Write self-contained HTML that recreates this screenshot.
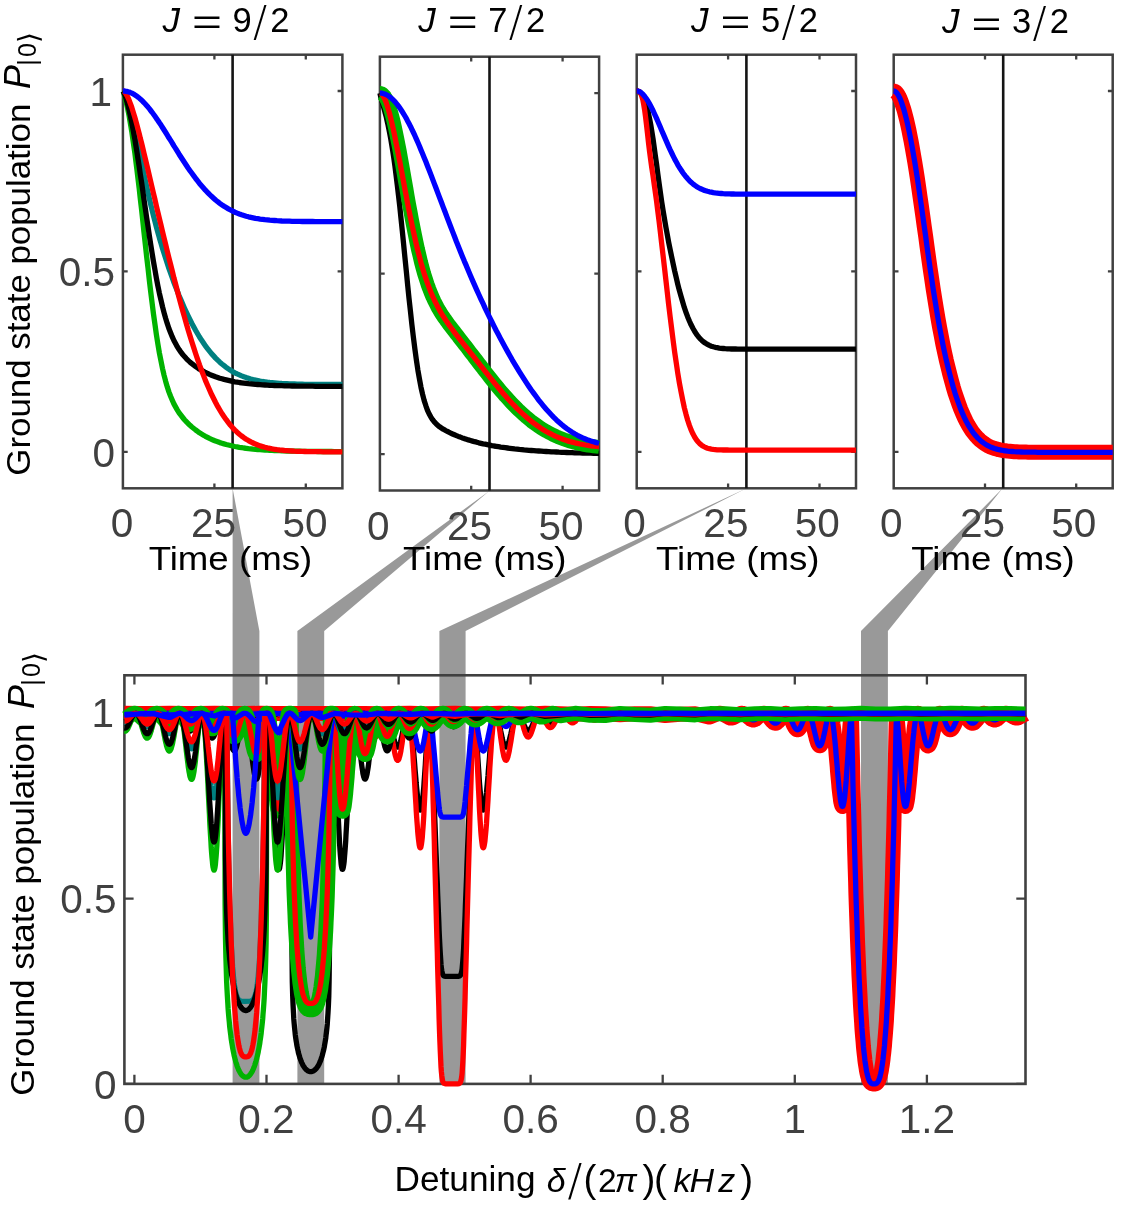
<!DOCTYPE html><html><head><meta charset="utf-8"><title>Ground state population vs detuning</title>
<style>html,body{margin:0;padding:0;background:#fff}svg{display:block}</style></head><body>
<svg width="1125" height="1205" viewBox="0 0 1125 1205">
<rect width="1125" height="1205" fill="#fff"/>
<path d="M232.6,488.3 L259.4,631 L259.4,1083.9 L232.6,1083.9 L232.6,488.3Z" fill="#999999"/>
<path d="M488.9,491.2 L324.2,631 L324.2,1083.9 L297.4,1083.9 L297.4,631Z" fill="#999999"/>
<path d="M746,488.6 L465.6,631 L465.6,1083.9 L439.4,1083.9 L439.4,631Z" fill="#999999"/>
<path d="M1002.4,488.6 L887.9,631 L887.9,1083.9 L861,1083.9 L861,631Z" fill="#999999"/>
<rect x="122.9" y="54.7" width="219.5" height="433.6" fill="none" stroke="#404040" stroke-width="2.5"/>
<path d="M214.4 54.7v4.8M214.4 488.3v-4.8" stroke="#404040" stroke-width="2.3"/>
<path d="M305.8 54.7v4.8M305.8 488.3v-4.8" stroke="#404040" stroke-width="2.3"/>
<path d="M122.9 451.8h4.8M342.4 451.8h-4.8" stroke="#404040" stroke-width="2.3"/>
<path d="M122.9 271.4h4.8M342.4 271.4h-4.8" stroke="#404040" stroke-width="2.3"/>
<path d="M122.9 91h4.8M342.4 91h-4.8" stroke="#404040" stroke-width="2.3"/>
<line x1="232.6" y1="54.7" x2="232.6" y2="488.3" stroke="#141414" stroke-width="2.6"/>
<path d="M122.9,91 L123.1,91.3 L123.4,92.1 L123.8,93.2 L124.3,94.7 L124.8,96.6 L125.4,98.8 L126,101.4 L126.7,104.3 L127.5,107.7 L128.2,111.5 L129.1,115.8 L129.9,120.6 L130.8,125.9 L131.8,131.7 L132.7,138.1 L133.7,145 L134.8,152.5 L135.8,160.7 L136.9,169.4 L138,178.7 L139.2,188.5 L140.3,198.8 L141.6,209.6 L142.8,220.9 L144,232.4 L145.3,244.2 L146.6,256.1 L148,268 L149.3,279.9 L150.7,291.6 L152.1,303 L153.5,314.1 L155,324.7 L156.4,334.7 L157.9,344.2 L159.4,353 L161,361.1 L162.5,368.5 L164.1,375.3 L165.7,381.4 L167.3,386.9 L168.9,391.9 L170.6,396.3 L172.3,400.3 L173.9,403.9 L175.7,407.1 L177.4,410.1 L179.1,412.8 L180.9,415.2 L182.7,417.5 L184.5,419.7 L186.3,421.6 L188.1,423.5 L190,425.3 L191.9,427 L193.8,428.5 L195.7,430 L197.6,431.4 L199.5,432.8 L201.5,434 L203.5,435.2 L205.4,436.3 L207.5,437.4 L209.5,438.4 L211.5,439.3 L213.6,440.2 L215.6,441.1 L217.7,441.8 L219.8,442.6 L221.9,443.2 L224.1,443.9 L226.2,444.5 L228.4,445 L230.5,445.5 L232.7,446 L234.9,446.5 L237.1,446.9 L239.4,447.3 L241.6,447.6 L243.9,448 L246.2,448.3 L248.5,448.6 L250.8,448.8 L253.1,449.1 L255.4,449.3 L257.8,449.5 L260.1,449.7 L262.5,449.9 L264.9,450 L267.3,450.2 L269.7,450.3 L272.1,450.4 L274.5,450.5 L277,450.6 L279.5,450.7 L281.9,450.8 L284.4,450.9 L286.9,451 L289.5,451 L292,451.1 L294.5,451.2 L297.1,451.2 L299.7,451.2 L302.2,451.3 L304.8,451.3 L307.4,451.4 L310,451.4 L312.7,451.4 L315.3,451.4 L318,451.5 L320.6,451.5 L323.3,451.5 L326,451.5 L328.7,451.5 L331.4,451.5 L334.2,451.6 L336.9,451.6 L339.6,451.6 L342.4,451.6" fill="none" stroke="#00b300" stroke-width="5.3" stroke-linejoin="round"/>
<path d="M122.9,91 L123.1,91 L123.4,91.2 L123.8,91.6 L124.3,92.1 L124.8,93 L125.4,94.2 L126,95.6 L126.7,97.4 L127.5,99.6 L128.2,102.1 L129.1,105 L129.9,108.2 L130.8,111.8 L131.8,115.7 L132.7,120 L133.7,124.5 L134.8,129.3 L135.8,134.4 L136.9,139.7 L138,145.2 L139.2,150.8 L140.3,156.6 L141.6,162.5 L142.8,168.4 L144,174.4 L145.3,180.4 L146.6,186.4 L148,192.4 L149.3,198.4 L150.7,204.3 L152.1,210.1 L153.5,215.8 L155,221.5 L156.4,227.1 L157.9,232.5 L159.4,237.9 L161,243.2 L162.5,248.4 L164.1,253.5 L165.7,258.5 L167.3,263.5 L168.9,268.3 L170.6,273.1 L172.3,277.8 L173.9,282.4 L175.7,286.9 L177.4,291.3 L179.1,295.7 L180.9,299.9 L182.7,304.1 L184.5,308.2 L186.3,312.2 L188.1,316 L190,319.8 L191.9,323.5 L193.8,327 L195.7,330.5 L197.6,333.8 L199.5,337 L201.5,340.1 L203.5,343 L205.4,345.9 L207.5,348.6 L209.5,351.1 L211.5,353.6 L213.6,355.9 L215.6,358.1 L217.7,360.2 L219.8,362.2 L221.9,364 L224.1,365.7 L226.2,367.3 L228.4,368.9 L230.5,370.3 L232.7,371.6 L234.9,372.8 L237.1,373.9 L239.4,374.9 L241.6,375.9 L243.9,376.8 L246.2,377.6 L248.5,378.3 L250.8,379 L253.1,379.6 L255.4,380.1 L257.8,380.6 L260.1,381.1 L262.5,381.5 L264.9,381.8 L267.3,382.2 L269.7,382.5 L272.1,382.7 L274.5,382.9 L277,383.1 L279.5,383.3 L281.9,383.5 L284.4,383.6 L286.9,383.7 L289.5,383.8 L292,383.9 L294.5,384 L297.1,384.1 L299.7,384.2 L302.2,384.2 L304.8,384.3 L307.4,384.3 L310,384.3 L312.7,384.4 L315.3,384.4 L318,384.4 L320.6,384.4 L323.3,384.4 L326,384.4 L328.7,384.4 L331.4,384.5 L334.2,384.5 L336.9,384.5 L339.6,384.5 L342.4,384.5" fill="none" stroke="#008080" stroke-width="5.3" stroke-linejoin="round"/>
<path d="M122.9,91 L123.1,91.2 L123.4,91.7 L123.8,92.5 L124.3,93.6 L124.8,94.9 L125.4,96.6 L126,98.6 L126.7,100.9 L127.5,103.6 L128.2,106.6 L129.1,110 L129.9,113.7 L130.8,117.9 L131.8,122.5 L132.7,127.5 L133.7,133 L134.8,138.9 L135.8,145.1 L136.9,151.9 L138,159 L139.2,166.5 L140.3,174.3 L141.6,182.5 L142.8,190.9 L144,199.5 L145.3,208.4 L146.6,217.3 L148,226.3 L149.3,235.3 L150.7,244.3 L152.1,253.1 L153.5,261.7 L155,270.1 L156.4,278.2 L157.9,285.9 L159.4,293.3 L161,300.2 L162.5,306.7 L164.1,312.8 L165.7,318.5 L167.3,323.7 L168.9,328.5 L170.6,332.8 L172.3,336.9 L173.9,340.5 L175.7,343.8 L177.4,346.9 L179.1,349.6 L180.9,352.2 L182.7,354.5 L184.5,356.6 L186.3,358.6 L188.1,360.4 L190,362.1 L191.9,363.7 L193.8,365.2 L195.7,366.6 L197.6,367.9 L199.5,369.2 L201.5,370.3 L203.5,371.4 L205.4,372.5 L207.5,373.4 L209.5,374.4 L211.5,375.2 L213.6,376 L215.6,376.8 L217.7,377.5 L219.8,378.2 L221.9,378.8 L224.1,379.4 L226.2,379.9 L228.4,380.4 L230.5,380.9 L232.7,381.4 L234.9,381.8 L237.1,382.1 L239.4,382.5 L241.6,382.8 L243.9,383.1 L246.2,383.4 L248.5,383.7 L250.8,383.9 L253.1,384.1 L255.4,384.3 L257.8,384.5 L260.1,384.7 L262.5,384.9 L264.9,385 L267.3,385.1 L269.7,385.3 L272.1,385.4 L274.5,385.5 L277,385.6 L279.5,385.6 L281.9,385.7 L284.4,385.8 L286.9,385.9 L289.5,385.9 L292,386 L294.5,386 L297.1,386.1 L299.7,386.1 L302.2,386.1 L304.8,386.2 L307.4,386.2 L310,386.2 L312.7,386.2 L315.3,386.3 L318,386.3 L320.6,386.3 L323.3,386.3 L326,386.3 L328.7,386.3 L331.4,386.3 L334.2,386.4 L336.9,386.4 L339.6,386.4 L342.4,386.4" fill="none" stroke="#000000" stroke-width="5.3" stroke-linejoin="round"/>
<path d="M122.9,91 L123.1,91 L123.4,91.1 L123.8,91.3 L124.3,91.7 L124.8,92.3 L125.4,93 L126,93.9 L126.7,95.1 L127.5,96.5 L128.2,98.2 L129.1,100.1 L129.9,102.3 L130.8,104.7 L131.8,107.4 L132.7,110.4 L133.7,113.7 L134.8,117.2 L135.8,120.9 L136.9,124.9 L138,129.1 L139.2,133.6 L140.3,138.3 L141.6,143.1 L142.8,148.1 L144,153.3 L145.3,158.7 L146.6,164.2 L148,169.9 L149.3,175.6 L150.7,181.5 L152.1,187.5 L153.5,193.6 L155,199.7 L156.4,206 L157.9,212.3 L159.4,218.7 L161,225.1 L162.5,231.6 L164.1,238.1 L165.7,244.7 L167.3,251.3 L168.9,257.9 L170.6,264.5 L172.3,271.2 L173.9,277.8 L175.7,284.5 L177.4,291.1 L179.1,297.7 L180.9,304.2 L182.7,310.7 L184.5,317.1 L186.3,323.5 L188.1,329.8 L190,335.9 L191.9,342 L193.8,347.9 L195.7,353.7 L197.6,359.4 L199.5,364.9 L201.5,370.2 L203.5,375.4 L205.4,380.4 L207.5,385.2 L209.5,389.8 L211.5,394.3 L213.6,398.5 L215.6,402.5 L217.7,406.4 L219.8,410 L221.9,413.5 L224.1,416.7 L226.2,419.7 L228.4,422.6 L230.5,425.3 L232.7,427.8 L234.9,430.1 L237.1,432.2 L239.4,434.2 L241.6,436 L243.9,437.7 L246.2,439.2 L248.5,440.6 L250.8,441.9 L253.1,443 L255.4,444.1 L257.8,445 L260.1,445.9 L262.5,446.6 L264.9,447.3 L267.3,447.9 L269.7,448.4 L272.1,448.9 L274.5,449.3 L277,449.7 L279.5,450 L281.9,450.2 L284.4,450.5 L286.9,450.7 L289.5,450.9 L292,451 L294.5,451.2 L297.1,451.3 L299.7,451.4 L302.2,451.4 L304.8,451.5 L307.4,451.6 L310,451.6 L312.7,451.7 L315.3,451.7 L318,451.7 L320.6,451.7 L323.3,451.8 L326,451.8 L328.7,451.8 L331.4,451.8 L334.2,451.8 L336.9,451.8 L339.6,451.8 L342.4,451.8" fill="none" stroke="#ff0000" stroke-width="5.3" stroke-linejoin="round"/>
<path d="M122.9,91 L123.1,91 L123.4,91 L123.8,91 L124.3,91 L124.8,91.1 L125.4,91.2 L126,91.3 L126.7,91.4 L127.5,91.6 L128.2,91.8 L129.1,92 L129.9,92.3 L130.8,92.7 L131.8,93.1 L132.7,93.6 L133.7,94.2 L134.8,94.8 L135.8,95.5 L136.9,96.2 L138,97.1 L139.2,98 L140.3,99.1 L141.6,100.2 L142.8,101.4 L144,102.7 L145.3,104 L146.6,105.5 L148,107.1 L149.3,108.7 L150.7,110.5 L152.1,112.3 L153.5,114.2 L155,116.3 L156.4,118.4 L157.9,120.5 L159.4,122.8 L161,125.1 L162.5,127.5 L164.1,130 L165.7,132.5 L167.3,135.1 L168.9,137.8 L170.6,140.4 L172.3,143.1 L173.9,145.9 L175.7,148.6 L177.4,151.4 L179.1,154.2 L180.9,157 L182.7,159.8 L184.5,162.5 L186.3,165.3 L188.1,168 L190,170.7 L191.9,173.3 L193.8,175.9 L195.7,178.5 L197.6,180.9 L199.5,183.4 L201.5,185.7 L203.5,188 L205.4,190.2 L207.5,192.3 L209.5,194.4 L211.5,196.3 L213.6,198.2 L215.6,200 L217.7,201.7 L219.8,203.3 L221.9,204.8 L224.1,206.3 L226.2,207.6 L228.4,208.9 L230.5,210 L232.7,211.1 L234.9,212.2 L237.1,213.1 L239.4,214 L241.6,214.8 L243.9,215.5 L246.2,216.2 L248.5,216.8 L250.8,217.3 L253.1,217.8 L255.4,218.3 L257.8,218.7 L260.1,219.1 L262.5,219.4 L264.9,219.7 L267.3,219.9 L269.7,220.2 L272.1,220.4 L274.5,220.5 L277,220.7 L279.5,220.8 L281.9,221 L284.4,221.1 L286.9,221.1 L289.5,221.2 L292,221.3 L294.5,221.3 L297.1,221.4 L299.7,221.4 L302.2,221.5 L304.8,221.5 L307.4,221.5 L310,221.5 L312.7,221.5 L315.3,221.6 L318,221.6 L320.6,221.6 L323.3,221.6 L326,221.6 L328.7,221.6 L331.4,221.6 L334.2,221.6 L336.9,221.6 L339.6,221.6 L342.4,221.6" fill="none" stroke="#0000ff" stroke-width="5.3" stroke-linejoin="round"/>
<rect x="379.9" y="56.7" width="219.2" height="433.8" fill="none" stroke="#404040" stroke-width="2.5"/>
<path d="M471.2 56.7v4.8M471.2 490.5v-4.8" stroke="#404040" stroke-width="2.3"/>
<path d="M562.6 56.7v4.8M562.6 490.5v-4.8" stroke="#404040" stroke-width="2.3"/>
<path d="M379.9 454.1h4.8M599.1 454.1h-4.8" stroke="#404040" stroke-width="2.3"/>
<path d="M379.9 273.6h4.8M599.1 273.6h-4.8" stroke="#404040" stroke-width="2.3"/>
<path d="M379.9 93.1h4.8M599.1 93.1h-4.8" stroke="#404040" stroke-width="2.3"/>
<line x1="489.5" y1="56.7" x2="489.5" y2="490.5" stroke="#141414" stroke-width="2.6"/>
<path d="M379.9,93.1 L380.1,94 L380.4,95.3 L380.8,96.9 L381.3,98.6 L381.8,100.6 L382.4,102.7 L383,105 L383.7,107.5 L384.5,110.2 L385.2,113.1 L386.1,116.3 L386.9,119.9 L387.8,123.8 L388.7,128.2 L389.7,133.1 L390.7,138.5 L391.7,144.5 L392.8,151.2 L393.9,158.5 L395,166.6 L396.1,175.5 L397.3,185.1 L398.5,195.5 L399.8,206.7 L401,218.5 L402.3,231 L403.6,243.9 L404.9,257.3 L406.3,270.9 L407.6,284.6 L409,298.3 L410.5,311.8 L411.9,324.8 L413.4,337.3 L414.9,349.1 L416.4,360.1 L417.9,370.2 L419.5,379.3 L421,387.3 L422.6,394.4 L424.2,400.6 L425.9,405.8 L427.5,410.3 L429.2,414 L430.9,417.1 L432.6,419.7 L434.3,421.9 L436.1,423.8 L437.8,425.4 L439.6,426.8 L441.4,428 L443.2,429.2 L445.1,430.2 L446.9,431.2 L448.8,432.2 L450.7,433.1 L452.6,434 L454.5,434.8 L456.4,435.6 L458.4,436.4 L460.3,437.1 L462.3,437.9 L464.3,438.6 L466.4,439.2 L468.4,439.9 L470.4,440.5 L472.5,441.1 L474.6,441.7 L476.7,442.2 L478.8,442.8 L480.9,443.3 L483.1,443.8 L485.2,444.2 L487.4,444.7 L489.6,445.1 L491.8,445.6 L494,446 L496.2,446.3 L498.5,446.7 L500.7,447.1 L503,447.4 L505.3,447.7 L507.6,448 L509.9,448.3 L512.2,448.6 L514.6,448.9 L516.9,449.1 L519.3,449.4 L521.7,449.6 L524.1,449.9 L526.5,450.1 L528.9,450.3 L531.3,450.5 L533.8,450.7 L536.3,450.9 L538.7,451 L541.2,451.2 L543.7,451.4 L546.2,451.5 L548.8,451.6 L551.3,451.8 L553.8,451.9 L556.4,452 L559,452.2 L561.6,452.3 L564.2,452.4 L566.8,452.5 L569.4,452.6 L572.1,452.7 L574.7,452.8 L577.4,452.8 L580,452.9 L582.7,453 L585.4,453.1 L588.1,453.1 L590.9,453.2 L593.6,453.3 L596.3,453.3 L599.1,453.4" fill="none" stroke="#000000" stroke-width="5.3" stroke-linejoin="round"/>
<path d="M379.9,93.1 L380.1,93.1 L380.4,93.1 L380.8,93.2 L381.3,93.3 L381.8,93.5 L382.4,93.9 L383,94.4 L383.7,95.1 L384.5,95.9 L385.2,97.1 L386.1,98.5 L386.9,100.2 L387.8,102.3 L388.7,104.7 L389.7,107.5 L390.7,110.8 L391.7,114.4 L392.8,118.4 L393.9,122.9 L395,127.8 L396.1,133.2 L397.3,138.9 L398.5,145 L399.8,151.6 L401,158.4 L402.3,165.5 L403.6,172.9 L404.9,180.5 L406.3,188.2 L407.6,196.1 L409,203.9 L410.5,211.8 L411.9,219.6 L413.4,227.2 L414.9,234.7 L416.4,242 L417.9,249 L419.5,255.7 L421,262.1 L422.6,268.1 L424.2,273.8 L425.9,279.2 L427.5,284.2 L429.2,288.8 L430.9,293.1 L432.6,297.2 L434.3,300.9 L436.1,304.4 L437.8,307.7 L439.6,310.8 L441.4,313.7 L443.2,316.5 L445.1,319.1 L446.9,321.7 L448.8,324.3 L450.7,326.8 L452.6,329.3 L454.5,331.7 L456.4,334.2 L458.4,336.7 L460.3,339.2 L462.3,341.8 L464.3,344.3 L466.4,346.9 L468.4,349.6 L470.4,352.3 L472.5,354.9 L474.6,357.7 L476.7,360.4 L478.8,363.2 L480.9,365.9 L483.1,368.7 L485.2,371.5 L487.4,374.3 L489.6,377.1 L491.8,379.9 L494,382.6 L496.2,385.4 L498.5,388.1 L500.7,390.8 L503,393.4 L505.3,396.1 L507.6,398.6 L509.9,401.2 L512.2,403.6 L514.6,406 L516.9,408.4 L519.3,410.7 L521.7,412.9 L524.1,415.1 L526.5,417.2 L528.9,419.2 L531.3,421.2 L533.8,423 L536.3,424.8 L538.7,426.5 L541.2,428.2 L543.7,429.7 L546.2,431.2 L548.8,432.6 L551.3,433.9 L553.8,435.2 L556.4,436.4 L559,437.5 L561.6,438.5 L564.2,439.5 L566.8,440.4 L569.4,441.2 L572.1,442 L574.7,442.7 L577.4,443.3 L580,443.9 L582.7,444.5 L585.4,445 L588.1,445.5 L590.9,445.9 L593.6,446.3 L596.3,446.6 L599.1,446.9" fill="none" stroke="#00b300" stroke-width="14.0" stroke-linejoin="round"/>
<path d="M379.9,93.1 L380.1,93.1 L380.4,93.2 L380.8,93.3 L381.3,93.7 L381.8,94.1 L382.4,94.8 L383,95.7 L383.7,96.9 L384.5,98.4 L385.2,100.1 L386.1,102.2 L386.9,104.7 L387.8,107.4 L388.7,110.6 L389.7,114.1 L390.7,118.1 L391.7,122.3 L392.8,127 L393.9,132 L395,137.3 L396.1,143 L397.3,148.9 L398.5,155.2 L399.8,161.6 L401,168.3 L402.3,175.1 L403.6,182.1 L404.9,189.2 L406.3,196.3 L407.6,203.4 L409,210.6 L410.5,217.6 L411.9,224.6 L413.4,231.4 L414.9,238.1 L416.4,244.6 L417.9,250.9 L419.5,256.9 L421,262.7 L422.6,268.3 L424.2,273.6 L425.9,278.6 L427.5,283.4 L429.2,287.9 L430.9,292.2 L432.6,296.2 L434.3,300 L436.1,303.6 L437.8,307 L439.6,310.3 L441.4,313.4 L443.2,316.3 L445.1,319.2 L446.9,321.9 L448.8,324.6 L450.7,327.2 L452.6,329.8 L454.5,332.3 L456.4,334.9 L458.4,337.4 L460.3,339.9 L462.3,342.4 L464.3,344.9 L466.4,347.5 L468.4,350 L470.4,352.6 L472.5,355.2 L474.6,357.9 L476.7,360.6 L478.8,363.2 L480.9,366 L483.1,368.7 L485.2,371.4 L487.4,374.2 L489.6,376.9 L491.8,379.6 L494,382.4 L496.2,385.1 L498.5,387.8 L500.7,390.5 L503,393.2 L505.3,395.8 L507.6,398.4 L509.9,401 L512.2,403.5 L514.6,405.9 L516.9,408.3 L519.3,410.6 L521.7,412.9 L524.1,415.1 L526.5,417.2 L528.9,419.3 L531.3,421.3 L533.8,423.2 L536.3,425 L538.7,426.7 L541.2,428.4 L543.7,430 L546.2,431.5 L548.8,432.9 L551.3,434.2 L553.8,435.5 L556.4,436.6 L559,437.7 L561.6,438.7 L564.2,439.7 L566.8,440.6 L569.4,441.4 L572.1,442.1 L574.7,442.8 L577.4,443.4 L580,444 L582.7,444.5 L585.4,445 L588.1,445.4 L590.9,445.8 L593.6,446.1 L596.3,446.4 L599.1,446.7" fill="none" stroke="#ff0000" stroke-width="5.3" stroke-linejoin="round"/>
<path d="M379.9,93.1 L380.1,93.1 L380.4,93.1 L380.8,93.1 L381.3,93.2 L381.8,93.2 L382.4,93.3 L383,93.5 L383.7,93.7 L384.5,93.9 L385.2,94.2 L386.1,94.6 L386.9,95 L387.8,95.5 L388.7,96.1 L389.7,96.8 L390.7,97.6 L391.7,98.5 L392.8,99.5 L393.9,100.6 L395,101.8 L396.1,103.1 L397.3,104.6 L398.5,106.2 L399.8,107.9 L401,109.7 L402.3,111.7 L403.6,113.8 L404.9,116 L406.3,118.4 L407.6,121 L409,123.6 L410.5,126.4 L411.9,129.4 L413.4,132.5 L414.9,135.7 L416.4,139.1 L417.9,142.5 L419.5,146.2 L421,149.9 L422.6,153.7 L424.2,157.7 L425.9,161.8 L427.5,166 L429.2,170.2 L430.9,174.6 L432.6,179.1 L434.3,183.6 L436.1,188.2 L437.8,192.8 L439.6,197.6 L441.4,202.3 L443.2,207.1 L445.1,212 L446.9,216.9 L448.8,221.8 L450.7,226.7 L452.6,231.6 L454.5,236.5 L456.4,241.5 L458.4,246.4 L460.3,251.3 L462.3,256.2 L464.3,261.1 L466.4,265.9 L468.4,270.8 L470.4,275.6 L472.5,280.4 L474.6,285.1 L476.7,289.8 L478.8,294.5 L480.9,299.1 L483.1,303.7 L485.2,308.3 L487.4,312.8 L489.6,317.3 L491.8,321.7 L494,326.1 L496.2,330.5 L498.5,334.8 L500.7,339.1 L503,343.3 L505.3,347.5 L507.6,351.6 L509.9,355.7 L512.2,359.8 L514.6,363.8 L516.9,367.7 L519.3,371.6 L521.7,375.4 L524.1,379.2 L526.5,382.9 L528.9,386.5 L531.3,390 L533.8,393.4 L536.3,396.8 L538.7,400.1 L541.2,403.2 L543.7,406.3 L546.2,409.2 L548.8,412.1 L551.3,414.8 L553.8,417.4 L556.4,419.9 L559,422.2 L561.6,424.5 L564.2,426.6 L566.8,428.6 L569.4,430.4 L572.1,432.2 L574.7,433.8 L577.4,435.3 L580,436.6 L582.7,437.9 L585.4,439 L588.1,440.1 L590.9,441 L593.6,441.8 L596.3,442.6 L599.1,443.3" fill="none" stroke="#0000ff" stroke-width="5.3" stroke-linejoin="round"/>
<rect x="636.7" y="54.7" width="219.3" height="433.6" fill="none" stroke="#404040" stroke-width="2.5"/>
<path d="M728.1 54.7v4.8M728.1 488.3v-4.8" stroke="#404040" stroke-width="2.3"/>
<path d="M819.5 54.7v4.8M819.5 488.3v-4.8" stroke="#404040" stroke-width="2.3"/>
<path d="M636.7 451.8h4.8M856 451.8h-4.8" stroke="#404040" stroke-width="2.3"/>
<path d="M636.7 271.4h4.8M856 271.4h-4.8" stroke="#404040" stroke-width="2.3"/>
<path d="M636.7 91h4.8M856 91h-4.8" stroke="#404040" stroke-width="2.3"/>
<line x1="746.4" y1="54.7" x2="746.4" y2="488.3" stroke="#141414" stroke-width="2.6"/>
<path d="M636.7,91 L636.9,91 L637.2,91 L637.6,91.1 L638.1,91.2 L638.6,91.4 L639.2,91.6 L639.8,92.1 L640.5,92.7 L641.3,93.5 L642,94.5 L642.9,95.9 L643.7,97.6 L644.6,99.7 L645.5,102.3 L646.5,105.4 L647.5,109.2 L648.5,113.6 L649.6,118.7 L650.7,124.5 L651.8,131.2 L653,138.6 L654.1,146.6 L655.3,155.3 L656.6,164.4 L657.8,173.8 L659.1,183.3 L660.4,192.7 L661.7,201.8 L663.1,210.6 L664.5,219 L665.9,227.1 L667.3,234.8 L668.7,242.4 L670.2,249.8 L671.7,257 L673.2,264.1 L674.7,271.1 L676.3,277.8 L677.8,284.3 L679.4,290.6 L681.1,296.5 L682.7,302.1 L684.3,307.4 L686,312.3 L687.7,316.9 L689.4,321 L691.1,324.8 L692.9,328.3 L694.6,331.3 L696.4,334.1 L698.2,336.5 L700,338.6 L701.9,340.4 L703.7,342 L705.6,343.3 L707.5,344.4 L709.4,345.4 L711.3,346.2 L713.3,346.8 L715.2,347.3 L717.2,347.7 L719.2,348.1 L721.2,348.3 L723.2,348.5 L725.2,348.7 L727.3,348.8 L729.3,348.9 L731.4,349 L733.5,349 L735.6,349 L737.8,349.1 L739.9,349.1 L742.1,349.1 L744.2,349.1 L746.4,349.1 L748.6,349.1 L750.8,349.1 L753.1,349.1 L755.3,349.1 L757.6,349.1 L759.9,349.1 L762.1,349.1 L764.4,349.1 L766.8,349.1 L769.1,349.1 L771.4,349.1 L773.8,349.1 L776.2,349.1 L778.5,349.1 L780.9,349.1 L783.3,349.1 L785.8,349.1 L788.2,349.1 L790.7,349.1 L793.1,349.1 L795.6,349.1 L798.1,349.1 L800.6,349.1 L803.1,349.1 L805.6,349.1 L808.2,349.1 L810.7,349.1 L813.3,349.1 L815.9,349.1 L818.5,349.1 L821.1,349.1 L823.7,349.1 L826.3,349.1 L828.9,349.1 L831.6,349.1 L834.3,349.1 L836.9,349.1 L839.6,349.1 L842.3,349.1 L845,349.1 L847.8,349.1 L850.5,349.1 L853.2,349.1 L856,349.1" fill="none" stroke="#000000" stroke-width="5.3" stroke-linejoin="round"/>
<path d="M636.7,91 L636.9,91 L637.2,91 L637.6,91.1 L638.1,91.2 L638.6,91.4 L639.2,91.7 L639.8,92.4 L640.5,93.3 L641.3,94.8 L642,97 L642.9,100 L643.7,104.2 L644.6,109.7 L645.5,116.5 L646.5,124.6 L647.5,133.5 L648.5,142.7 L649.6,151.7 L650.7,160 L651.8,167.8 L653,175.5 L654.1,183.6 L655.3,192.1 L656.6,201.3 L657.8,211.1 L659.1,221.5 L660.4,232.5 L661.7,243.9 L663.1,255.7 L664.5,267.8 L665.9,280.1 L667.3,292.5 L668.7,304.9 L670.2,317.2 L671.7,329.2 L673.2,341 L674.7,352.3 L676.3,363.2 L677.8,373.4 L679.4,383 L681.1,392 L682.7,400.1 L684.3,407.6 L686,414.2 L687.7,420.2 L689.4,425.4 L691.1,429.9 L692.9,433.8 L694.6,437 L696.4,439.8 L698.2,442 L700,443.9 L701.9,445.4 L703.7,446.5 L705.6,447.5 L707.5,448.2 L709.4,448.7 L711.3,449.1 L713.3,449.4 L715.2,449.6 L717.2,449.8 L719.2,449.9 L721.2,449.9 L723.2,450 L725.2,450 L727.3,450 L729.3,450.1 L731.4,450.1 L733.5,450.1 L735.6,450.1 L737.8,450.1 L739.9,450.1 L742.1,450.1 L744.2,450.1 L746.4,450.1 L748.6,450.1 L750.8,450.1 L753.1,450.1 L755.3,450.1 L757.6,450.1 L759.9,450.1 L762.1,450.1 L764.4,450.1 L766.8,450.1 L769.1,450.1 L771.4,450.1 L773.8,450.1 L776.2,450.1 L778.5,450.1 L780.9,450.1 L783.3,450.1 L785.8,450.1 L788.2,450.1 L790.7,450.1 L793.1,450.1 L795.6,450.1 L798.1,450.1 L800.6,450.1 L803.1,450.1 L805.6,450.1 L808.2,450.1 L810.7,450.1 L813.3,450.1 L815.9,450.1 L818.5,450.1 L821.1,450.1 L823.7,450.1 L826.3,450.1 L828.9,450.1 L831.6,450.1 L834.3,450.1 L836.9,450.1 L839.6,450.1 L842.3,450.1 L845,450.1 L847.8,450.1 L850.5,450.1 L853.2,450.1 L856,450.1" fill="none" stroke="#ff0000" stroke-width="5.3" stroke-linejoin="round"/>
<path d="M636.7,91 L636.9,91 L637.2,91 L637.6,91.1 L638.1,91.2 L638.6,91.3 L639.2,91.6 L639.8,91.9 L640.5,92.3 L641.3,92.8 L642,93.5 L642.9,94.3 L643.7,95.2 L644.6,96.3 L645.5,97.5 L646.5,98.8 L647.5,100.4 L648.5,102.1 L649.6,103.9 L650.7,106 L651.8,108.2 L653,110.5 L654.1,113 L655.3,115.6 L656.6,118.4 L657.8,121.2 L659.1,124.2 L660.4,127.3 L661.7,130.4 L663.1,133.6 L664.5,136.9 L665.9,140.1 L667.3,143.4 L668.7,146.6 L670.2,149.9 L671.7,153 L673.2,156.1 L674.7,159.1 L676.3,162 L677.8,164.8 L679.4,167.5 L681.1,170 L682.7,172.5 L684.3,174.7 L686,176.8 L687.7,178.8 L689.4,180.6 L691.1,182.3 L692.9,183.8 L694.6,185.1 L696.4,186.4 L698.2,187.5 L700,188.5 L701.9,189.3 L703.7,190.1 L705.6,190.7 L707.5,191.3 L709.4,191.8 L711.3,192.2 L713.3,192.6 L715.2,192.9 L717.2,193.1 L719.2,193.3 L721.2,193.5 L723.2,193.7 L725.2,193.8 L727.3,193.9 L729.3,193.9 L731.4,194 L733.5,194 L735.6,194.1 L737.8,194.1 L739.9,194.1 L742.1,194.1 L744.2,194.2 L746.4,194.2 L748.6,194.2 L750.8,194.2 L753.1,194.2 L755.3,194.2 L757.6,194.2 L759.9,194.2 L762.1,194.2 L764.4,194.2 L766.8,194.2 L769.1,194.2 L771.4,194.2 L773.8,194.2 L776.2,194.2 L778.5,194.2 L780.9,194.2 L783.3,194.2 L785.8,194.2 L788.2,194.2 L790.7,194.2 L793.1,194.2 L795.6,194.2 L798.1,194.2 L800.6,194.2 L803.1,194.2 L805.6,194.2 L808.2,194.2 L810.7,194.2 L813.3,194.2 L815.9,194.2 L818.5,194.2 L821.1,194.2 L823.7,194.2 L826.3,194.2 L828.9,194.2 L831.6,194.2 L834.3,194.2 L836.9,194.2 L839.6,194.2 L842.3,194.2 L845,194.2 L847.8,194.2 L850.5,194.2 L853.2,194.2 L856,194.2" fill="none" stroke="#0000ff" stroke-width="5.3" stroke-linejoin="round"/>
<rect x="893.7" y="54.7" width="219" height="433.6" fill="none" stroke="#404040" stroke-width="2.5"/>
<path d="M985 54.7v4.8M985 488.3v-4.8" stroke="#404040" stroke-width="2.3"/>
<path d="M1076.2 54.7v4.8M1076.2 488.3v-4.8" stroke="#404040" stroke-width="2.3"/>
<path d="M893.7 451.8h4.8M1112.7 451.8h-4.8" stroke="#404040" stroke-width="2.3"/>
<path d="M893.7 271.4h4.8M1112.7 271.4h-4.8" stroke="#404040" stroke-width="2.3"/>
<path d="M893.7 91h4.8M1112.7 91h-4.8" stroke="#404040" stroke-width="2.3"/>
<line x1="1003.2" y1="54.7" x2="1003.2" y2="488.3" stroke="#141414" stroke-width="2.6"/>
<path d="M893.7,91 L893.9,91 L894.2,91.1 L894.6,91.2 L895,91.4 L895.6,91.8 L896.2,92.3 L896.8,93 L897.5,93.9 L898.3,95.1 L899,96.5 L899.9,98.2 L900.7,100.2 L901.6,102.6 L902.5,105.3 L903.5,108.3 L904.5,111.8 L905.5,115.6 L906.6,119.9 L907.7,124.6 L908.8,129.7 L909.9,135.3 L911.1,141.3 L912.3,147.8 L913.5,154.8 L914.8,162.3 L916.1,170.2 L917.4,178.5 L918.7,187.3 L920,196.5 L921.4,206.1 L922.8,216 L924.2,226.2 L925.7,236.5 L927.1,247.1 L928.6,257.7 L930.1,268.3 L931.7,278.8 L933.2,289.1 L934.8,299.1 L936.4,308.9 L938,318.4 L939.6,327.4 L941.3,336.2 L942.9,344.5 L944.6,352.5 L946.3,360.2 L948.1,367.5 L949.8,374.4 L951.6,381.1 L953.3,387.3 L955.1,393.3 L957,398.8 L958.8,404 L960.6,408.9 L962.5,413.4 L964.4,417.6 L966.3,421.5 L968.2,425 L970.2,428.2 L972.1,431.2 L974.1,433.8 L976.1,436.2 L978.1,438.3 L980.1,440.2 L982.1,441.9 L984.2,443.4 L986.2,444.7 L988.3,445.9 L990.4,446.9 L992.5,447.7 L994.6,448.5 L996.8,449.1 L998.9,449.7 L1001.1,450.1 L1003.3,450.5 L1005.5,450.8 L1007.7,451.1 L1009.9,451.3 L1012.2,451.5 L1014.4,451.7 L1016.7,451.8 L1019,451.9 L1021.3,452 L1023.6,452.1 L1025.9,452.1 L1028.2,452.2 L1030.6,452.2 L1033,452.2 L1035.3,452.2 L1037.7,452.3 L1040.1,452.3 L1042.6,452.3 L1045,452.3 L1047.5,452.3 L1049.9,452.3 L1052.4,452.3 L1054.9,452.3 L1057.4,452.3 L1059.9,452.3 L1062.4,452.3 L1064.9,452.3 L1067.5,452.3 L1070.1,452.3 L1072.6,452.3 L1075.2,452.3 L1077.8,452.3 L1080.4,452.3 L1083,452.3 L1085.7,452.3 L1088.3,452.3 L1091,452.3 L1093.7,452.3 L1096.3,452.3 L1099,452.3 L1101.8,452.3 L1104.5,452.3 L1107.2,452.3 L1109.9,452.3 L1112.7,452.3" fill="none" stroke="#ff0000" stroke-width="15.0" stroke-linejoin="round"/>
<path d="M893.7,91 L893.9,91 L894.2,91.1 L894.6,91.2 L895,91.4 L895.6,91.8 L896.2,92.3 L896.8,93 L897.5,93.9 L898.3,95.1 L899,96.5 L899.9,98.2 L900.7,100.2 L901.6,102.6 L902.5,105.3 L903.5,108.3 L904.5,111.8 L905.5,115.6 L906.6,119.9 L907.7,124.6 L908.8,129.7 L909.9,135.3 L911.1,141.3 L912.3,147.8 L913.5,154.8 L914.8,162.3 L916.1,170.2 L917.4,178.5 L918.7,187.3 L920,196.5 L921.4,206.1 L922.8,216 L924.2,226.2 L925.7,236.5 L927.1,247.1 L928.6,257.7 L930.1,268.3 L931.7,278.8 L933.2,289.1 L934.8,299.1 L936.4,308.9 L938,318.4 L939.6,327.4 L941.3,336.2 L942.9,344.5 L944.6,352.5 L946.3,360.2 L948.1,367.5 L949.8,374.4 L951.6,381.1 L953.3,387.3 L955.1,393.3 L957,398.8 L958.8,404 L960.6,408.9 L962.5,413.4 L964.4,417.6 L966.3,421.5 L968.2,425 L970.2,428.2 L972.1,431.2 L974.1,433.8 L976.1,436.2 L978.1,438.3 L980.1,440.2 L982.1,441.9 L984.2,443.4 L986.2,444.7 L988.3,445.9 L990.4,446.9 L992.5,447.7 L994.6,448.5 L996.8,449.1 L998.9,449.7 L1001.1,450.1 L1003.3,450.5 L1005.5,450.8 L1007.7,451.1 L1009.9,451.3 L1012.2,451.5 L1014.4,451.7 L1016.7,451.8 L1019,451.9 L1021.3,452 L1023.6,452.1 L1025.9,452.1 L1028.2,452.2 L1030.6,452.2 L1033,452.2 L1035.3,452.2 L1037.7,452.3 L1040.1,452.3 L1042.6,452.3 L1045,452.3 L1047.5,452.3 L1049.9,452.3 L1052.4,452.3 L1054.9,452.3 L1057.4,452.3 L1059.9,452.3 L1062.4,452.3 L1064.9,452.3 L1067.5,452.3 L1070.1,452.3 L1072.6,452.3 L1075.2,452.3 L1077.8,452.3 L1080.4,452.3 L1083,452.3 L1085.7,452.3 L1088.3,452.3 L1091,452.3 L1093.7,452.3 L1096.3,452.3 L1099,452.3 L1101.8,452.3 L1104.5,452.3 L1107.2,452.3 L1109.9,452.3 L1112.7,452.3" fill="none" stroke="#0000ff" stroke-width="5.3" stroke-linejoin="round"/>
<rect x="124.4" y="675.3" width="901.1" height="408.6" fill="none" stroke="#404040" stroke-width="2.6"/>
<path d="M134.4 675.3v9.2M134.4 1083.9v-9.2" stroke="#404040" stroke-width="2.3"/>
<path d="M266.5 675.3v9.2M266.5 1083.9v-9.2" stroke="#404040" stroke-width="2.3"/>
<path d="M398.6 675.3v9.2M398.6 1083.9v-9.2" stroke="#404040" stroke-width="2.3"/>
<path d="M530.6 675.3v9.2M530.6 1083.9v-9.2" stroke="#404040" stroke-width="2.3"/>
<path d="M662.7 675.3v9.2M662.7 1083.9v-9.2" stroke="#404040" stroke-width="2.3"/>
<path d="M794.8 675.3v9.2M794.8 1083.9v-9.2" stroke="#404040" stroke-width="2.3"/>
<path d="M926.9 675.3v9.2M926.9 1083.9v-9.2" stroke="#404040" stroke-width="2.3"/>
<path d="M124.4 1083.9h9.2M1025.5 1083.9h-9.2" stroke="#404040" stroke-width="2.3"/>
<path d="M124.4 898.6h9.2M1025.5 898.6h-9.2" stroke="#404040" stroke-width="2.3"/>
<path d="M124.4 713.3h9.2M1025.5 713.3h-9.2" stroke="#404040" stroke-width="2.3"/>
<path d="M124.5,713.3 L139.5,713.4 L154.5,713.4 L169.6,713.3 L184.6,713.4 L199.6,713.5 L214.6,713.3 L229.6,713.4 L244.6,713.5 L259.7,713.3 L274.7,713.4 L289.7,713.6 L304.7,713.4 L319.7,713.4 L334.8,713.6 L349.8,713.4 L364.8,713.4 L379.8,713.7 L394.8,713.5 L409.9,713.3 L424.9,713.7 L439.9,713.6 L454.9,713.3 L469.9,713.8 L485,713.8 L500,713.3 L515,713.8 L530,714 L545,713.3 L560.1,713.8 L575.1,714.3 L590.1,713.4 L605.1,713.8 L620.1,714.8 L635.2,713.7 L650.2,713.8 L665.2,715.5 L680.2,714.2 L695.2,713.7 L708.7,716.9 L709.1,716.9 L709.5,716.9 L709.9,716.8 L710.2,716.8 L718.5,713.4 L718.9,713.4 L719.3,713.3 L719.6,713.3 L720,713.3 L720.4,713.3 L720.8,713.4 L721.1,713.4 L721.5,713.5 L721.9,713.7 L722.3,713.8 L725.3,715.5 L729,717.6 L729.4,717.8 L729.8,717.9 L730.1,717.9 L730.5,718 L730.9,718 L731.3,718 L731.7,718 L732,718 L732.4,717.9 L732.8,717.8 L733.2,717.7 L733.5,717.5 L733.9,717.4 L739.5,713.9 L739.9,713.7 L740.3,713.6 L740.7,713.5 L741,713.4 L741.4,713.3 L741.8,713.3 L742.2,713.3 L742.5,713.4 L742.9,713.4 L743.3,713.5 L743.7,713.7 L744,713.9 L744.4,714.1 L744.8,714.3 L745.2,714.5 L750,718.7 L750.4,718.9 L750.8,719.2 L751.2,719.4 L751.6,719.6 L751.9,719.7 L752.3,719.8 L752.7,719.9 L753.1,719.9 L753.4,719.9 L753.8,719.9 L754.2,719.8 L754.6,719.7 L754.9,719.6 L755.3,719.4 L755.7,719.2 L756.1,718.9 L756.4,718.6 L756.8,718.3 L760.6,714.8 L760.9,714.5 L761.3,714.3 L761.7,714 L762.1,713.8 L762.4,713.6 L762.8,713.5 L763.2,713.4 L763.6,713.3 L763.9,713.3 L764.3,713.3 L764.7,713.4 L765.1,713.5 L765.4,713.7 L765.8,713.9 L766.2,714.2 L766.6,714.5 L766.9,714.9 L767.3,715.2 L767.7,715.6 L768.1,716.1 L770.3,719.1 L771.5,720.5 L771.8,721 L772.2,721.4 L772.6,721.8 L773,722.1 L773.3,722.4 L773.7,722.7 L774.1,722.9 L774.5,723.1 L774.8,723.2 L775.2,723.2 L775.6,723.2 L776,723.2 L776.3,723 L776.7,722.9 L777.1,722.6 L777.5,722.3 L777.8,722 L778.2,721.6 L778.6,721.2 L779,720.8 L779.3,720.3 L779.7,719.8 L782,716.5 L782.3,716 L782.7,715.5 L783.1,715 L783.5,714.6 L783.8,714.3 L784.2,714 L784.6,713.7 L785,713.5 L785.3,713.4 L785.7,713.3 L786.1,713.3 L786.5,713.4 L786.8,713.6 L787.2,713.8 L787.6,714.1 L788,714.5 L788.3,714.9 L788.7,715.4 L789.1,716 L789.5,716.6 L789.9,717.3 L790.2,718 L790.6,718.8 L791,719.6 L792.9,723.7 L793.2,724.5 L793.6,725.3 L794,726 L794.4,726.7 L794.7,727.4 L795.1,727.9 L795.5,728.5 L795.9,728.9 L796.2,729.2 L796.6,729.5 L797,729.7 L797.4,729.8 L797.7,729.8 L798.1,729.7 L798.5,729.5 L798.9,729.2 L799.2,728.8 L799.6,728.3 L800,727.8 L800.4,727.1 L800.7,726.4 L801.1,725.7 L801.5,724.8 L801.9,724 L802.2,723.1 L803.7,719.4 L804.1,718.5 L804.5,717.6 L804.9,716.8 L805.2,716.1 L805.6,715.4 L806,714.8 L806.4,714.3 L806.7,713.9 L807.1,713.5 L807.5,713.4 L807.9,713.3 L808.2,713.4 L808.6,713.6 L809,713.9 L809.4,714.4 L809.8,714.9 L810.1,715.7 L810.5,716.5 L810.9,717.5 L811.3,718.6 L811.6,719.8 L812,721.1 L812.4,722.5 L812.8,724 L813.1,725.5 L813.5,727.1 L815,733.5 L815.4,735.1 L815.8,736.6 L816.1,738.1 L816.5,739.5 L816.9,740.8 L817.3,741.9 L817.6,743 L818,743.9 L818.4,744.6 L818.8,745.2 L819.1,745.6 L819.5,745.8 L819.9,745.8 L820.3,745.7 L820.6,745.4 L821,744.8 L821.4,744.1 L821.8,743.2 L822.1,742.2 L822.5,741 L822.9,739.6 L823.3,738.1 L823.6,736.5 L824,734.8 L824.4,733 L824.8,731.2 L825.9,725.5 L826.3,723.7 L826.6,721.9 L827,720.3 L827.4,718.7 L827.8,717.3 L828.2,716.1 L828.5,715.1 L828.9,714.2 L829.3,713.7 L829.7,713.4 L830,713.3 L830.4,713.6 L830.8,714.1 L831.2,715 L831.5,716.2 L831.9,717.7 L832.3,719.6 L832.7,721.7 L833,724.2 L833.4,727 L833.8,730.1 L834.2,733.4 L834.5,737 L834.9,740.8 L835.3,744.8 L835.7,749 L836,753.3 L836.4,757.7 L837.2,766.6 L837.5,771 L837.9,775.4 L838.3,779.6 L838.7,783.7 L839,787.6 L839.4,791.2 L839.8,794.5 L840.2,797.5 L840.5,800.1 L840.9,802.4 L841.3,804.1 L841.7,805.4 L842,806.2 L842.4,806.5 L842.8,806.3 L843.2,805.5 L843.5,804.1 L843.9,802.2 L844.3,799.8 L844.7,796.8 L845,793.4 L845.4,789.5 L845.8,785.1 L846.2,780.4 L846.5,775.3 L846.9,769.9 L847.3,764.3 L847.7,758.6 L848.1,752.9 L848.4,747.1 L848.8,741.5 L849.2,736.1 L849.6,731 L849.9,726.3 L850.3,722.2 L850.7,718.7 L851.1,716 L851.4,714.2 L851.8,730.1 L852.2,747.8 L852.6,764.9 L852.9,781.4 L853.3,797.4 L853.7,812.8 L854.1,827.6 L854.4,841.8 L854.8,855.6 L855.2,868.8 L855.6,881.5 L855.9,893.6 L856.3,905.3 L856.7,916.5 L857.1,927.2 L857.4,937.4 L857.8,947.2 L858.2,956.6 L858.6,965.5 L858.9,973.9 L859.3,982 L859.7,989.7 L860.1,996.9 L860.4,1003.8 L860.8,1010.3 L861.2,1016.5 L861.6,1022.3 L861.9,1027.7 L862.3,1032.8 L862.7,1037.6 L863.1,1042.1 L863.4,1046.3 L863.8,1050.2 L864.2,1053.8 L864.6,1057.2 L864.9,1060.3 L865.3,1063.1 L865.7,1065.7 L866.1,1068.1 L866.4,1070.3 L866.8,1072.2 L867.2,1074 L867.6,1075.6 L868,1077 L868.3,1078.2 L868.7,1079.3 L869.1,1080.2 L869.5,1081 L869.8,1081.7 L870.2,1082.2 L870.6,1082.7 L871,1083.1 L871.3,1083.3 L871.7,1083.5 L872.1,1083.7 L872.5,1083.8 L872.8,1083.9 L874.7,1083.9 L875.1,1083.8 L875.5,1083.8 L875.8,1083.7 L876.2,1083.5 L876.6,1083.3 L877,1083 L877.3,1082.6 L877.7,1082.1 L878.1,1081.5 L878.5,1080.8 L878.8,1080 L879.2,1079 L879.6,1077.9 L880,1076.6 L880.3,1075.2 L880.7,1073.6 L881.1,1071.8 L881.5,1069.8 L881.8,1067.6 L882.2,1065.2 L882.6,1062.5 L883,1059.6 L883.3,1056.4 L883.7,1053 L884.1,1049.3 L884.5,1045.4 L884.8,1041.1 L885.2,1036.6 L885.6,1031.7 L886,1026.5 L886.4,1021 L886.7,1015.1 L887.1,1008.8 L887.5,1002.3 L887.9,995.3 L888.2,987.9 L888.6,980.2 L889,972 L889.4,963.4 L889.7,954.4 L890.1,945 L890.5,935.1 L890.9,924.7 L891.2,913.9 L891.6,902.6 L892,890.8 L892.4,878.5 L892.7,865.7 L893.1,852.4 L893.5,838.6 L893.9,824.2 L894.2,809.2 L894.6,793.7 L895,777.6 L895.4,761 L895.7,743.7 L896.1,726 L896.5,714.5 L896.9,716.6 L897.2,719.5 L897.6,723.1 L898,727.4 L898.4,732.1 L898.7,737.3 L899.1,742.8 L899.5,748.4 L900.2,760 L900.6,765.7 L901,771.2 L901.4,776.5 L901.7,781.5 L902.1,786.2 L902.5,790.4 L902.9,794.2 L903.2,797.6 L903.6,800.4 L904,802.7 L904.4,804.5 L904.7,805.7 L905.1,806.4 L905.5,806.5 L905.9,806.1 L906.3,805.2 L906.6,803.8 L907,801.9 L907.4,799.6 L907.8,796.9 L908.1,793.8 L908.5,790.4 L908.9,786.7 L909.3,782.8 L909.6,778.6 L910,774.4 L910.4,770 L911.1,761.1 L911.5,756.6 L911.9,752.3 L912.3,748 L912.6,743.8 L913,739.9 L913.4,736.1 L913.8,732.6 L914.1,729.3 L914.5,726.3 L914.9,723.6 L915.3,721.2 L915.6,719.1 L916,717.3 L916.4,715.9 L916.8,714.8 L917.1,714 L917.5,713.5 L917.9,713.3 L918.3,713.4 L918.6,713.8 L919,714.4 L919.4,715.3 L919.8,716.4 L920.1,717.6 L920.5,719.1 L920.9,720.7 L921.3,722.3 L921.6,724.1 L922,726 L923.1,731.6 L923.5,733.4 L923.9,735.2 L924.3,736.9 L924.6,738.5 L925,740 L925.4,741.3 L925.8,742.5 L926.2,743.5 L926.5,744.3 L926.9,745 L927.3,745.5 L927.7,745.7 L928,745.9 L928.4,745.8 L928.8,745.5 L929.2,745.1 L929.5,744.4 L929.9,743.7 L930.3,742.7 L930.7,741.7 L931,740.5 L931.4,739.2 L931.8,737.8 L932.2,736.3 L932.5,734.8 L932.9,733.2 L934,728.3 L934.4,726.7 L934.8,725.1 L935.2,723.6 L935.5,722.2 L935.9,720.8 L936.3,719.5 L936.7,718.3 L937,717.3 L937.4,716.3 L937.8,715.5 L938.2,714.8 L938.5,714.2 L938.9,713.8 L939.3,713.5 L939.7,713.3 L940,713.3 L940.4,713.4 L940.8,713.6 L941.2,713.9 L941.5,714.4 L941.9,714.9 L942.3,715.5 L942.7,716.2 L943,717 L943.4,717.8 L943.8,718.7 L944.2,719.6 L945.7,723.3 L946.1,724.2 L946.4,725 L946.8,725.8 L947.2,726.6 L947.6,727.3 L947.9,727.9 L948.3,728.4 L948.7,728.9 L949.1,729.2 L949.4,729.5 L949.8,729.7 L950.2,729.8 L950.6,729.8 L950.9,729.6 L951.3,729.5 L951.7,729.2 L952.1,728.8 L952.4,728.3 L952.8,727.8 L953.2,727.2 L953.6,726.6 L953.9,725.9 L954.3,725.1 L954.7,724.3 L956.9,719.4 L957.3,718.6 L957.7,717.8 L958.1,717.1 L958.4,716.5 L958.8,715.8 L959.2,715.3 L959.6,714.8 L959.9,714.4 L960.3,714 L960.7,713.7 L961.1,713.5 L961.4,713.4 L961.8,713.3 L962.2,713.3 L962.6,713.4 L962.9,713.5 L963.3,713.7 L963.7,714 L964.1,714.3 L964.5,714.7 L964.8,715.1 L965.2,715.6 L965.6,716.1 L968.2,719.9 L968.6,720.4 L969,720.9 L969.3,721.3 L969.7,721.7 L970.1,722.1 L970.5,722.4 L970.8,722.7 L971.2,722.9 L971.6,723.1 L972,723.2 L972.3,723.2 L972.7,723.2 L973.1,723.2 L973.5,723 L973.8,722.9 L974.2,722.6 L974.6,722.4 L975,722.1 L975.3,721.7 L975.7,721.3 L976.1,720.9 L976.5,720.4 L979.5,716.4 L979.8,716 L980.2,715.5 L980.6,715.1 L981,714.8 L981.3,714.4 L981.7,714.1 L982.1,713.9 L982.5,713.7 L982.8,713.5 L983.2,713.4 L983.6,713.3 L984,713.3 L984.4,713.3 L984.7,713.4 L985.1,713.5 L985.5,713.6 L985.9,713.8 L986.2,714.1 L986.6,714.3 L987,714.6 L987.4,714.9 L991.1,718.4 L991.5,718.7 L991.9,719 L992.2,719.2 L992.6,719.4 L993,719.6 L993.4,719.7 L993.7,719.8 L994.1,719.9 L994.5,719.9 L994.9,719.9 L995.2,719.9 L995.6,719.8 L996,719.7 L996.4,719.5 L996.7,719.3 L997.1,719.1 L997.5,718.9 L997.9,718.6 L1002.4,714.7 L1002.8,714.5 L1003.1,714.2 L1003.5,714 L1003.9,713.8 L1004.3,713.6 L1004.6,713.5 L1005,713.4 L1005.4,713.3 L1005.8,713.3 L1006.1,713.3 L1006.5,713.3 L1006.9,713.4 L1007.3,713.5 L1007.6,713.6 L1008,713.7 L1008.4,713.9 L1010.6,715.3 L1014,717.4 L1014.4,717.6 L1014.8,717.7 L1015.1,717.8 L1015.5,717.9 L1015.9,718 L1016.3,718 L1016.6,718 L1017,718 L1017.4,718 L1017.8,717.9 L1018.1,717.8 L1018.5,717.7 L1018.9,717.6 L1025.3,713.9" fill="none" stroke="#ff0000" stroke-width="15.0" stroke-linejoin="round"/>
<path d="M124.5,713.3 L139.5,713.4 L154.5,713.4 L169.6,713.3 L184.6,713.4 L199.6,713.5 L214.6,713.3 L229.6,713.4 L244.6,713.5 L259.7,713.3 L274.7,713.4 L289.7,713.6 L304.7,713.4 L319.7,713.4 L334.8,713.6 L349.8,713.4 L364.8,713.4 L379.8,713.7 L394.8,713.5 L409.9,713.3 L424.9,713.7 L439.9,713.6 L454.9,713.3 L469.9,713.8 L485,713.8 L500,713.3 L515,713.8 L530,714 L545,713.3 L560.1,713.8 L575.1,714.3 L590.1,713.4 L605.1,713.8 L620.1,714.8 L635.2,713.7 L650.2,713.8 L665.2,715.5 L680.2,714.2 L695.2,713.7 L708.7,716.9 L709.1,716.9 L709.5,716.9 L709.9,716.8 L710.2,716.8 L718.5,713.4 L718.9,713.4 L719.3,713.3 L719.6,713.3 L720,713.3 L720.4,713.3 L720.8,713.4 L721.1,713.4 L721.5,713.5 L721.9,713.7 L722.3,713.8 L725.3,715.5 L729,717.6 L729.4,717.8 L729.8,717.9 L730.1,717.9 L730.5,718 L730.9,718 L731.3,718 L731.7,718 L732,718 L732.4,717.9 L732.8,717.8 L733.2,717.7 L733.5,717.5 L733.9,717.4 L739.5,713.9 L739.9,713.7 L740.3,713.6 L740.7,713.5 L741,713.4 L741.4,713.3 L741.8,713.3 L742.2,713.3 L742.5,713.4 L742.9,713.4 L743.3,713.5 L743.7,713.7 L744,713.9 L744.4,714.1 L744.8,714.3 L745.2,714.5 L750,718.7 L750.4,718.9 L750.8,719.2 L751.2,719.4 L751.6,719.6 L751.9,719.7 L752.3,719.8 L752.7,719.9 L753.1,719.9 L753.4,719.9 L753.8,719.9 L754.2,719.8 L754.6,719.7 L754.9,719.6 L755.3,719.4 L755.7,719.2 L756.1,718.9 L756.4,718.6 L756.8,718.3 L760.6,714.8 L760.9,714.5 L761.3,714.3 L761.7,714 L762.1,713.8 L762.4,713.6 L762.8,713.5 L763.2,713.4 L763.6,713.3 L763.9,713.3 L764.3,713.3 L764.7,713.4 L765.1,713.5 L765.4,713.7 L765.8,713.9 L766.2,714.2 L766.6,714.5 L766.9,714.9 L767.3,715.2 L767.7,715.6 L768.1,716.1 L770.3,719.1 L771.5,720.5 L771.8,721 L772.2,721.4 L772.6,721.8 L773,722.1 L773.3,722.4 L773.7,722.7 L774.1,722.9 L774.5,723.1 L774.8,723.2 L775.2,723.2 L775.6,723.2 L776,723.2 L776.3,723 L776.7,722.9 L777.1,722.6 L777.5,722.3 L777.8,722 L778.2,721.6 L778.6,721.2 L779,720.8 L779.3,720.3 L779.7,719.8 L782,716.5 L782.3,716 L782.7,715.5 L783.1,715 L783.5,714.6 L783.8,714.3 L784.2,714 L784.6,713.7 L785,713.5 L785.3,713.4 L785.7,713.3 L786.1,713.3 L786.5,713.4 L786.8,713.6 L787.2,713.8 L787.6,714.1 L788,714.5 L788.3,714.9 L788.7,715.4 L789.1,716 L789.5,716.6 L789.9,717.3 L790.2,718 L790.6,718.8 L791,719.6 L792.9,723.7 L793.2,724.5 L793.6,725.3 L794,726 L794.4,726.7 L794.7,727.4 L795.1,727.9 L795.5,728.5 L795.9,728.9 L796.2,729.2 L796.6,729.5 L797,729.7 L797.4,729.8 L797.7,729.8 L798.1,729.7 L798.5,729.5 L798.9,729.2 L799.2,728.8 L799.6,728.3 L800,727.8 L800.4,727.1 L800.7,726.4 L801.1,725.7 L801.5,724.8 L801.9,724 L802.2,723.1 L803.7,719.4 L804.1,718.5 L804.5,717.6 L804.9,716.8 L805.2,716.1 L805.6,715.4 L806,714.8 L806.4,714.3 L806.7,713.9 L807.1,713.5 L807.5,713.4 L807.9,713.3 L808.2,713.4 L808.6,713.6 L809,713.9 L809.4,714.4 L809.8,714.9 L810.1,715.7 L810.5,716.5 L810.9,717.5 L811.3,718.6 L811.6,719.8 L812,721.1 L812.4,722.5 L812.8,724 L813.1,725.5 L813.5,727.1 L815,733.5 L815.4,735.1 L815.8,736.6 L816.1,738.1 L816.5,739.5 L816.9,740.8 L817.3,741.9 L817.6,743 L818,743.9 L818.4,744.6 L818.8,745.2 L819.1,745.6 L819.5,745.8 L819.9,745.8 L820.3,745.7 L820.6,745.4 L821,744.8 L821.4,744.1 L821.8,743.2 L822.1,742.2 L822.5,741 L822.9,739.6 L823.3,738.1 L823.6,736.5 L824,734.8 L824.4,733 L824.8,731.2 L825.9,725.5 L826.3,723.7 L826.6,721.9 L827,720.3 L827.4,718.7 L827.8,717.3 L828.2,716.1 L828.5,715.1 L828.9,714.2 L829.3,713.7 L829.7,713.4 L830,713.3 L830.4,713.6 L830.8,714.1 L831.2,715 L831.5,716.2 L831.9,717.7 L832.3,719.6 L832.7,721.7 L833,724.2 L833.4,727 L833.8,730.1 L834.2,733.4 L834.5,737 L834.9,740.8 L835.3,744.8 L835.7,749 L836,753.3 L836.4,757.7 L837.2,766.6 L837.5,771 L837.9,775.4 L838.3,779.6 L838.7,783.7 L839,787.6 L839.4,791.2 L839.8,794.5 L840.2,797.5 L840.5,800.1 L840.9,802.4 L841.3,804.1 L841.7,805.4 L842,806.2 L842.4,806.5 L842.8,806.3 L843.2,805.5 L843.5,804.1 L843.9,802.2 L844.3,799.8 L844.7,796.8 L845,793.4 L845.4,789.5 L845.8,785.1 L846.2,780.4 L846.5,775.3 L846.9,769.9 L847.3,764.3 L847.7,758.6 L848.1,752.9 L848.4,747.1 L848.8,741.5 L849.2,736.1 L849.6,731 L849.9,726.3 L850.3,722.2 L850.7,718.7 L851.1,716 L851.4,714.2 L851.8,730.1 L852.2,747.8 L852.6,764.9 L852.9,781.4 L853.3,797.4 L853.7,812.8 L854.1,827.6 L854.4,841.8 L854.8,855.6 L855.2,868.8 L855.6,881.5 L855.9,893.6 L856.3,905.3 L856.7,916.5 L857.1,927.2 L857.4,937.4 L857.8,947.2 L858.2,956.6 L858.6,965.5 L858.9,973.9 L859.3,982 L859.7,989.7 L860.1,996.9 L860.4,1003.8 L860.8,1010.3 L861.2,1016.5 L861.6,1022.3 L861.9,1027.7 L862.3,1032.8 L862.7,1037.6 L863.1,1042.1 L863.4,1046.3 L863.8,1050.2 L864.2,1053.8 L864.6,1057.2 L864.9,1060.3 L865.3,1063.1 L865.7,1065.7 L866.1,1068.1 L866.4,1070.3 L866.8,1072.2 L867.2,1074 L867.6,1075.6 L868,1077 L868.3,1078.2 L868.7,1079.3 L869.1,1080.2 L869.5,1081 L869.8,1081.7 L870.2,1082.2 L870.6,1082.7 L871,1083.1 L871.3,1083.3 L871.7,1083.5 L872.1,1083.7 L872.5,1083.8 L872.8,1083.9 L874.7,1083.9 L875.1,1083.8 L875.5,1083.8 L875.8,1083.7 L876.2,1083.5 L876.6,1083.3 L877,1083 L877.3,1082.6 L877.7,1082.1 L878.1,1081.5 L878.5,1080.8 L878.8,1080 L879.2,1079 L879.6,1077.9 L880,1076.6 L880.3,1075.2 L880.7,1073.6 L881.1,1071.8 L881.5,1069.8 L881.8,1067.6 L882.2,1065.2 L882.6,1062.5 L883,1059.6 L883.3,1056.4 L883.7,1053 L884.1,1049.3 L884.5,1045.4 L884.8,1041.1 L885.2,1036.6 L885.6,1031.7 L886,1026.5 L886.4,1021 L886.7,1015.1 L887.1,1008.8 L887.5,1002.3 L887.9,995.3 L888.2,987.9 L888.6,980.2 L889,972 L889.4,963.4 L889.7,954.4 L890.1,945 L890.5,935.1 L890.9,924.7 L891.2,913.9 L891.6,902.6 L892,890.8 L892.4,878.5 L892.7,865.7 L893.1,852.4 L893.5,838.6 L893.9,824.2 L894.2,809.2 L894.6,793.7 L895,777.6 L895.4,761 L895.7,743.7 L896.1,726 L896.5,714.5 L896.9,716.6 L897.2,719.5 L897.6,723.1 L898,727.4 L898.4,732.1 L898.7,737.3 L899.1,742.8 L899.5,748.4 L900.2,760 L900.6,765.7 L901,771.2 L901.4,776.5 L901.7,781.5 L902.1,786.2 L902.5,790.4 L902.9,794.2 L903.2,797.6 L903.6,800.4 L904,802.7 L904.4,804.5 L904.7,805.7 L905.1,806.4 L905.5,806.5 L905.9,806.1 L906.3,805.2 L906.6,803.8 L907,801.9 L907.4,799.6 L907.8,796.9 L908.1,793.8 L908.5,790.4 L908.9,786.7 L909.3,782.8 L909.6,778.6 L910,774.4 L910.4,770 L911.1,761.1 L911.5,756.6 L911.9,752.3 L912.3,748 L912.6,743.8 L913,739.9 L913.4,736.1 L913.8,732.6 L914.1,729.3 L914.5,726.3 L914.9,723.6 L915.3,721.2 L915.6,719.1 L916,717.3 L916.4,715.9 L916.8,714.8 L917.1,714 L917.5,713.5 L917.9,713.3 L918.3,713.4 L918.6,713.8 L919,714.4 L919.4,715.3 L919.8,716.4 L920.1,717.6 L920.5,719.1 L920.9,720.7 L921.3,722.3 L921.6,724.1 L922,726 L923.1,731.6 L923.5,733.4 L923.9,735.2 L924.3,736.9 L924.6,738.5 L925,740 L925.4,741.3 L925.8,742.5 L926.2,743.5 L926.5,744.3 L926.9,745 L927.3,745.5 L927.7,745.7 L928,745.9 L928.4,745.8 L928.8,745.5 L929.2,745.1 L929.5,744.4 L929.9,743.7 L930.3,742.7 L930.7,741.7 L931,740.5 L931.4,739.2 L931.8,737.8 L932.2,736.3 L932.5,734.8 L932.9,733.2 L934,728.3 L934.4,726.7 L934.8,725.1 L935.2,723.6 L935.5,722.2 L935.9,720.8 L936.3,719.5 L936.7,718.3 L937,717.3 L937.4,716.3 L937.8,715.5 L938.2,714.8 L938.5,714.2 L938.9,713.8 L939.3,713.5 L939.7,713.3 L940,713.3 L940.4,713.4 L940.8,713.6 L941.2,713.9 L941.5,714.4 L941.9,714.9 L942.3,715.5 L942.7,716.2 L943,717 L943.4,717.8 L943.8,718.7 L944.2,719.6 L945.7,723.3 L946.1,724.2 L946.4,725 L946.8,725.8 L947.2,726.6 L947.6,727.3 L947.9,727.9 L948.3,728.4 L948.7,728.9 L949.1,729.2 L949.4,729.5 L949.8,729.7 L950.2,729.8 L950.6,729.8 L950.9,729.6 L951.3,729.5 L951.7,729.2 L952.1,728.8 L952.4,728.3 L952.8,727.8 L953.2,727.2 L953.6,726.6 L953.9,725.9 L954.3,725.1 L954.7,724.3 L956.9,719.4 L957.3,718.6 L957.7,717.8 L958.1,717.1 L958.4,716.5 L958.8,715.8 L959.2,715.3 L959.6,714.8 L959.9,714.4 L960.3,714 L960.7,713.7 L961.1,713.5 L961.4,713.4 L961.8,713.3 L962.2,713.3 L962.6,713.4 L962.9,713.5 L963.3,713.7 L963.7,714 L964.1,714.3 L964.5,714.7 L964.8,715.1 L965.2,715.6 L965.6,716.1 L968.2,719.9 L968.6,720.4 L969,720.9 L969.3,721.3 L969.7,721.7 L970.1,722.1 L970.5,722.4 L970.8,722.7 L971.2,722.9 L971.6,723.1 L972,723.2 L972.3,723.2 L972.7,723.2 L973.1,723.2 L973.5,723 L973.8,722.9 L974.2,722.6 L974.6,722.4 L975,722.1 L975.3,721.7 L975.7,721.3 L976.1,720.9 L976.5,720.4 L979.5,716.4 L979.8,716 L980.2,715.5 L980.6,715.1 L981,714.8 L981.3,714.4 L981.7,714.1 L982.1,713.9 L982.5,713.7 L982.8,713.5 L983.2,713.4 L983.6,713.3 L984,713.3 L984.4,713.3 L984.7,713.4 L985.1,713.5 L985.5,713.6 L985.9,713.8 L986.2,714.1 L986.6,714.3 L987,714.6 L987.4,714.9 L991.1,718.4 L991.5,718.7 L991.9,719 L992.2,719.2 L992.6,719.4 L993,719.6 L993.4,719.7 L993.7,719.8 L994.1,719.9 L994.5,719.9 L994.9,719.9 L995.2,719.9 L995.6,719.8 L996,719.7 L996.4,719.5 L996.7,719.3 L997.1,719.1 L997.5,718.9 L997.9,718.6 L1002.4,714.7 L1002.8,714.5 L1003.1,714.2 L1003.5,714 L1003.9,713.8 L1004.3,713.6 L1004.6,713.5 L1005,713.4 L1005.4,713.3 L1005.8,713.3 L1006.1,713.3 L1006.5,713.3 L1006.9,713.4 L1007.3,713.5 L1007.6,713.6 L1008,713.7 L1008.4,713.9 L1010.6,715.3 L1014,717.4 L1014.4,717.6 L1014.8,717.7 L1015.1,717.8 L1015.5,717.9 L1015.9,718 L1016.3,718 L1016.6,718 L1017,718 L1017.4,718 L1017.8,717.9 L1018.1,717.8 L1018.5,717.7 L1018.9,717.6 L1025.3,713.9" fill="none" stroke="#0000ff" stroke-width="5.3" stroke-linejoin="round"/>
<path d="M124.5,713.5 L139.5,713.6 L154.5,714.4 L169.6,713.7 L184.6,713.6 L199.6,714.9 L214.6,714.1 L229.6,713.5 L244.6,715.5 L259.7,714.9 L274.7,713.4 L286,716.9 L286.3,717 L286.7,717 L287.1,717 L287.5,717 L287.8,716.9 L288.2,716.9 L289.7,716.5 L296.1,713.5 L296.5,713.4 L296.8,713.4 L297.2,713.3 L297.6,713.3 L298,713.3 L298.3,713.3 L298.7,713.4 L299.1,713.5 L299.5,713.6 L299.8,713.7 L300.2,713.8 L304.7,716.6 L306.6,717.7 L307,717.8 L307.4,718 L307.7,718.1 L308.1,718.1 L308.5,718.2 L308.9,718.2 L309.2,718.2 L309.6,718.2 L310,718.1 L310.4,718.1 L310.7,717.9 L311.1,717.8 L311.5,717.7 L311.9,717.5 L317.1,714 L317.5,713.8 L317.9,713.7 L318.2,713.5 L318.6,713.4 L319,713.4 L319.4,713.3 L319.7,713.3 L320.1,713.3 L320.5,713.4 L320.9,713.5 L321.2,713.6 L321.6,713.7 L322,713.9 L322.4,714.1 L322.7,714.4 L323.1,714.6 L327.6,718.6 L328,718.9 L328.4,719.2 L328.8,719.4 L329.1,719.7 L329.5,719.8 L329.9,720 L330.3,720.1 L330.6,720.2 L331,720.2 L331.4,720.2 L331.8,720.1 L332.1,720.1 L332.5,719.9 L332.9,719.8 L333.3,719.6 L333.6,719.3 L334,719.1 L334.4,718.8 L334.8,718.5 L338.5,714.8 L338.9,714.5 L339.3,714.2 L339.6,714 L340,713.8 L340.4,713.6 L340.8,713.4 L341.1,713.4 L341.5,713.3 L341.9,713.3 L342.3,713.4 L342.7,713.4 L343,713.6 L343.4,713.8 L343.8,714 L344.2,714.3 L344.5,714.6 L344.9,715 L345.3,715.4 L345.7,715.8 L346,716.3 L349.4,720.9 L349.8,721.4 L350.2,721.8 L350.5,722.2 L350.9,722.5 L351.3,722.9 L351.7,723.1 L352,723.3 L352.4,723.5 L352.8,723.6 L353.2,723.6 L353.5,723.6 L353.9,723.5 L354.3,723.4 L354.7,723.2 L355,722.9 L355.4,722.6 L355.8,722.3 L356.2,721.9 L356.5,721.4 L356.9,720.9 L357.3,720.4 L359.9,716.5 L360.3,716 L360.7,715.5 L361,715 L361.4,714.6 L361.8,714.2 L362.2,713.9 L362.6,713.7 L362.9,713.5 L363.3,713.3 L363.7,713.3 L364.1,713.3 L364.4,713.4 L364.8,713.6 L365.2,713.9 L365.6,714.2 L365.9,714.6 L366.3,715.1 L366.7,715.6 L367.1,716.2 L367.4,716.9 L367.8,717.6 L368.2,718.4 L368.6,719.2 L368.9,720 L370.8,724.3 L371.2,725.1 L371.6,725.9 L371.9,726.7 L372.3,727.4 L372.7,728.1 L373.1,728.6 L373.4,729.1 L373.8,729.6 L374.2,729.9 L374.6,730.2 L374.9,730.3 L375.3,730.4 L375.7,730.4 L376.1,730.2 L376.4,730 L376.8,729.7 L377.2,729.3 L377.6,728.8 L377.9,728.2 L378.3,727.5 L378.7,726.8 L379.1,726 L379.4,725.1 L379.8,724.2 L380.2,723.3 L381.7,719.4 L382.1,718.5 L382.5,717.6 L382.8,716.8 L383.2,716 L383.6,715.3 L384,714.7 L384.3,714.2 L384.7,713.8 L385.1,713.5 L385.5,713.3 L385.8,713.3 L386.2,713.4 L386.6,713.6 L387,714 L387.3,714.5 L387.7,715.2 L388.1,716 L388.5,716.9 L388.8,717.9 L389.2,719.1 L389.6,720.4 L390,721.7 L390.3,723.2 L390.7,724.7 L391.1,726.3 L391.5,728 L392.6,733 L393,734.7 L393.3,736.3 L393.7,737.9 L394.1,739.4 L394.5,740.8 L394.8,742.1 L395.2,743.3 L395.6,744.3 L396,745.2 L396.3,746 L396.7,746.5 L397.1,746.9 L397.5,747.1 L397.8,747.1 L398.2,746.9 L398.6,746.5 L399,745.9 L399.3,745.1 L399.7,744.2 L400.1,743 L400.5,741.8 L400.9,740.3 L401.2,738.7 L401.6,737 L402,735.2 L402.4,733.4 L402.7,731.4 L403.5,727.5 L403.9,725.6 L404.2,723.7 L404.6,721.9 L405,720.2 L405.4,718.6 L405.7,717.2 L406.1,715.9 L406.5,714.9 L406.9,714.1 L407.2,713.6 L407.6,713.3 L408,713.4 L408.4,713.7 L408.7,714.3 L409.1,715.3 L409.5,716.6 L409.9,718.3 L410.2,720.3 L410.6,722.6 L411,725.2 L411.4,728.2 L411.7,731.5 L412.1,735 L412.5,738.8 L412.9,742.8 L413.2,747 L413.6,751.3 L414,755.8 L414.4,760.4 L415.1,769.7 L415.5,774.3 L415.9,778.8 L416.2,783.1 L416.6,787.3 L417,791.3 L417.4,795 L417.7,798.4 L418.1,801.4 L418.5,804.1 L418.9,806.3 L419.2,808 L419.6,809.2 L420,809.9 L420.4,810.1 L420.8,809.7 L421.1,808.8 L421.5,807.2 L421.9,805.1 L422.3,802.5 L422.6,799.3 L423,795.6 L423.4,791.4 L423.8,786.8 L424.1,781.8 L424.5,776.5 L424.9,770.8 L425.3,765 L425.6,759.1 L426,753.1 L426.4,747.2 L426.8,741.5 L427.1,736 L427.5,730.9 L427.9,726.4 L428.3,722.6 L428.6,719.6 L429,717.8 L429.4,717.3 L429.8,718.4 L430.1,720.8 L430.5,724.2 L430.9,728.7 L431.3,734.3 L431.6,740.9 L432,748.5 L432.4,756.8 L432.8,765.6 L433.1,774.9 L433.5,784.3 L433.9,794 L434.3,803.8 L434.6,813.6 L435,823.5 L436.5,863.2 L436.9,873 L437.3,882.9 L437.6,892.7 L438,902.4 L438.4,911.9 L438.8,921.3 L439.1,930.2 L439.5,938.7 L439.9,946.5 L440.3,953.5 L440.7,959.4 L441,964.2 L441.4,968 L441.8,970.7 L442.2,972.6 L442.5,973.9 L442.9,974.8 L443.3,975.4 L443.7,975.8 L444,976 L444.4,976.2 L444.8,976.3 L445.2,976.3 L454.9,976.4 L458.7,976.3 L459.1,976.2 L459.4,976.1 L459.8,975.9 L460.2,975.5 L460.6,975 L460.9,974.3 L461.3,973.1 L461.7,971.4 L462.1,968.9 L462.4,965.5 L462.8,961.1 L463.2,955.5 L463.6,948.9 L463.9,941.3 L464.3,933 L464.7,924.2 L465.1,915 L465.4,905.5 L465.8,895.8 L466.2,886 L466.6,876.2 L466.9,866.3 L468.4,826.7 L468.8,816.8 L469.2,806.9 L469.6,797.1 L469.9,787.4 L470.3,777.9 L470.7,768.6 L471.1,759.6 L471.4,751.1 L471.8,743.3 L472.2,736.3 L472.6,730.3 L472.9,725.5 L473.3,721.8 L473.7,719.1 L474.1,717.4 L474.4,717.5 L474.8,718.9 L475.2,721.5 L475.6,725.1 L475.9,729.4 L476.3,734.3 L476.7,739.7 L477.1,745.3 L477.4,751.2 L478.2,763.1 L478.6,769 L479,774.7 L479.3,780.1 L479.7,785.2 L480.1,790 L480.5,794.3 L480.8,798.2 L481.2,801.5 L481.6,804.4 L482,806.6 L482.3,808.3 L482.7,809.5 L483.1,810 L483.5,810 L483.8,809.5 L484.2,808.4 L484.6,806.9 L485,804.8 L485.3,802.3 L485.7,799.4 L486.1,796.1 L486.5,792.5 L486.8,788.6 L487.2,784.5 L487.6,780.2 L488,775.7 L488.3,771.1 L489.1,761.9 L489.5,757.3 L489.8,752.8 L490.2,748.3 L490.6,744.1 L491,740 L491.3,736.2 L491.7,732.6 L492.1,729.2 L492.5,726.2 L492.8,723.4 L493.2,721 L493.6,718.9 L494,717.1 L494.3,715.7 L494.7,714.6 L495.1,713.9 L495.5,713.4 L495.8,713.3 L496.2,713.5 L496.6,713.9 L497,714.6 L497.3,715.6 L497.7,716.8 L498.1,718.1 L498.5,719.7 L498.9,721.3 L499.2,723.1 L499.6,725 L500,726.9 L500.7,730.8 L501.1,732.7 L501.5,734.6 L501.9,736.5 L502.2,738.2 L502.6,739.8 L503,741.3 L503.4,742.6 L503.7,743.8 L504.1,744.9 L504.5,745.7 L504.9,746.3 L505.2,746.8 L505.6,747 L506,747.1 L506.4,747 L506.7,746.7 L507.1,746.2 L507.5,745.5 L507.9,744.6 L508.2,743.6 L508.6,742.5 L509,741.2 L509.4,739.9 L509.7,738.4 L510.1,736.8 L510.5,735.2 L510.9,733.6 L512,728.5 L512.4,726.9 L512.7,725.2 L513.1,723.7 L513.5,722.2 L513.9,720.8 L514.2,719.5 L514.6,718.3 L515,717.2 L515.4,716.2 L515.7,715.4 L516.1,714.7 L516.5,714.2 L516.9,713.7 L517.3,713.5 L517.6,713.3 L518,713.3 L518.4,713.4 L518.8,713.7 L519.1,714.1 L519.5,714.5 L519.9,715.1 L520.3,715.8 L520.6,716.5 L521,717.3 L521.4,718.2 L521.8,719.1 L523.6,723.9 L524,724.8 L524.4,725.7 L524.8,726.5 L525.1,727.3 L525.5,728 L525.9,728.6 L526.3,729.1 L526.6,729.6 L527,729.9 L527.4,730.2 L527.8,730.3 L528.1,730.4 L528.5,730.4 L528.9,730.2 L529.3,730 L529.6,729.7 L530,729.3 L530.4,728.8 L530.8,728.3 L531.1,727.6 L531.5,726.9 L531.9,726.2 L532.3,725.4 L532.6,724.6 L534.9,719.4 L535.3,718.6 L535.6,717.8 L536,717.1 L536.4,716.4 L536.8,715.8 L537.2,715.2 L537.5,714.7 L537.9,714.3 L538.3,714 L538.7,713.7 L539,713.5 L539.4,713.4 L539.8,713.3 L540.2,713.3 L540.5,713.4 L540.9,713.6 L541.3,713.8 L541.7,714.1 L542,714.5 L542.4,714.9 L542.8,715.3 L543.2,715.8 L543.5,716.3 L545,718.6 L546.2,720.3 L546.5,720.8 L546.9,721.3 L547.3,721.7 L547.7,722.1 L548,722.5 L548.4,722.8 L548.8,723.1 L549.2,723.3 L549.5,723.5 L549.9,723.6 L550.3,723.6 L550.7,723.6 L551,723.5 L551.4,723.4 L551.8,723.2 L552.2,722.9 L552.5,722.7 L552.9,722.3 L553.3,721.9 L553.7,721.5 L554,721.1 L554.4,720.6 L557.4,716.4 L557.8,716 L558.2,715.5 L558.6,715.1 L558.9,714.7 L559.3,714.4 L559.7,714.1 L560.1,713.9 L560.4,713.6 L560.8,713.5 L561.2,713.4 L561.6,713.3 L561.9,713.3 L562.3,713.3 L562.7,713.4 L563.1,713.5 L563.4,713.7 L563.8,713.9 L564.2,714.2 L564.6,714.4 L564.9,714.7 L565.3,715.1 L568.7,718.4 L569.1,718.7 L569.4,719 L569.8,719.2 L570.2,719.5 L570.6,719.7 L570.9,719.9 L571.3,720 L571.7,720.1 L572.1,720.2 L572.4,720.2 L572.8,720.2 L573.2,720.1 L573.6,720 L573.9,719.9 L574.3,719.7 L574.7,719.5 L575.1,719.3 L575.5,719 L575.8,718.7 L580.3,714.7 L580.7,714.5 L581.1,714.2 L581.5,714 L581.8,713.8 L582.2,713.6 L582.6,713.5 L583,713.4 L583.3,713.3 L583.7,713.3 L584.1,713.3 L584.5,713.3 L584.8,713.4 L585.2,713.5 L585.6,713.6 L586,713.8 L586.3,714 L590.1,716.5 L592,717.6 L592.3,717.8 L592.7,717.9 L593.1,718 L593.5,718.1 L593.8,718.2 L594.2,718.2 L594.6,718.2 L595,718.2 L595.4,718.2 L595.7,718.1 L596.1,718 L596.5,717.9 L596.9,717.7 L603.6,713.7 L604,713.6 L604.4,713.5 L604.7,713.4 L605.1,713.4 L605.5,713.3 L605.9,713.3 L606.2,713.3 L606.6,713.3 L607,713.4 L607.4,713.5 L615.3,716.9 L615.6,716.9 L616,717 L616.4,717 L616.8,717 L617.1,717 L617.5,716.9 L620.1,716.1 L635.2,715.5 L650.2,713.3 L665.2,714.8 L680.2,715 L695.2,713.4 L710.2,714.1 L725.3,714.6 L740.3,713.4 L755.3,713.7 L770.3,714.3 L785.3,713.5 L800.4,713.5 L815.4,714.1 L830.4,713.5 L845.4,713.4 L860.4,713.9 L875.5,713.6 L890.5,713.3 L905.5,713.7 L920.5,713.6 L935.5,713.3 L950.6,713.6 L965.6,713.6 L980.6,713.3 L995.6,713.5 L1010.6,713.6 L1025.3,713.3" fill="none" stroke="#000000" stroke-width="5.3" stroke-linejoin="round"/>
<path d="M124.5,713.5 L139.5,713.7 L154.5,714.9 L169.6,713.8 L184.6,713.7 L199.6,715.5 L214.6,714.4 L229.6,713.5 L244.6,716.3 L253.3,713.3 L253.7,713.3 L254,713.3 L254.4,713.3 L254.8,713.4 L259.7,715.5 L263.4,717.1 L263.8,717.2 L264.2,717.3 L264.5,717.3 L264.9,717.3 L265.3,717.3 L265.7,717.3 L266.1,717.2 L266.4,717.1 L266.8,717 L273.9,713.6 L274.3,713.5 L274.7,713.4 L275.1,713.3 L275.4,713.3 L275.8,713.3 L276.2,713.3 L276.6,713.4 L276.9,713.4 L277.3,713.5 L277.7,713.7 L278.1,713.8 L278.4,714 L284.5,717.8 L284.8,718 L285.2,718.1 L285.6,718.2 L286,718.3 L286.3,718.4 L286.7,718.4 L287.1,718.4 L287.5,718.4 L287.8,718.4 L288.2,718.3 L288.6,718.2 L289,718 L289.3,717.9 L289.7,717.7 L295,714.1 L295.3,713.9 L295.7,713.7 L296.1,713.6 L296.5,713.5 L296.8,713.4 L297.2,713.3 L297.6,713.3 L298,713.3 L298.3,713.4 L298.7,713.4 L299.1,713.5 L299.5,713.7 L299.8,713.9 L300.2,714.1 L300.6,714.3 L301,714.6 L301.3,714.8 L304.7,717.9 L305.9,718.8 L306.2,719.1 L306.6,719.4 L307,719.6 L307.4,719.8 L307.7,719.9 L308.1,720 L308.5,720.1 L308.9,720.2 L309.2,720.2 L309.6,720.1 L310,720 L310.4,719.9 L310.7,719.8 L311.1,719.6 L311.5,719.4 L311.9,719.1 L312.2,718.8 L312.6,718.5 L316.4,714.9 L316.7,714.6 L317.1,714.3 L317.5,714.1 L317.9,713.8 L318.2,713.6 L318.6,713.5 L319,713.4 L319.4,713.3 L319.7,713.3 L320.1,713.3 L320.5,713.4 L320.9,713.5 L321.2,713.7 L321.6,713.9 L322,714.2 L322.4,714.5 L322.7,714.8 L323.1,715.2 L323.5,715.6 L323.9,716 L327.3,720.3 L327.6,720.7 L328,721.1 L328.4,721.5 L328.8,721.9 L329.1,722.1 L329.5,722.4 L329.9,722.6 L330.3,722.7 L330.6,722.8 L331,722.9 L331.4,722.9 L331.8,722.8 L332.1,722.7 L332.5,722.5 L332.9,722.3 L333.3,722 L333.6,721.7 L334,721.3 L334.4,720.9 L334.8,720.5 L335.1,720 L338.1,715.9 L338.5,715.4 L338.9,715 L339.3,714.6 L339.6,714.2 L340,713.9 L340.4,713.7 L340.8,713.5 L341.1,713.4 L341.5,713.3 L341.9,713.3 L342.3,713.4 L342.7,713.5 L343,713.7 L343.4,714 L343.8,714.3 L344.2,714.7 L344.5,715.2 L344.9,715.7 L345.3,716.2 L345.7,716.8 L346,717.5 L346.4,718.1 L349,723.2 L349.4,723.9 L349.8,724.5 L350.2,725.1 L350.5,725.7 L350.9,726.2 L351.3,726.6 L351.7,727 L352,727.2 L352.4,727.5 L352.8,727.6 L353.2,727.6 L353.5,727.6 L353.9,727.5 L354.3,727.3 L354.7,727 L355,726.7 L355.4,726.3 L355.8,725.8 L356.2,725.2 L356.5,724.6 L356.9,723.9 L357.3,723.2 L357.7,722.5 L359.5,718.5 L359.9,717.7 L360.3,717 L360.7,716.3 L361,715.7 L361.4,715.1 L361.8,714.6 L362.2,714.2 L362.6,713.8 L362.9,713.5 L363.3,713.4 L363.7,713.3 L364.1,713.3 L364.4,713.5 L364.8,713.7 L365.2,714.1 L365.6,714.5 L365.9,715.1 L366.3,715.8 L366.7,716.5 L367.1,717.4 L367.4,718.3 L367.8,719.3 L368.2,720.3 L368.6,721.5 L368.9,722.6 L370.8,728.6 L371.2,729.8 L371.6,730.9 L371.9,731.9 L372.3,732.9 L372.7,733.8 L373.1,734.6 L373.4,735.3 L373.8,735.9 L374.2,736.4 L374.6,736.8 L374.9,737 L375.3,737.1 L375.7,737 L376.1,736.9 L376.4,736.5 L376.8,736.1 L377.2,735.5 L377.6,734.8 L377.9,734 L378.3,733 L378.7,732 L379.1,730.9 L379.4,729.7 L379.8,728.4 L380.2,727.1 L381.3,723.1 L381.7,721.8 L382.1,720.5 L382.5,719.3 L382.8,718.1 L383.2,717.1 L383.6,716.1 L384,715.3 L384.3,714.5 L384.7,714 L385.1,713.6 L385.5,713.4 L385.8,713.3 L386.2,713.4 L386.6,713.8 L387,714.3 L387.3,715 L387.7,715.9 L388.1,717 L388.5,718.3 L388.8,719.7 L389.2,721.3 L389.6,723.1 L390,725 L390.3,727.1 L390.7,729.2 L391.1,731.4 L391.5,733.7 L392.6,740.7 L393,743.1 L393.3,745.3 L393.7,747.5 L394.1,749.6 L394.5,751.5 L394.8,753.4 L395.2,755 L395.6,756.5 L396,757.7 L396.3,758.7 L396.7,759.5 L397.1,760 L397.5,760.3 L397.8,760.3 L398.2,760 L398.6,759.5 L399,758.7 L399.3,757.6 L399.7,756.2 L400.1,754.7 L400.5,752.9 L400.9,750.9 L401.2,748.7 L401.6,746.3 L402,743.8 L402.4,741.2 L402.7,738.5 L403.5,733.1 L403.9,730.4 L404.2,727.7 L404.6,725.2 L405,722.9 L405.4,720.7 L405.7,718.7 L406.1,717 L406.5,715.5 L406.9,714.4 L407.2,713.7 L407.6,713.3 L408,713.4 L408.4,713.8 L408.7,714.7 L409.1,716.1 L409.5,717.9 L409.9,720.2 L410.2,723 L410.6,726.2 L411,729.9 L411.4,734 L411.7,738.5 L412.1,743.4 L412.5,748.7 L412.9,754.3 L413.2,760.1 L413.6,766.2 L414,772.4 L414.4,778.8 L415.1,791.7 L415.5,798.1 L415.9,804.3 L416.2,810.4 L416.6,816.2 L417,821.8 L417.4,826.9 L417.7,831.6 L418.1,835.8 L418.5,839.5 L418.9,842.6 L419.2,845 L419.6,846.7 L420,847.7 L420.4,847.9 L420.8,847.4 L421.1,846 L421.5,843.9 L421.9,841 L422.3,837.3 L422.6,832.9 L423,827.8 L423.4,822 L423.8,815.5 L424.1,808.6 L424.5,801.1 L424.9,793.3 L425.3,785.2 L425.6,777 L426,768.7 L426.4,760.4 L426.8,752.4 L427.1,744.8 L427.5,737.8 L427.9,731.5 L428.3,726.2 L428.6,722.1 L429,719.6 L429.4,718.9 L429.8,720.4 L430.1,723.9 L430.5,728.7 L430.9,735 L431.3,742.8 L431.6,752.2 L432,762.9 L432.4,774.6 L432.8,787 L433.1,800 L433.5,813.4 L433.9,827 L434.3,840.7 L434.6,854.6 L435,868.5 L436.5,924.4 L436.9,938.3 L437.3,952.2 L437.6,966 L438,979.6 L438.4,993.1 L438.8,1006.2 L439.1,1018.8 L439.5,1030.8 L439.9,1041.8 L440.3,1051.6 L440.7,1060 L441,1066.7 L441.4,1072 L441.8,1075.8 L442.2,1078.5 L442.5,1080.4 L442.9,1081.6 L443.3,1082.4 L443.7,1083 L444,1083.3 L444.4,1083.5 L444.8,1083.7 L445.2,1083.7 L445.5,1083.8 L454.9,1083.9 L458.3,1083.8 L458.7,1083.7 L459.1,1083.6 L459.4,1083.4 L459.8,1083.1 L460.2,1082.6 L460.6,1081.9 L460.9,1080.8 L461.3,1079.2 L461.7,1076.8 L462.1,1073.3 L462.4,1068.6 L462.8,1062.3 L463.2,1054.4 L463.6,1045.1 L463.9,1034.4 L464.3,1022.7 L464.7,1010.3 L465.1,997.3 L465.4,984 L465.8,970.4 L466.2,956.6 L466.6,942.7 L466.9,928.8 L468.4,873 L468.8,859 L469.2,845.1 L469.6,831.3 L469.9,817.7 L470.3,804.2 L470.7,791.1 L471.1,778.5 L471.4,766.5 L471.8,755.5 L472.2,745.7 L472.6,737.3 L472.9,730.5 L473.3,725.3 L473.7,721.4 L474.1,719.1 L474.4,719.1 L474.8,721.1 L475.2,724.8 L475.6,729.7 L475.9,735.7 L476.3,742.5 L476.7,750 L477.1,757.8 L477.4,766 L478.2,782.6 L478.6,790.8 L479,798.7 L479.3,806.2 L479.7,813.4 L480.1,820 L480.5,826 L480.8,831.3 L481.2,836 L481.6,839.9 L482,843.1 L482.3,845.5 L482.7,847 L483.1,847.8 L483.5,847.8 L483.8,847.1 L484.2,845.6 L484.6,843.4 L485,840.6 L485.3,837.1 L485.7,833 L486.1,828.5 L486.5,823.5 L486.8,818.1 L487.2,812.3 L487.6,806.3 L488,800.1 L488.3,793.7 L489.1,780.9 L489.5,774.5 L489.8,768.2 L490.2,762 L490.6,756.1 L491,750.5 L491.3,745.1 L491.7,740.1 L492.1,735.4 L492.5,731.2 L492.8,727.4 L493.2,724 L493.6,721.1 L494,718.6 L494.3,716.7 L494.7,715.1 L495.1,714.1 L495.5,713.5 L495.8,713.3 L496.2,713.5 L496.6,714.2 L497,715.2 L497.3,716.5 L497.7,718.1 L498.1,720 L498.5,722.1 L498.9,724.5 L499.2,726.9 L499.6,729.5 L500,732.2 L500.7,737.6 L501.1,740.3 L501.5,743 L501.9,745.5 L502.2,747.9 L502.6,750.2 L503,752.2 L503.4,754.1 L503.7,755.8 L504.1,757.2 L504.5,758.3 L504.9,759.2 L505.2,759.9 L505.6,760.2 L506,760.3 L506.4,760.1 L506.7,759.7 L507.1,759 L507.5,758 L507.9,756.9 L508.2,755.5 L508.6,753.9 L509,752.1 L509.4,750.2 L509.7,748.2 L510.1,746 L510.5,743.8 L510.9,741.5 L512,734.4 L512.4,732.1 L512.7,729.9 L513.1,727.7 L513.5,725.7 L513.9,723.7 L514.2,721.9 L514.6,720.2 L515,718.7 L515.4,717.4 L515.7,716.2 L516.1,715.3 L516.5,714.5 L516.9,713.9 L517.3,713.5 L517.6,713.3 L518,713.3 L518.4,713.5 L518.8,713.8 L519.1,714.3 L519.5,715 L519.9,715.8 L520.3,716.7 L520.6,717.8 L521,718.9 L521.4,720.1 L521.8,721.4 L522.1,722.7 L523.3,726.7 L523.6,728 L524,729.3 L524.4,730.5 L524.8,731.7 L525.1,732.7 L525.5,733.7 L525.9,734.6 L526.3,735.3 L526.6,735.9 L527,736.4 L527.4,736.8 L527.8,737 L528.1,737.1 L528.5,737 L528.9,736.9 L529.3,736.5 L529.6,736.1 L530,735.5 L530.4,734.9 L530.8,734.1 L531.1,733.2 L531.5,732.3 L531.9,731.2 L532.3,730.1 L532.6,729 L533,727.8 L534.5,723 L534.9,721.8 L535.3,720.7 L535.6,719.6 L536,718.6 L536.4,717.7 L536.8,716.8 L537.2,716 L537.5,715.3 L537.9,714.7 L538.3,714.2 L538.7,713.8 L539,713.5 L539.4,713.4 L539.8,713.3 L540.2,713.3 L540.5,713.5 L540.9,713.7 L541.3,714 L541.7,714.4 L542,714.9 L542.4,715.5 L542.8,716.1 L543.2,716.8 L543.5,717.5 L543.9,718.3 L545,720.6 L545.8,722.2 L546.2,723 L546.5,723.7 L546.9,724.4 L547.3,725 L547.7,725.6 L548,726.1 L548.4,726.6 L548.8,726.9 L549.2,727.2 L549.5,727.5 L549.9,727.6 L550.3,727.6 L550.7,727.6 L551,727.5 L551.4,727.3 L551.8,727.1 L552.2,726.7 L552.5,726.3 L552.9,725.8 L553.3,725.3 L553.7,724.7 L554,724.1 L554.4,723.4 L554.8,722.7 L557.1,718.4 L557.4,717.7 L557.8,717 L558.2,716.4 L558.6,715.8 L558.9,715.3 L559.3,714.8 L559.7,714.4 L560.1,714.1 L560.4,713.8 L560.8,713.6 L561.2,713.4 L561.6,713.3 L561.9,713.3 L562.3,713.3 L562.7,713.5 L563.1,713.6 L563.4,713.9 L563.8,714.1 L564.2,714.5 L564.6,714.9 L564.9,715.3 L565.3,715.7 L565.7,716.2 L568.3,719.9 L568.7,720.3 L569.1,720.8 L569.4,721.2 L569.8,721.6 L570.2,721.9 L570.6,722.2 L570.9,722.4 L571.3,722.6 L571.7,722.8 L572.1,722.9 L572.4,722.9 L572.8,722.9 L573.2,722.8 L573.6,722.6 L573.9,722.5 L574.3,722.2 L574.7,721.9 L575.1,721.6 L575.5,721.3 L575.8,720.9 L576.2,720.4 L579.6,716.1 L580,715.7 L580.3,715.3 L580.7,714.9 L581.1,714.6 L581.5,714.2 L581.8,714 L582.2,713.8 L582.6,713.6 L583,713.4 L583.3,713.3 L583.7,713.3 L584.1,713.3 L584.5,713.4 L584.8,713.5 L585.2,713.6 L585.6,713.8 L586,714 L586.3,714.2 L586.7,714.5 L587.1,714.8 L590.1,717.7 L590.8,718.4 L591.2,718.7 L591.6,719 L592,719.3 L592.3,719.5 L592.7,719.7 L593.1,719.9 L593.5,720 L593.8,720.1 L594.2,720.1 L594.6,720.2 L595,720.1 L595.4,720.1 L595.7,720 L596.1,719.8 L596.5,719.6 L596.9,719.4 L597.2,719.2 L597.6,718.9 L598,718.7 L602.5,714.6 L602.9,714.4 L603.2,714.1 L603.6,713.9 L604,713.7 L604.4,713.6 L604.7,713.5 L605.1,713.4 L605.5,713.3 L605.9,713.3 L606.2,713.3 L606.6,713.4 L607,713.4 L607.4,713.6 L607.7,713.7 L608.1,713.9 L608.5,714.1 L613.7,717.6 L614.1,717.8 L614.5,718 L614.9,718.1 L615.3,718.3 L615.6,718.4 L616,718.4 L616.4,718.4 L616.8,718.4 L617.1,718.4 L617.5,718.4 L617.9,718.3 L618.3,718.2 L618.6,718 L619,717.9 L620.1,717.3 L625.4,713.9 L625.8,713.7 L626.1,713.6 L626.5,713.5 L626.9,713.4 L627.3,713.3 L627.6,713.3 L628,713.3 L628.4,713.3 L628.8,713.4 L629.1,713.4 L629.5,713.5 L629.9,713.7 L635.2,716.4 L637,717.1 L637.4,717.2 L637.8,717.2 L638.2,717.3 L638.5,717.3 L638.9,717.3 L639.3,717.3 L639.7,717.2 L640,717.2 L649,713.4 L649.4,713.3 L649.8,713.3 L650.2,713.3 L665.2,715.4 L680.2,715.6 L695.2,713.4 L710.2,714.4 L725.3,715.1 L740.3,713.5 L755.3,713.9 L770.3,714.7 L785.3,713.6 L800.4,713.6 L815.4,714.4 L830.4,713.6 L845.4,713.4 L860.4,714.1 L875.5,713.7 L890.5,713.3 L905.5,713.9 L920.5,713.7 L935.5,713.3 L950.6,713.7 L965.6,713.7 L980.6,713.3 L995.6,713.6 L1010.6,713.7 L1025.3,713.3" fill="none" stroke="#ff0000" stroke-width="5.3" stroke-linejoin="round"/>
<path d="M124.5,713.4 L139.5,713.4 L154.5,713.7 L169.6,713.4 L184.6,713.4 L199.6,713.9 L214.6,713.6 L229.6,713.4 L244.6,714.1 L259.7,713.9 L274.7,713.3 L289.7,714.5 L304.7,714.6 L319.7,713.3 L334.8,715.3 L349.8,716.4 L351.7,717.1 L352,717.2 L352.4,717.3 L352.8,717.3 L353.2,717.3 L353.5,717.3 L353.9,717.3 L354.3,717.2 L354.7,717.1 L355,717.1 L361.8,713.7 L362.2,713.5 L362.6,713.4 L362.9,713.4 L363.3,713.3 L363.7,713.3 L364.1,713.3 L364.4,713.4 L364.8,713.4 L365.2,713.5 L365.6,713.6 L365.9,713.8 L366.3,714 L366.7,714.2 L367.1,714.4 L367.4,714.7 L372.3,718.8 L372.7,719 L373.1,719.3 L373.4,719.5 L373.8,719.6 L374.2,719.8 L374.6,719.9 L374.9,719.9 L375.3,720 L375.7,719.9 L376.1,719.9 L376.4,719.8 L376.8,719.7 L377.2,719.5 L377.6,719.3 L377.9,719.1 L378.3,718.8 L378.7,718.5 L379.1,718.2 L379.8,717.5 L382.5,715 L382.8,714.7 L383.2,714.4 L383.6,714.1 L384,713.8 L384.3,713.6 L384.7,713.5 L385.1,713.4 L385.5,713.3 L385.8,713.3 L386.2,713.3 L386.6,713.4 L387,713.6 L387.3,713.8 L387.7,714 L388.1,714.3 L388.5,714.7 L388.8,715.1 L389.2,715.6 L389.6,716 L390,716.6 L390.3,717.2 L390.7,717.8 L393.3,722.3 L393.7,722.9 L394.1,723.5 L394.5,724 L394.8,724.5 L395.2,725 L395.6,725.4 L396,725.7 L396.3,726 L396.7,726.2 L397.1,726.4 L397.5,726.5 L397.8,726.5 L398.2,726.4 L398.6,726.2 L399,726 L399.3,725.7 L399.7,725.3 L400.1,724.9 L400.5,724.4 L400.9,723.8 L401.2,723.2 L401.6,722.5 L402,721.8 L402.4,721.1 L404.2,717.3 L404.6,716.6 L405,716 L405.4,715.4 L405.7,714.8 L406.1,714.3 L406.5,713.9 L406.9,713.6 L407.2,713.4 L407.6,713.3 L408,713.3 L408.4,713.5 L408.7,713.7 L409.1,714.1 L409.5,714.6 L409.9,715.2 L410.2,716 L410.6,716.9 L411,718 L411.4,719.1 L411.7,720.4 L412.1,721.7 L412.5,723.2 L412.9,724.8 L413.2,726.4 L413.6,728.1 L414,729.9 L415.5,737 L415.9,738.8 L416.2,740.5 L416.6,742.1 L417,743.7 L417.4,745.1 L417.7,746.4 L418.1,747.6 L418.5,748.6 L418.9,749.5 L419.2,750.2 L419.6,750.7 L420,750.9 L420.4,751 L420.8,750.8 L421.1,750.5 L421.5,749.9 L421.9,749.1 L422.3,748 L422.6,746.8 L423,745.3 L423.4,743.7 L423.8,741.9 L424.1,740 L424.5,737.9 L424.9,735.7 L425.3,733.4 L426,728.8 L426.4,726.5 L426.8,724.2 L427.1,722.1 L427.5,720.1 L427.9,718.3 L428.3,716.8 L428.6,715.6 L429,714.9 L429.4,714.6 L429.8,715 L430.1,716 L430.5,717.4 L430.9,719.4 L431.3,721.9 L431.6,724.9 L432,728.4 L432.4,732.2 L432.8,736.2 L433.1,740.4 L433.5,744.7 L433.9,749 L434.3,753.4 L436.5,779.7 L436.9,784.1 L437.3,788.4 L437.6,792.6 L438,796.7 L438.4,800.6 L438.8,804.2 L439.1,807.4 L439.5,810.1 L439.9,812.3 L440.3,813.9 L440.7,815 L441,815.8 L441.4,816.3 L441.8,816.6 L442.2,816.8 L442.5,816.9 L442.9,817 L454.9,817.1 L460.6,817 L460.9,816.9 L461.3,816.8 L461.7,816.7 L462.1,816.4 L462.4,816 L462.8,815.3 L463.2,814.3 L463.6,812.8 L463.9,810.9 L464.3,808.3 L464.7,805.3 L465.1,801.8 L465.4,797.9 L465.8,793.9 L466.2,789.7 L466.6,785.4 L466.9,781.1 L467.3,776.7 L469.6,750.4 L469.9,746 L470.3,741.7 L470.7,737.5 L471.1,733.5 L471.4,729.6 L471.8,726 L472.2,722.8 L472.6,720.1 L472.9,718 L473.3,716.4 L473.7,715.3 L474.1,714.7 L474.4,714.7 L474.8,715.3 L475.2,716.4 L475.6,717.8 L475.9,719.5 L476.3,721.4 L476.7,723.5 L477.1,725.8 L477.4,728 L478.2,732.7 L478.6,735 L479,737.2 L479.3,739.3 L479.7,741.3 L480.1,743.2 L480.5,744.8 L480.8,746.3 L481.2,747.7 L481.6,748.8 L482,749.6 L482.3,750.3 L482.7,750.7 L483.1,751 L483.5,751 L483.8,750.8 L484.2,750.3 L484.6,749.7 L485,748.9 L485.3,748 L485.7,746.8 L486.1,745.5 L486.5,744.1 L486.8,742.6 L487.2,741 L487.6,739.3 L488,737.6 L488.3,735.8 L489.5,730.4 L489.8,728.7 L490.2,726.9 L490.6,725.3 L491,723.7 L491.3,722.2 L491.7,720.8 L492.1,719.5 L492.5,718.3 L492.8,717.2 L493.2,716.3 L493.6,715.5 L494,714.8 L494.3,714.2 L494.7,713.8 L495.1,713.5 L495.5,713.3 L495.8,713.3 L496.2,713.4 L496.6,713.5 L497,713.8 L497.3,714.2 L497.7,714.6 L498.1,715.2 L498.5,715.8 L498.9,716.4 L499.2,717.1 L499.6,717.8 L500,718.6 L501.5,721.6 L501.9,722.3 L502.2,723 L502.6,723.6 L503,724.2 L503.4,724.7 L503.7,725.2 L504.1,725.6 L504.5,725.9 L504.9,726.2 L505.2,726.3 L505.6,726.4 L506,726.5 L506.4,726.4 L506.7,726.3 L507.1,726.1 L507.5,725.8 L507.9,725.5 L508.2,725.1 L508.6,724.7 L509,724.2 L509.4,723.6 L509.7,723.1 L510.1,722.5 L512.7,717.9 L513.1,717.3 L513.5,716.8 L513.9,716.2 L514.2,715.7 L514.6,715.2 L515,714.8 L515.4,714.4 L515.7,714.1 L516.1,713.8 L516.5,713.6 L516.9,713.5 L517.3,713.4 L517.6,713.3 L518,713.3 L518.4,713.4 L518.8,713.5 L519.1,713.6 L519.5,713.8 L519.9,714 L520.3,714.3 L520.6,714.6 L521,714.9 L524.8,718.4 L525.1,718.7 L525.5,719 L525.9,719.3 L526.3,719.5 L526.6,719.6 L527,719.8 L527.4,719.9 L527.8,719.9 L528.1,720 L528.5,719.9 L528.9,719.9 L529.3,719.8 L529.6,719.7 L530,719.5 L530.4,719.3 L530.8,719.1 L531.1,718.9 L531.5,718.6 L536.4,714.5 L536.8,714.3 L537.2,714.1 L537.5,713.9 L537.9,713.7 L538.3,713.6 L538.7,713.4 L539,713.4 L539.4,713.3 L539.8,713.3 L540.2,713.3 L540.5,713.3 L540.9,713.4 L541.3,713.5 L541.7,713.6 L545,715.4 L548.4,717 L548.8,717.1 L549.2,717.2 L549.5,717.3 L549.9,717.3 L550.3,717.3 L550.7,717.3 L551,717.3 L551.4,717.2 L551.8,717.2 L560.1,713.5 L575.1,715.6 L590.1,714.5 L605.1,713.3 L620.1,714.4 L635.2,714.2 L650.2,713.3 L665.2,713.9 L680.2,713.9 L695.2,713.3 L710.2,713.6 L725.3,713.8 L740.3,713.4 L755.3,713.5 L770.3,713.7 L785.3,713.4 L800.4,713.4 L815.4,713.6 L830.4,713.4 L845.4,713.3 L860.4,713.5 L875.5,713.4 L890.5,713.3 L905.5,713.5 L920.5,713.4 L935.5,713.3 L950.6,713.4 L965.6,713.4 L980.6,713.3 L995.6,713.4 L1010.6,713.4 L1025.3,713.3" fill="none" stroke="#0000ff" stroke-width="5.3" stroke-linejoin="round"/>
<path d="M124.5,721.9 L124.9,721.8 L125.2,721.6 L125.6,721.4 L126,721.1 L126.4,720.9 L126.7,720.5 L127.1,720.2 L127.5,719.8 L127.9,719.4 L130.9,715.7 L131.3,715.3 L131.6,714.9 L132,714.5 L132.4,714.2 L132.8,714 L133.1,713.7 L133.5,713.5 L133.9,713.4 L134.3,713.3 L134.6,713.3 L135,713.3 L135.4,713.4 L135.8,713.6 L136.1,713.7 L136.5,714 L136.9,714.3 L137.3,714.6 L137.6,715 L138,715.4 L138.4,715.9 L138.8,716.4 L139.5,717.4 L141.8,720.7 L142.1,721.2 L142.5,721.7 L142.9,722.1 L143.3,722.6 L143.6,722.9 L144,723.2 L144.4,723.5 L144.8,723.7 L145.1,723.8 L145.5,723.9 L145.9,723.9 L146.3,723.9 L146.6,723.8 L147,723.7 L147.4,723.4 L147.8,723.2 L148.1,722.9 L148.5,722.5 L148.9,722.1 L149.3,721.6 L149.7,721.1 L150,720.6 L152.7,716.6 L153,716.1 L153.4,715.6 L153.8,715.1 L154.2,714.7 L154.5,714.3 L154.9,714 L155.3,713.7 L155.7,713.5 L156,713.4 L156.4,713.3 L156.8,713.3 L157.2,713.4 L157.5,713.5 L157.9,713.7 L158.3,714 L158.7,714.3 L159,714.7 L159.4,715.1 L159.8,715.6 L160.2,716.2 L160.5,716.8 L160.9,717.4 L161.3,718.1 L163.5,722.2 L163.9,722.9 L164.3,723.5 L164.7,724.1 L165,724.7 L165.4,725.2 L165.8,725.6 L166.2,726 L166.5,726.3 L166.9,726.5 L167.3,726.7 L167.7,726.8 L168.1,726.8 L168.4,726.7 L168.8,726.6 L169.2,726.4 L169.6,726.1 L169.9,725.7 L170.3,725.3 L170.7,724.8 L171.1,724.2 L171.4,723.6 L171.8,723 L172.2,722.3 L172.6,721.6 L174.4,718 L174.8,717.3 L175.2,716.6 L175.6,716 L175.9,715.4 L176.3,714.9 L176.7,714.4 L177.1,714.1 L177.4,713.7 L177.8,713.5 L178.2,713.4 L178.6,713.3 L178.9,713.3 L179.3,713.4 L179.7,713.6 L180.1,713.9 L180.4,714.3 L180.8,714.8 L181.2,715.3 L181.6,715.9 L181.9,716.6 L182.3,717.3 L182.7,718.1 L183.1,719 L183.4,719.8 L184.6,722.6 L185.3,724.4 L185.7,725.3 L186.1,726.2 L186.4,727 L186.8,727.7 L187.2,728.4 L187.6,729.1 L188,729.6 L188.3,730.1 L188.7,730.5 L189.1,730.8 L189.5,731 L189.8,731.1 L190.2,731.1 L190.6,730.9 L191,730.7 L191.3,730.4 L191.7,730 L192.1,729.5 L192.5,728.9 L192.8,728.3 L193.2,727.5 L193.6,726.7 L194,725.9 L194.3,725 L194.7,724 L196.2,720.1 L196.6,719.2 L197,718.3 L197.3,717.4 L197.7,716.6 L198.1,715.9 L198.5,715.2 L198.8,714.6 L199.2,714.2 L199.6,713.8 L200,713.5 L200.3,713.3 L200.7,713.3 L201.1,713.4 L201.5,713.6 L201.8,713.9 L202.2,714.3 L202.6,714.9 L203,715.6 L203.3,716.3 L203.7,717.2 L204.1,718.2 L204.5,719.2 L204.8,720.3 L205.2,721.5 L205.6,722.7 L206,724 L207.5,729.1 L207.9,730.3 L208.2,731.5 L208.6,732.6 L209,733.6 L209.4,734.6 L209.7,735.4 L210.1,736.2 L210.5,736.8 L210.9,737.3 L211.2,737.7 L211.6,738 L212,738.1 L212.4,738 L212.7,737.9 L213.1,737.5 L213.5,737.1 L213.9,736.5 L214.2,735.8 L214.6,734.9 L215,734 L215.4,732.9 L215.7,731.8 L216.1,730.6 L216.5,729.3 L216.9,728 L218.4,722.5 L218.7,721.2 L219.1,719.9 L219.5,718.7 L219.9,717.6 L220.2,716.6 L220.6,715.7 L221,714.9 L221.4,714.3 L221.7,713.8 L222.1,713.5 L222.5,713.3 L222.9,713.3 L223.2,713.5 L223.6,713.9 L224,714.4 L224.4,715.1 L224.7,716 L225.1,717 L225.5,718.2 L225.9,719.5 L226.3,721 L226.6,722.5 L227,724.2 L227.4,726 L227.8,727.8 L228.1,729.7 L229.3,735.5 L229.6,737.4 L230,739.2 L230.4,741 L230.8,742.7 L231.1,744.2 L231.5,745.7 L231.9,747 L232.3,748.1 L232.6,749.1 L233,749.8 L233.4,750.4 L233.8,750.7 L234.1,750.9 L234.5,750.8 L234.9,750.5 L235.3,750.1 L235.6,749.3 L236,748.4 L236.4,747.3 L236.8,746 L237.1,744.6 L237.5,743 L237.9,741.2 L238.3,739.3 L238.6,737.4 L239,735.3 L239.4,733.3 L240.1,729.1 L240.5,727 L240.9,725 L241.3,723 L241.6,721.2 L242,719.5 L242.4,718 L242.8,716.7 L243.1,715.5 L243.5,714.6 L243.9,713.9 L244.3,713.5 L244.6,713.3 L245,713.4 L245.4,713.8 L245.8,714.5 L246.2,715.5 L246.5,716.7 L246.9,718.2 L247.3,720 L247.7,722.1 L248,724.4 L248.4,726.9 L248.8,729.6 L249.2,732.5 L249.5,735.5 L249.9,738.7 L250.3,741.9 L250.7,745.2 L251.4,751.9 L251.8,755.2 L252.2,758.3 L252.5,761.4 L252.9,764.4 L253.3,767.1 L253.7,769.6 L254,771.9 L254.4,773.9 L254.8,775.6 L255.2,777 L255.5,778.1 L255.9,778.8 L256.3,779.1 L256.7,779.1 L257,778.7 L257.4,777.9 L257.8,776.7 L258.2,775.2 L258.5,773.3 L258.9,771.1 L259.3,768.5 L259.7,765.7 L260,762.7 L260.4,759.4 L260.8,755.9 L261.2,752.3 L261.5,748.6 L262.3,741.1 L262.7,737.4 L263,733.8 L263.4,730.3 L263.8,727 L264.2,724 L264.5,721.2 L264.9,718.8 L265.3,716.8 L265.7,715.2 L266.1,714.1 L266.4,713.4 L266.8,713.3 L267.2,713.7 L267.6,714.7 L267.9,716.3 L268.3,718.5 L268.7,721.2 L269.1,724.5 L269.4,728.4 L269.8,732.8 L270.2,737.8 L270.6,743.3 L270.9,749.2 L271.3,755.5 L271.7,762.2 L272.1,769.2 L272.4,776.5 L272.8,783.9 L273.2,791.5 L273.6,799.1 L273.9,806.6 L274.3,814.1 L274.7,821.4 L275.1,828.5 L275.4,835.2 L275.8,841.5 L276.2,847.3 L276.6,852.6 L276.9,857.3 L277.3,861.2 L277.7,864.5 L278.1,867 L278.4,868.6 L278.8,869.4 L279.2,869.3 L279.6,868.3 L279.9,866.4 L280.3,863.6 L280.7,860 L281.1,855.4 L281.4,850.1 L281.8,843.9 L282.2,837 L282.6,829.5 L282.9,821.4 L283.3,812.9 L283.7,803.9 L284.1,794.7 L284.8,776 L285.2,766.7 L285.6,757.7 L286,749.1 L286.3,741.1 L286.7,733.8 L287.1,727.3 L287.5,721.9 L287.8,717.7 L288.2,714.8 L288.6,713.4 L289,713.3 L289.7,713.3 L291.6,713.3 L292,952.2 L292.3,982 L292.7,996.3 L293.1,1005.9 L293.5,1013.2 L293.8,1019 L294.2,1023.9 L294.6,1028.1 L295,1031.7 L295.3,1035 L295.7,1037.9 L296.1,1040.5 L296.5,1042.9 L296.8,1045 L297.2,1047 L297.6,1048.9 L298,1050.6 L298.3,1052.2 L298.7,1053.7 L299.1,1055.1 L299.5,1056.4 L299.8,1057.6 L300.2,1058.7 L300.6,1059.8 L301,1060.8 L301.3,1061.7 L301.7,1062.6 L302.1,1063.4 L302.5,1064.2 L302.8,1064.9 L303.2,1065.6 L303.6,1066.2 L304,1066.8 L304.4,1067.4 L304.7,1067.9 L305.1,1068.4 L305.5,1068.8 L305.9,1069.2 L306.2,1069.6 L306.6,1069.9 L307,1070.2 L307.4,1070.5 L307.7,1070.8 L308.1,1071 L308.5,1071.2 L308.9,1071.3 L309.2,1071.4 L309.6,1071.5 L310,1071.6 L310.4,1071.7 L310.7,1071.7 L311.1,1071.7 L311.5,1071.6 L311.9,1071.5 L312.2,1071.4 L312.6,1071.3 L313,1071.2 L313.4,1071 L313.7,1070.8 L314.1,1070.5 L314.5,1070.2 L314.9,1069.9 L315.2,1069.6 L315.6,1069.2 L316,1068.8 L316.4,1068.4 L316.7,1067.9 L317.1,1067.4 L317.5,1066.8 L317.9,1066.2 L318.2,1065.6 L318.6,1064.9 L319,1064.2 L319.4,1063.4 L319.7,1062.6 L320.1,1061.7 L320.5,1060.7 L320.9,1059.7 L321.2,1058.7 L321.6,1057.5 L322,1056.3 L322.4,1055 L322.7,1053.6 L323.1,1052.1 L323.5,1050.5 L323.9,1048.8 L324.3,1047 L324.6,1045 L325,1042.8 L325.4,1040.4 L325.8,1037.8 L326.1,1034.8 L326.5,1031.6 L326.9,1027.9 L327.3,1023.7 L327.6,1018.8 L328,1012.9 L328.4,1005.6 L328.8,995.9 L329.1,981.3 L329.5,950 L329.9,713.3 L332.5,713.3 L332.9,713.4 L333.3,714.9 L333.6,717.8 L334,722.1 L334.4,727.6 L334.8,734 L335.1,741.4 L335.5,749.5 L335.9,758.1 L336.3,767.1 L336.6,776.3 L337,785.7 L337.4,795.1 L337.8,804.3 L338.1,813.2 L338.5,821.8 L338.9,829.8 L339.3,837.3 L339.6,844.2 L340,850.3 L340.4,855.6 L340.8,860.1 L341.1,863.8 L341.5,866.5 L341.9,868.4 L342.3,869.3 L342.7,869.4 L343,868.6 L343.4,866.9 L343.8,864.4 L344.2,861.1 L344.5,857.1 L344.9,852.4 L345.3,847.1 L345.7,841.3 L346,834.9 L346.4,828.2 L346.8,821.1 L347.2,813.8 L347.5,806.4 L347.9,798.8 L348.3,791.2 L348.7,783.6 L349,776.2 L349.4,768.9 L349.8,761.9 L350.2,755.3 L350.5,748.9 L350.9,743 L351.3,737.6 L351.7,732.7 L352,728.2 L352.4,724.4 L352.8,721.1 L353.2,718.4 L353.5,716.2 L353.9,714.7 L354.3,713.7 L354.7,713.3 L355,713.5 L355.4,714.1 L355.8,715.3 L356.2,716.9 L356.5,718.9 L356.9,721.3 L357.3,724.1 L357.7,727.1 L358,730.4 L358.4,733.9 L358.8,737.5 L359.2,741.2 L359.9,748.8 L360.3,752.5 L360.7,756.1 L361,759.5 L361.4,762.8 L361.8,765.8 L362.2,768.6 L362.6,771.2 L362.9,773.4 L363.3,775.2 L363.7,776.8 L364.1,777.9 L364.4,778.7 L364.8,779.1 L365.2,779.1 L365.6,778.8 L365.9,778.1 L366.3,777 L366.7,775.6 L367.1,773.9 L367.4,771.8 L367.8,769.5 L368.2,767 L368.6,764.2 L368.9,761.3 L369.3,758.2 L369.7,755 L370.1,751.8 L370.8,745.1 L371.2,741.8 L371.6,738.6 L371.9,735.4 L372.3,732.4 L372.7,729.5 L373.1,726.8 L373.4,724.3 L373.8,722 L374.2,720 L374.6,718.2 L374.9,716.6 L375.3,715.4 L375.7,714.5 L376.1,713.8 L376.4,713.4 L376.8,713.3 L377.2,713.5 L377.6,713.9 L377.9,714.6 L378.3,715.5 L378.7,716.7 L379.1,718.1 L379.4,719.6 L379.8,721.3 L380.2,723.1 L380.6,725 L380.9,727.1 L381.3,729.1 L382.1,733.3 L382.5,735.4 L382.8,737.5 L383.2,739.4 L383.6,741.3 L384,743 L384.3,744.6 L384.7,746.1 L385.1,747.4 L385.5,748.5 L385.8,749.4 L386.2,750.1 L386.6,750.6 L387,750.8 L387.3,750.9 L387.7,750.7 L388.1,750.4 L388.5,749.8 L388.8,749 L389.2,748.1 L389.6,746.9 L390,745.6 L390.3,744.2 L390.7,742.6 L391.1,740.9 L391.5,739.2 L391.8,737.3 L392.2,735.4 L393.3,729.7 L393.7,727.8 L394.1,725.9 L394.5,724.2 L394.8,722.5 L395.2,720.9 L395.6,719.5 L396,718.1 L396.3,716.9 L396.7,715.9 L397.1,715.1 L397.5,714.4 L397.8,713.8 L398.2,713.5 L398.6,713.3 L399,713.3 L399.3,713.5 L399.7,713.8 L400.1,714.3 L400.5,715 L400.9,715.7 L401.2,716.7 L401.6,717.7 L402,718.8 L402.4,720 L402.7,721.3 L403.1,722.6 L404.6,728 L405,729.4 L405.4,730.6 L405.7,731.8 L406.1,733 L406.5,734 L406.9,735 L407.2,735.8 L407.6,736.5 L408,737.1 L408.4,737.6 L408.7,737.9 L409.1,738 L409.5,738.1 L409.9,738 L410.2,737.7 L410.6,737.3 L411,736.8 L411.4,736.2 L411.7,735.4 L412.1,734.5 L412.5,733.6 L412.9,732.5 L413.2,731.4 L413.6,730.2 L414,729 L415.5,723.9 L415.9,722.6 L416.2,721.4 L416.6,720.3 L417,719.2 L417.4,718.1 L417.7,717.2 L418.1,716.3 L418.5,715.5 L418.9,714.9 L419.2,714.3 L419.6,713.9 L420,713.6 L420.4,713.4 L420.8,713.3 L421.1,713.3 L421.5,713.5 L421.9,713.8 L422.3,714.2 L422.6,714.7 L423,715.2 L423.4,715.9 L423.8,716.6 L424.1,717.5 L424.5,718.3 L424.9,719.2 L425.3,720.2 L426.8,724.1 L427.1,725 L427.5,725.9 L427.9,726.8 L428.3,727.6 L428.6,728.3 L429,729 L429.4,729.5 L429.8,730 L430.1,730.4 L430.5,730.7 L430.9,731 L431.3,731.1 L431.6,731.1 L432,731 L432.4,730.8 L432.8,730.5 L433.1,730.1 L433.5,729.6 L433.9,729 L434.3,728.4 L434.6,727.7 L435,726.9 L435.4,726.1 L435.8,725.3 L436.1,724.4 L438,719.8 L438.4,718.9 L438.8,718.1 L439.1,717.3 L439.5,716.6 L439.9,715.9 L440.3,715.3 L440.7,714.7 L441,714.3 L441.4,713.9 L441.8,713.6 L442.2,713.4 L442.5,713.3 L442.9,713.3 L443.3,713.4 L443.7,713.5 L444,713.8 L444.4,714.1 L444.8,714.5 L445.2,714.9 L445.5,715.4 L445.9,716 L446.3,716.6 L446.7,717.3 L447,718 L448.9,721.6 L449.3,722.4 L449.7,723 L450,723.7 L450.4,724.3 L450.8,724.8 L451.2,725.3 L451.5,725.7 L451.9,726.1 L452.3,726.4 L452.7,726.6 L453,726.7 L453.4,726.8 L453.8,726.8 L454.2,726.7 L454.5,726.5 L454.9,726.3 L455.3,726 L455.7,725.6 L456,725.1 L456.4,724.6 L456.8,724.1 L457.2,723.5 L457.5,722.9 L457.9,722.2 L460.2,718 L460.6,717.4 L460.9,716.8 L461.3,716.2 L461.7,715.6 L462.1,715.1 L462.4,714.7 L462.8,714.3 L463.2,714 L463.6,713.7 L463.9,713.5 L464.3,713.4 L464.7,713.3 L465.1,713.3 L465.4,713.4 L465.8,713.5 L466.2,713.7 L466.6,714 L466.9,714.3 L467.3,714.7 L467.7,715.1 L468.1,715.6 L468.4,716.1 L468.8,716.6 L469.9,718.3 L471.4,720.6 L471.8,721.1 L472.2,721.6 L472.6,722.1 L472.9,722.5 L473.3,722.9 L473.7,723.2 L474.1,723.5 L474.4,723.7 L474.8,723.8 L475.2,723.9 L475.6,723.9 L475.9,723.9 L476.3,723.8 L476.7,723.7 L477.1,723.5 L477.4,723.2 L477.8,722.9 L478.2,722.5 L478.6,722.1 L479,721.7 L479.3,721.2 L479.7,720.7 L482.7,716.4 L483.1,715.9 L483.5,715.4 L483.8,715 L484.2,714.6 L484.6,714.3 L485,714 L485.3,713.7 L485.7,713.5 L486.1,713.4 L486.5,713.3 L486.8,713.3 L487.2,713.3 L487.6,713.4 L488,713.5 L488.3,713.7 L488.7,714 L489.1,714.2 L489.5,714.6 L489.8,714.9 L490.2,715.3 L490.6,715.7 L493.6,719.4 L494,719.8 L494.3,720.2 L494.7,720.5 L495.1,720.9 L495.5,721.2 L495.8,721.4 L496.2,721.6 L496.6,721.8 L497,721.9 L497.3,721.9 L497.7,722 L498.1,721.9 L498.5,721.8 L498.9,721.7 L499.2,721.5 L499.6,721.3 L500,721 L500.4,720.7 L500.7,720.4 L501.1,720 L501.5,719.6 L504.9,715.7 L505.2,715.3 L505.6,714.9 L506,714.6 L506.4,714.3 L506.7,714 L507.1,713.8 L507.5,713.6 L507.9,713.5 L508.2,713.4 L508.6,713.3 L509,713.3 L509.4,713.3 L509.7,713.4 L510.1,713.6 L510.5,713.7 L510.9,713.9 L511.2,714.2 L511.6,714.4 L512,714.7 L512.4,715.1 L515,717.7 L516.1,718.8 L516.5,719.1 L516.9,719.4 L517.3,719.7 L517.6,719.9 L518,720.1 L518.4,720.3 L518.8,720.4 L519.1,720.5 L519.5,720.5 L519.9,720.5 L520.3,720.5 L520.6,720.4 L521,720.2 L521.4,720.1 L521.8,719.9 L522.1,719.6 L522.5,719.4 L522.9,719.1 L523.3,718.8 L527.4,714.8 L527.8,714.5 L528.1,714.3 L528.5,714 L528.9,713.8 L529.3,713.6 L529.6,713.5 L530,713.4 L530.4,713.3 L530.8,713.3 L531.1,713.3 L531.5,713.4 L531.9,713.4 L532.3,713.6 L532.6,713.7 L533,713.9 L533.4,714.1 L533.8,714.4 L534.1,714.6 L538.3,718.1 L538.7,718.3 L539,718.6 L539.4,718.8 L539.8,719 L540.2,719.1 L540.5,719.2 L540.9,719.3 L541.3,719.4 L541.7,719.4 L542,719.4 L542.4,719.3 L542.8,719.3 L543.2,719.1 L543.5,719 L543.9,718.8 L544.3,718.6 L544.7,718.4 L545,718.1 L549.5,714.5 L549.9,714.3 L550.3,714 L550.7,713.8 L551,713.7 L551.4,713.5 L551.8,713.4 L552.2,713.4 L552.5,713.3 L552.9,713.3 L553.3,713.3 L553.7,713.4 L554,713.5 L554.4,713.6 L554.8,713.7 L555.2,713.9 L555.5,714.1 L560.1,717.2 L560.8,717.7 L561.2,717.9 L561.6,718.1 L561.9,718.2 L562.3,718.3 L562.7,718.4 L563.1,718.5 L563.4,718.5 L563.8,718.6 L564.2,718.5 L564.6,718.5 L564.9,718.4 L565.3,718.3 L565.7,718.2 L566.1,718 L566.4,717.8 L572.1,714.1 L572.4,713.9 L572.8,713.7 L573.2,713.6 L573.6,713.5 L573.9,713.4 L574.3,713.3 L574.7,713.3 L575.1,713.3 L575.5,713.3 L575.8,713.4 L576.2,713.5 L576.6,713.6 L577,713.7 L577.3,713.9 L583.3,717.4 L583.7,717.5 L584.1,717.6 L584.5,717.7 L584.8,717.8 L585.2,717.9 L585.6,717.9 L586,717.9 L586.3,717.8 L586.7,717.8 L587.1,717.7 L587.5,717.6 L587.8,717.5 L590.1,716.3 L594.6,713.8 L595,713.6 L595.4,713.5 L595.7,713.4 L596.1,713.4 L596.5,713.3 L596.9,713.3 L597.2,713.3 L597.6,713.3 L598,713.4 L598.4,713.5 L598.7,713.6 L605.1,716.8 L605.9,717 L606.2,717.1 L606.6,717.2 L607,717.3 L607.4,717.3 L607.7,717.3 L608.1,717.3 L608.5,717.3 L608.9,717.2 L609.2,717.2 L617.5,713.5 L617.9,713.4 L618.3,713.3 L618.6,713.3 L619,713.3 L619.4,713.3 L619.8,713.4 L620.1,713.4 L629.1,716.9 L629.5,716.9 L629.9,716.9 L630.3,716.9 L635.2,715.2 L650.2,716.3 L665.2,713.6 L680.2,714.4 L695.2,715.9 L710.2,713.8 L725.3,713.9 L740.3,715.5 L755.3,714 L770.3,713.6 L785.3,715.1 L800.4,714.1 L815.4,713.4 L830.4,714.7 L845.4,714.3 L860.4,713.3 L875.5,714.4 L890.5,714.3 L905.5,713.3 L920.5,714.1 L935.5,714.3 L950.6,713.3 L965.6,713.9 L980.6,714.3 L995.6,713.4 L1010.6,713.7 L1025.3,714.2" fill="none" stroke="#000000" stroke-width="5.3" stroke-linejoin="round"/>
<path d="M124.5,718.7 L124.9,718.6 L125.2,718.5 L125.6,718.4 L126,718.2 L126.4,718 L126.7,717.8 L131.6,714.3 L132,714.1 L132.4,713.9 L132.8,713.7 L133.1,713.6 L133.5,713.4 L133.9,713.4 L134.3,713.3 L134.6,713.3 L135,713.3 L135.4,713.4 L135.8,713.5 L136.1,713.6 L136.5,713.7 L136.9,713.9 L137.3,714.1 L137.6,714.4 L138,714.6 L139.5,715.9 L142.5,718.6 L142.9,718.8 L143.3,719.1 L143.6,719.3 L144,719.5 L144.4,719.7 L144.8,719.8 L145.1,719.9 L145.5,720 L145.9,720 L146.3,720 L146.6,719.9 L147,719.8 L147.4,719.7 L147.8,719.5 L148.1,719.3 L148.5,719.1 L148.9,718.8 L149.3,718.5 L153.4,714.7 L153.8,714.4 L154.2,714.2 L154.5,713.9 L154.9,713.7 L155.3,713.6 L155.7,713.4 L156,713.4 L156.4,713.3 L156.8,713.3 L157.2,713.3 L157.5,713.4 L157.9,713.5 L158.3,713.7 L158.7,713.9 L159,714.2 L159.4,714.4 L159.8,714.8 L160.2,715.1 L160.5,715.5 L164.3,719.7 L164.7,720.1 L165,720.4 L165.4,720.7 L165.8,721 L166.2,721.2 L166.5,721.4 L166.9,721.6 L167.3,721.7 L167.7,721.7 L168.1,721.8 L168.4,721.7 L168.8,721.6 L169.2,721.5 L169.6,721.3 L169.9,721.1 L170.3,720.8 L170.7,720.5 L171.1,720.2 L171.4,719.8 L171.8,719.4 L174.8,715.8 L175.2,715.4 L175.6,715 L175.9,714.6 L176.3,714.3 L176.7,714 L177.1,713.8 L177.4,713.6 L177.8,713.4 L178.2,713.3 L178.6,713.3 L178.9,713.3 L179.3,713.4 L179.7,713.5 L180.1,713.7 L180.4,713.9 L180.8,714.2 L181.2,714.6 L181.6,714.9 L181.9,715.4 L182.3,715.8 L182.7,716.3 L183.1,716.8 L184.6,719.1 L185.7,720.8 L186.1,721.4 L186.4,721.9 L186.8,722.4 L187.2,722.8 L187.6,723.2 L188,723.5 L188.3,723.8 L188.7,724.1 L189.1,724.3 L189.5,724.4 L189.8,724.4 L190.2,724.4 L190.6,724.4 L191,724.2 L191.3,724 L191.7,723.8 L192.1,723.5 L192.5,723.1 L192.8,722.7 L193.2,722.2 L193.6,721.7 L194,721.2 L194.3,720.6 L196.6,717 L197,716.4 L197.3,715.9 L197.7,715.4 L198.1,714.9 L198.5,714.5 L198.8,714.1 L199.2,713.8 L199.6,713.6 L200,713.4 L200.3,713.3 L200.7,713.3 L201.1,713.3 L201.5,713.5 L201.8,713.7 L202.2,713.9 L202.6,714.3 L203,714.7 L203.3,715.2 L203.7,715.7 L204.1,716.3 L204.5,717 L204.8,717.7 L205.2,718.4 L205.6,719.2 L207.5,723.2 L207.9,723.9 L208.2,724.7 L208.6,725.4 L209,726 L209.4,726.6 L209.7,727.2 L210.1,727.7 L210.5,728.1 L210.9,728.4 L211.2,728.6 L211.6,728.8 L212,728.8 L212.4,728.8 L212.7,728.7 L213.1,728.5 L213.5,728.2 L213.9,727.8 L214.2,727.4 L214.6,726.9 L215,726.3 L215.4,725.6 L215.7,724.9 L216.1,724.1 L216.5,723.3 L218.4,719.1 L218.7,718.3 L219.1,717.5 L219.5,716.7 L219.9,716 L220.2,715.4 L220.6,714.8 L221,714.3 L221.4,713.9 L221.7,713.6 L222.1,713.4 L222.5,713.3 L222.9,713.3 L223.2,713.4 L223.6,713.6 L224,714 L224.4,714.4 L224.7,715 L225.1,715.6 L225.5,716.4 L225.9,717.2 L226.3,718.1 L226.6,719.1 L227,720.2 L227.4,721.3 L227.8,722.4 L229.6,728.4 L230,729.6 L230.4,730.7 L230.8,731.7 L231.1,732.7 L231.5,733.6 L231.9,734.4 L232.3,735.1 L232.6,735.7 L233,736.2 L233.4,736.6 L233.8,736.8 L234.1,736.9 L234.5,736.8 L234.9,736.7 L235.3,736.3 L235.6,735.9 L236,735.3 L236.4,734.6 L236.8,733.8 L237.1,732.9 L237.5,731.9 L237.9,730.8 L238.3,729.6 L238.6,728.4 L239,727.1 L240.5,721.9 L240.9,720.6 L241.3,719.4 L241.6,718.3 L242,717.2 L242.4,716.2 L242.8,715.4 L243.1,714.7 L243.5,714.1 L243.9,713.7 L244.3,713.4 L244.6,713.3 L245,713.4 L245.4,713.6 L245.8,714 L246.2,714.6 L246.5,715.4 L246.9,716.4 L247.3,717.5 L247.7,718.8 L248,720.2 L248.4,721.8 L248.8,723.5 L249.2,725.3 L249.5,727.2 L249.9,729.2 L250.3,731.2 L251.4,737.5 L251.8,739.5 L252.2,741.5 L252.5,743.5 L252.9,745.3 L253.3,747 L253.7,748.6 L254,750.1 L254.4,751.3 L254.8,752.4 L255.2,753.3 L255.5,753.9 L255.9,754.4 L256.3,754.6 L256.7,754.6 L257,754.3 L257.4,753.8 L257.8,753.1 L258.2,752.1 L258.5,750.9 L258.9,749.5 L259.3,747.9 L259.7,746.2 L260,744.3 L260.4,742.2 L260.8,740 L261.2,737.8 L261.5,735.4 L262.3,730.7 L262.7,728.4 L263,726.1 L263.4,724 L263.8,721.9 L264.2,720 L264.5,718.3 L264.9,716.8 L265.3,715.5 L265.7,714.5 L266.1,713.8 L266.4,713.4 L266.8,713.3 L267.2,713.6 L267.6,714.2 L267.9,715.2 L268.3,716.5 L268.7,718.2 L269.1,720.3 L269.4,722.8 L269.8,725.6 L270.2,728.7 L270.6,732.1 L270.9,735.8 L271.3,739.8 L271.7,744 L272.1,748.4 L272.4,752.9 L272.8,757.6 L273.2,762.3 L273.9,771.8 L274.3,776.5 L274.7,781.1 L275.1,785.5 L275.4,789.7 L275.8,793.7 L276.2,797.3 L276.6,800.6 L276.9,803.6 L277.3,806.1 L277.7,808.1 L278.1,809.7 L278.4,810.7 L278.8,811.2 L279.2,811.1 L279.6,810.5 L279.9,809.3 L280.3,807.6 L280.7,805.3 L281.1,802.4 L281.4,799 L281.8,795.2 L282.2,790.9 L282.6,786.2 L282.9,781.1 L283.3,775.7 L283.7,770.1 L284.1,764.4 L284.8,752.6 L285.2,746.8 L285.6,741.2 L286,735.8 L286.3,730.7 L286.7,726.1 L287.1,722.1 L287.5,718.7 L287.8,716 L288.2,714.2 L288.6,713.4 L289,713.3 L289.7,713.3 L291.2,713.3 L291.6,768.8 L292,802.6 L292.3,825.9 L292.7,844.4 L293.1,860 L293.5,873.5 L293.8,885.5 L294.2,896.2 L294.6,905.8 L295,914.6 L295.3,922.7 L295.7,930.1 L296.1,936.9 L296.5,943.1 L296.8,948.9 L297.2,954.3 L297.6,959.3 L298,963.9 L298.3,968.1 L298.7,972.1 L299.1,975.7 L299.5,979.1 L299.8,982.2 L300.2,985.1 L300.6,987.8 L301,990.2 L301.3,992.4 L301.7,994.5 L302.1,996.4 L302.5,998.1 L302.8,999.6 L303.2,1001 L303.6,1002.3 L304,1003.4 L304.4,1004.4 L304.7,1005.3 L305.1,1006.1 L305.5,1006.8 L305.9,1007.4 L306.2,1007.9 L306.6,1008.3 L307,1008.7 L307.4,1009 L307.7,1009.2 L308.1,1009.4 L308.5,1009.5 L308.9,1009.6 L309.2,1009.7 L312.2,1009.7 L312.6,1009.6 L313,1009.5 L313.4,1009.4 L313.7,1009.2 L314.1,1009 L314.5,1008.7 L314.9,1008.3 L315.2,1007.9 L315.6,1007.4 L316,1006.8 L316.4,1006.1 L316.7,1005.3 L317.1,1004.4 L317.5,1003.4 L317.9,1002.3 L318.2,1001 L318.6,999.6 L319,998 L319.4,996.3 L319.7,994.4 L320.1,992.4 L320.5,990.1 L320.9,987.7 L321.2,985 L321.6,982.1 L322,979 L322.4,975.6 L322.7,971.9 L323.1,968 L323.5,963.7 L323.9,959.1 L324.3,954.1 L324.6,948.7 L325,942.9 L325.4,936.6 L325.8,929.8 L326.1,922.4 L326.5,914.3 L326.9,905.5 L327.3,895.8 L327.6,885 L328,873 L328.4,859.5 L328.8,843.8 L329.1,825.1 L329.5,801.6 L329.9,767.1 L330.3,713.3 L332.5,713.3 L332.9,713.4 L333.3,714.3 L333.6,716.1 L334,718.8 L334.4,722.2 L334.8,726.3 L335.1,730.9 L335.5,736 L335.9,741.4 L336.3,747 L336.6,752.8 L337.4,764.6 L337.8,770.3 L338.1,775.9 L338.5,781.3 L338.9,786.4 L339.3,791.1 L339.6,795.3 L340,799.2 L340.4,802.5 L340.8,805.4 L341.1,807.6 L341.5,809.4 L341.9,810.5 L342.3,811.1 L342.7,811.2 L343,810.7 L343.4,809.6 L343.8,808 L344.2,806 L344.5,803.5 L344.9,800.5 L345.3,797.2 L345.7,793.5 L346,789.6 L346.4,785.3 L346.8,780.9 L347.2,776.3 L347.5,771.6 L348.3,762.1 L348.7,757.4 L349,752.7 L349.4,748.2 L349.8,743.8 L350.2,739.6 L350.5,735.6 L350.9,731.9 L351.3,728.5 L351.7,725.4 L352,722.7 L352.4,720.2 L352.8,718.2 L353.2,716.5 L353.5,715.1 L353.9,714.2 L354.3,713.6 L354.7,713.3 L355,713.4 L355.4,713.8 L355.8,714.5 L356.2,715.6 L356.5,716.8 L356.9,718.3 L357.3,720.1 L357.7,722 L358,724 L358.4,726.2 L358.8,728.5 L359.2,730.8 L359.9,735.5 L360.3,737.8 L360.7,740.1 L361,742.3 L361.4,744.3 L361.8,746.2 L362.2,748 L362.6,749.6 L362.9,751 L363.3,752.1 L363.7,753.1 L364.1,753.8 L364.4,754.3 L364.8,754.6 L365.2,754.6 L365.6,754.4 L365.9,753.9 L366.3,753.2 L366.7,752.4 L367.1,751.3 L367.4,750 L367.8,748.6 L368.2,747 L368.6,745.2 L368.9,743.4 L369.3,741.5 L369.7,739.5 L370.1,737.4 L371.2,731.2 L371.6,729.1 L371.9,727.2 L372.3,725.3 L372.7,723.4 L373.1,721.8 L373.4,720.2 L373.8,718.8 L374.2,717.5 L374.6,716.4 L374.9,715.4 L375.3,714.6 L375.7,714 L376.1,713.6 L376.4,713.4 L376.8,713.3 L377.2,713.4 L377.6,713.7 L377.9,714.1 L378.3,714.7 L378.7,715.4 L379.1,716.3 L379.4,717.2 L379.8,718.3 L380.2,719.5 L380.6,720.7 L380.9,721.9 L382.5,727.2 L382.8,728.4 L383.2,729.7 L383.6,730.8 L384,731.9 L384.3,732.9 L384.7,733.9 L385.1,734.7 L385.5,735.4 L385.8,735.9 L386.2,736.4 L386.6,736.7 L387,736.8 L387.3,736.9 L387.7,736.8 L388.1,736.5 L388.5,736.2 L388.8,735.7 L389.2,735.1 L389.6,734.4 L390,733.6 L390.3,732.7 L390.7,731.7 L391.1,730.6 L391.5,729.5 L391.8,728.4 L393.7,722.4 L394.1,721.2 L394.5,720.1 L394.8,719.1 L395.2,718.1 L395.6,717.2 L396,716.3 L396.3,715.6 L396.7,714.9 L397.1,714.4 L397.5,714 L397.8,713.6 L398.2,713.4 L398.6,713.3 L399,713.3 L399.3,713.4 L399.7,713.6 L400.1,713.9 L400.5,714.3 L400.9,714.8 L401.2,715.4 L401.6,716 L402,716.7 L402.4,717.5 L402.7,718.3 L403.1,719.1 L404.6,722.5 L405,723.4 L405.4,724.2 L405.7,724.9 L406.1,725.6 L406.5,726.3 L406.9,726.9 L407.2,727.4 L407.6,727.9 L408,728.2 L408.4,728.5 L408.7,728.7 L409.1,728.8 L409.5,728.8 L409.9,728.8 L410.2,728.6 L410.6,728.4 L411,728 L411.4,727.6 L411.7,727.2 L412.1,726.6 L412.5,726 L412.9,725.4 L413.2,724.7 L413.6,723.9 L414,723.1 L415.9,719.2 L416.2,718.4 L416.6,717.7 L417,717 L417.4,716.3 L417.7,715.7 L418.1,715.2 L418.5,714.7 L418.9,714.3 L419.2,713.9 L419.6,713.7 L420,713.5 L420.4,713.3 L420.8,713.3 L421.1,713.3 L421.5,713.4 L421.9,713.6 L422.3,713.8 L422.6,714.1 L423,714.5 L423.4,714.9 L423.8,715.4 L424.1,715.9 L424.5,716.4 L424.9,717 L427.1,720.6 L427.5,721.2 L427.9,721.7 L428.3,722.2 L428.6,722.7 L429,723.1 L429.4,723.5 L429.8,723.8 L430.1,724 L430.5,724.2 L430.9,724.4 L431.3,724.4 L431.6,724.4 L432,724.4 L432.4,724.3 L432.8,724.1 L433.1,723.8 L433.5,723.5 L433.9,723.2 L434.3,722.8 L434.6,722.3 L435,721.9 L435.4,721.3 L435.8,720.8 L438.4,716.8 L438.8,716.3 L439.1,715.8 L439.5,715.3 L439.9,714.9 L440.3,714.5 L440.7,714.2 L441,713.9 L441.4,713.7 L441.8,713.5 L442.2,713.4 L442.5,713.3 L442.9,713.3 L443.3,713.3 L443.7,713.4 L444,713.6 L444.4,713.8 L444.8,714 L445.2,714.3 L445.5,714.6 L445.9,715 L446.3,715.4 L446.7,715.8 L449.7,719.4 L450,719.8 L450.4,720.2 L450.8,720.5 L451.2,720.8 L451.5,721.1 L451.9,721.3 L452.3,721.5 L452.7,721.6 L453,721.7 L453.4,721.8 L453.8,721.7 L454.2,721.7 L454.5,721.6 L454.9,721.4 L455.3,721.2 L455.7,721 L456,720.7 L456.4,720.4 L456.8,720.1 L457.2,719.7 L460.9,715.5 L461.3,715.1 L461.7,714.8 L462.1,714.4 L462.4,714.2 L462.8,713.9 L463.2,713.7 L463.6,713.5 L463.9,713.4 L464.3,713.3 L464.7,713.3 L465.1,713.3 L465.4,713.4 L465.8,713.4 L466.2,713.6 L466.6,713.7 L466.9,713.9 L467.3,714.2 L467.7,714.4 L468.1,714.7 L469.9,716.5 L472.2,718.5 L472.6,718.8 L472.9,719.1 L473.3,719.3 L473.7,719.5 L474.1,719.7 L474.4,719.8 L474.8,719.9 L475.2,720 L475.6,720 L475.9,720 L476.3,719.9 L476.7,719.8 L477.1,719.7 L477.4,719.5 L477.8,719.3 L478.2,719.1 L478.6,718.8 L479,718.6 L483.5,714.6 L483.8,714.4 L484.2,714.1 L484.6,713.9 L485,713.7 L485.3,713.6 L485.7,713.5 L486.1,713.4 L486.5,713.3 L486.8,713.3 L487.2,713.3 L487.6,713.4 L488,713.5 L488.3,713.6 L488.7,713.7 L489.1,713.9 L489.5,714.1 L489.8,714.3 L494.7,717.8 L495.1,718 L495.5,718.2 L495.8,718.4 L496.2,718.5 L496.6,718.6 L497,718.7 L497.3,718.7 L497.7,718.7 L498.1,718.7 L498.5,718.6 L498.9,718.6 L499.2,718.4 L499.6,718.3 L500,718.1 L500.4,718 L506,714.1 L506.4,713.9 L506.7,713.7 L507.1,713.6 L507.5,713.5 L507.9,713.4 L508.2,713.3 L508.6,713.3 L509,713.3 L509.4,713.3 L509.7,713.4 L510.1,713.5 L510.5,713.6 L510.9,713.7 L511.2,713.8 L515,716.1 L517.3,717.3 L517.6,717.4 L518,717.6 L518.4,717.7 L518.8,717.7 L519.1,717.8 L519.5,717.8 L519.9,717.8 L520.3,717.8 L520.6,717.7 L521,717.7 L521.4,717.6 L521.8,717.4 L528.9,713.6 L529.3,713.5 L529.6,713.4 L530,713.4 L530.4,713.3 L530.8,713.3 L531.1,713.3 L531.5,713.3 L531.9,713.4 L532.3,713.5 L540.2,716.9 L540.5,717 L540.9,717.1 L541.3,717.1 L541.7,717.1 L542,717.1 L542.4,717.1 L542.8,717 L545,716.3 L552.2,713.3 L552.5,713.3 L552.9,713.3 L553.3,713.3 L560.1,715.8 L575.1,713.3 L590.1,715.2 L605.1,715.5 L620.1,713.4 L635.2,714.5 L650.2,715.2 L665.2,713.5 L680.2,714 L695.2,714.9 L710.2,713.6 L725.3,713.7 L740.3,714.7 L755.3,713.7 L770.3,713.5 L785.3,714.4 L800.4,713.8 L815.4,713.4 L830.4,714.2 L845.4,713.9 L860.4,713.3 L875.5,714 L890.5,713.9 L905.5,713.3 L920.5,713.8 L935.5,713.9 L950.6,713.3 L965.6,713.6 L980.6,713.9 L995.6,713.4 L1010.6,713.5 L1025.3,713.9" fill="none" stroke="#00b300" stroke-width="15.0" stroke-linejoin="round"/>
<path d="M124.5,718.6 L124.9,718.5 L125.2,718.4 L125.6,718.3 L126,718.1 L126.4,717.9 L126.7,717.7 L132,714.1 L132.4,713.9 L132.8,713.7 L133.1,713.6 L133.5,713.4 L133.9,713.4 L134.3,713.3 L134.6,713.3 L135,713.3 L135.4,713.4 L135.8,713.5 L136.1,713.6 L136.5,713.7 L136.9,713.9 L137.3,714.1 L137.6,714.4 L138,714.6 L139.5,715.8 L142.5,718.5 L142.9,718.7 L143.3,719 L143.6,719.2 L144,719.4 L144.4,719.5 L144.8,719.7 L145.1,719.8 L145.5,719.8 L145.9,719.8 L146.3,719.8 L146.6,719.8 L147,719.7 L147.4,719.5 L147.8,719.4 L148.1,719.2 L148.5,718.9 L148.9,718.7 L149.3,718.4 L153.4,714.7 L153.8,714.4 L154.2,714.2 L154.5,713.9 L154.9,713.7 L155.3,713.6 L155.7,713.4 L156,713.4 L156.4,713.3 L156.8,713.3 L157.2,713.3 L157.5,713.4 L157.9,713.5 L158.3,713.7 L158.7,713.9 L159,714.1 L159.4,714.4 L159.8,714.7 L160.2,715.1 L160.5,715.4 L164.3,719.6 L164.7,719.9 L165,720.3 L165.4,720.6 L165.8,720.8 L166.2,721.1 L166.5,721.3 L166.9,721.4 L167.3,721.5 L167.7,721.6 L168.1,721.6 L168.4,721.5 L168.8,721.4 L169.2,721.3 L169.6,721.1 L169.9,720.9 L170.3,720.6 L170.7,720.3 L171.1,720 L171.4,719.6 L171.8,719.3 L175.2,715.3 L175.6,715 L175.9,714.6 L176.3,714.3 L176.7,714 L177.1,713.8 L177.4,713.6 L177.8,713.4 L178.2,713.3 L178.6,713.3 L178.9,713.3 L179.3,713.4 L179.7,713.5 L180.1,713.7 L180.4,713.9 L180.8,714.2 L181.2,714.5 L181.6,714.9 L181.9,715.3 L182.3,715.8 L182.7,716.3 L183.1,716.8 L184.6,719 L185.7,720.7 L186.1,721.2 L186.4,721.7 L186.8,722.2 L187.2,722.6 L187.6,723 L188,723.3 L188.3,723.6 L188.7,723.8 L189.1,724 L189.5,724.1 L189.8,724.2 L190.2,724.2 L190.6,724.1 L191,724 L191.3,723.8 L191.7,723.6 L192.1,723.3 L192.5,722.9 L192.8,722.5 L193.2,722 L193.6,721.5 L194,721 L194.3,720.5 L196.6,716.9 L197,716.4 L197.3,715.8 L197.7,715.3 L198.1,714.9 L198.5,714.5 L198.8,714.1 L199.2,713.8 L199.6,713.6 L200,713.4 L200.3,713.3 L200.7,713.3 L201.1,713.3 L201.5,713.5 L201.8,713.7 L202.2,713.9 L202.6,714.3 L203,714.7 L203.3,715.2 L203.7,715.7 L204.1,716.3 L204.5,716.9 L204.8,717.6 L205.2,718.3 L205.6,719.1 L207.5,723 L207.9,723.7 L208.2,724.4 L208.6,725.1 L209,725.8 L209.4,726.4 L209.7,726.9 L210.1,727.3 L210.5,727.7 L210.9,728.1 L211.2,728.3 L211.6,728.4 L212,728.5 L212.4,728.5 L212.7,728.4 L213.1,728.2 L213.5,727.9 L213.9,727.5 L214.2,727.1 L214.6,726.6 L215,726 L215.4,725.4 L215.7,724.7 L216.1,723.9 L216.5,723.1 L218.4,719 L218.7,718.2 L219.1,717.4 L219.5,716.6 L219.9,716 L220.2,715.3 L220.6,714.8 L221,714.3 L221.4,713.9 L221.7,713.6 L222.1,713.4 L222.5,713.3 L222.9,713.3 L223.2,713.4 L223.6,713.6 L224,714 L224.4,714.4 L224.7,714.9 L225.1,715.6 L225.5,716.3 L225.9,717.1 L226.3,718 L226.6,719 L227,720 L227.4,721.1 L227.8,722.2 L229.6,728.1 L230,729.2 L230.4,730.3 L230.8,731.3 L231.1,732.3 L231.5,733.2 L231.9,734 L232.3,734.7 L232.6,735.2 L233,735.7 L233.4,736.1 L233.8,736.3 L234.1,736.4 L234.5,736.3 L234.9,736.2 L235.3,735.9 L235.6,735.4 L236,734.9 L236.4,734.2 L236.8,733.4 L237.1,732.5 L237.5,731.5 L237.9,730.4 L238.3,729.3 L238.6,728.1 L239,726.8 L240.5,721.7 L240.9,720.5 L241.3,719.3 L241.6,718.2 L242,717.1 L242.4,716.2 L242.8,715.4 L243.1,714.7 L243.5,714.1 L243.9,713.7 L244.3,713.4 L244.6,713.3 L245,713.4 L245.4,713.6 L245.8,714 L246.2,714.6 L246.5,715.4 L246.9,716.3 L247.3,717.4 L247.7,718.7 L248,720.1 L248.4,721.6 L248.8,723.3 L249.2,725.1 L249.5,726.9 L249.9,728.9 L250.3,730.9 L251.4,737 L251.8,739 L252.2,740.9 L252.5,742.8 L252.9,744.6 L253.3,746.3 L253.7,747.9 L254,749.3 L254.4,750.5 L254.8,751.6 L255.2,752.4 L255.5,753.1 L255.9,753.5 L256.3,753.7 L256.7,753.7 L257,753.4 L257.4,752.9 L257.8,752.2 L258.2,751.3 L258.5,750.1 L258.9,748.8 L259.3,747.2 L259.7,745.5 L260,743.6 L260.4,741.6 L260.8,739.5 L261.2,737.2 L261.5,735 L262.3,730.4 L262.7,728.1 L263,725.9 L263.4,723.7 L263.8,721.7 L264.2,719.9 L264.5,718.2 L264.9,716.7 L265.3,715.5 L265.7,714.5 L266.1,713.8 L266.4,713.4 L266.8,713.3 L267.2,713.6 L267.6,714.2 L267.9,715.1 L268.3,716.5 L268.7,718.1 L269.1,720.2 L269.4,722.6 L269.8,725.3 L270.2,728.3 L270.6,731.7 L270.9,735.3 L271.3,739.2 L271.7,743.3 L272.1,747.6 L272.4,752.1 L272.8,756.6 L273.2,761.3 L273.9,770.6 L274.3,775.2 L274.7,779.7 L275.1,784 L275.4,788.1 L275.8,792 L276.2,795.5 L276.6,798.8 L276.9,801.6 L277.3,804.1 L277.7,806.1 L278.1,807.6 L278.4,808.6 L278.8,809.1 L279.2,809 L279.6,808.4 L279.9,807.3 L280.3,805.6 L280.7,803.3 L281.1,800.5 L281.4,797.2 L281.8,793.5 L282.2,789.2 L282.6,784.6 L282.9,779.7 L283.3,774.4 L283.7,768.9 L284.1,763.3 L284.8,751.8 L285.2,746.1 L285.6,740.6 L286,735.3 L286.3,730.4 L286.7,725.9 L287.1,721.9 L287.5,718.6 L287.8,716 L288.2,714.2 L288.6,713.4 L289,713.3 L289.7,713.3 L291.2,713.3 L291.6,767.6 L292,800.7 L292.3,823.5 L292.7,841.6 L293.1,856.9 L293.5,870.1 L293.8,881.8 L294.2,892.3 L294.6,901.8 L295,910.4 L295.3,918.2 L295.7,925.5 L296.1,932.1 L296.5,938.3 L296.8,943.9 L297.2,949.2 L297.6,954 L298,958.5 L298.3,962.7 L298.7,966.6 L299.1,970.1 L299.5,973.5 L299.8,976.5 L300.2,979.3 L300.6,981.9 L301,984.3 L301.3,986.5 L301.7,988.5 L302.1,990.4 L302.5,992 L302.8,993.6 L303.2,994.9 L303.6,996.2 L304,997.3 L304.4,998.3 L304.7,999.1 L305.1,999.9 L305.5,1000.6 L305.9,1001.2 L306.2,1001.7 L306.6,1002.1 L307,1002.4 L307.4,1002.7 L307.7,1002.9 L308.1,1003.1 L308.5,1003.3 L308.9,1003.3 L309.2,1003.4 L312.2,1003.4 L312.6,1003.3 L313,1003.2 L313.4,1003.1 L313.7,1002.9 L314.1,1002.7 L314.5,1002.4 L314.9,1002.1 L315.2,1001.6 L315.6,1001.1 L316,1000.6 L316.4,999.9 L316.7,999.1 L317.1,998.2 L317.5,997.2 L317.9,996.1 L318.2,994.9 L318.6,993.5 L319,992 L319.4,990.3 L319.7,988.4 L320.1,986.4 L320.5,984.2 L320.9,981.8 L321.2,979.2 L321.6,976.4 L322,973.3 L322.4,970 L322.7,966.4 L323.1,962.6 L323.5,958.4 L323.9,953.9 L324.3,949 L324.6,943.7 L325,938 L325.4,931.9 L325.8,925.2 L326.1,918 L326.5,910.1 L326.9,901.4 L327.3,891.9 L327.6,881.4 L328,869.6 L328.4,856.3 L328.8,841 L329.1,822.7 L329.5,799.7 L329.9,765.9 L330.3,713.3 L332.5,713.3 L332.9,713.4 L333.3,714.3 L333.6,716.1 L334,718.7 L334.4,722.1 L334.8,726 L335.1,730.5 L335.5,735.5 L335.9,740.8 L336.3,746.3 L336.6,752 L337.4,763.5 L337.8,769.1 L338.1,774.6 L338.5,779.9 L338.9,784.8 L339.3,789.4 L339.6,793.6 L340,797.4 L340.4,800.6 L340.8,803.4 L341.1,805.6 L341.5,807.3 L341.9,808.5 L342.3,809.1 L342.7,809.1 L343,808.6 L343.4,807.6 L343.8,806 L344.2,804 L344.5,801.5 L344.9,798.7 L345.3,795.4 L345.7,791.8 L346,787.9 L346.4,783.8 L346.8,779.5 L347.2,775 L347.5,770.4 L348.3,761.1 L348.7,756.4 L349,751.9 L349.4,747.4 L349.8,743.1 L350.2,739 L350.5,735.2 L350.9,731.6 L351.3,728.2 L351.7,725.2 L352,722.5 L352.4,720.1 L352.8,718.1 L353.2,716.4 L353.5,715.1 L353.9,714.2 L354.3,713.6 L354.7,713.3 L355,713.4 L355.4,713.8 L355.8,714.5 L356.2,715.5 L356.5,716.8 L356.9,718.2 L357.3,719.9 L357.7,721.8 L358,723.8 L358.4,725.9 L358.8,728.2 L359.2,730.4 L359.9,735.1 L360.3,737.3 L360.7,739.5 L361,741.7 L361.4,743.7 L361.8,745.5 L362.2,747.3 L362.6,748.8 L362.9,750.2 L363.3,751.3 L363.7,752.2 L364.1,753 L364.4,753.4 L364.8,753.7 L365.2,753.7 L365.6,753.5 L365.9,753 L366.3,752.4 L366.7,751.5 L367.1,750.5 L367.4,749.2 L367.8,747.8 L368.2,746.3 L368.6,744.6 L368.9,742.8 L369.3,740.9 L369.7,738.9 L370.1,736.9 L371.2,730.8 L371.6,728.8 L371.9,726.9 L372.3,725 L372.7,723.2 L373.1,721.6 L373.4,720 L373.8,718.6 L374.2,717.4 L374.6,716.3 L374.9,715.4 L375.3,714.6 L375.7,714 L376.1,713.6 L376.4,713.4 L376.8,713.3 L377.2,713.4 L377.6,713.7 L377.9,714.1 L378.3,714.7 L378.7,715.4 L379.1,716.2 L379.4,717.2 L379.8,718.2 L380.2,719.3 L380.6,720.5 L380.9,721.7 L382.5,726.9 L382.8,728.1 L383.2,729.3 L383.6,730.5 L384,731.5 L384.3,732.5 L384.7,733.4 L385.1,734.2 L385.5,734.9 L385.8,735.4 L386.2,735.9 L386.6,736.2 L387,736.3 L387.3,736.4 L387.7,736.3 L388.1,736 L388.5,735.7 L388.8,735.2 L389.2,734.6 L389.6,733.9 L390,733.1 L390.3,732.3 L390.7,731.3 L391.1,730.3 L391.5,729.2 L391.8,728 L393.7,722.2 L394.1,721.1 L394.5,720 L394.8,718.9 L395.2,718 L395.6,717.1 L396,716.3 L396.3,715.5 L396.7,714.9 L397.1,714.4 L397.5,714 L397.8,713.6 L398.2,713.4 L398.6,713.3 L399,713.3 L399.3,713.4 L399.7,713.6 L400.1,713.9 L400.5,714.3 L400.9,714.8 L401.2,715.4 L401.6,716 L402,716.7 L402.4,717.4 L402.7,718.2 L403.1,719 L405,723.2 L405.4,723.9 L405.7,724.7 L406.1,725.4 L406.5,726 L406.9,726.6 L407.2,727.1 L407.6,727.6 L408,727.9 L408.4,728.2 L408.7,728.4 L409.1,728.5 L409.5,728.5 L409.9,728.4 L410.2,728.3 L410.6,728 L411,727.7 L411.4,727.3 L411.7,726.9 L412.1,726.3 L412.5,725.7 L412.9,725.1 L413.2,724.4 L413.6,723.7 L414,722.9 L415.9,719 L416.2,718.3 L416.6,717.6 L417,716.9 L417.4,716.3 L417.7,715.7 L418.1,715.1 L418.5,714.7 L418.9,714.3 L419.2,713.9 L419.6,713.7 L420,713.5 L420.4,713.3 L420.8,713.3 L421.1,713.3 L421.5,713.4 L421.9,713.6 L422.3,713.8 L422.6,714.1 L423,714.5 L423.4,714.9 L423.8,715.4 L424.1,715.8 L424.5,716.4 L424.9,716.9 L427.1,720.5 L427.5,721 L427.9,721.6 L428.3,722.1 L428.6,722.5 L429,722.9 L429.4,723.3 L429.8,723.6 L430.1,723.8 L430.5,724 L430.9,724.1 L431.3,724.2 L431.6,724.2 L432,724.1 L432.4,724 L432.8,723.8 L433.1,723.6 L433.5,723.3 L433.9,723 L434.3,722.6 L434.6,722.1 L435,721.7 L435.4,721.2 L438.4,716.8 L438.8,716.2 L439.1,715.8 L439.5,715.3 L439.9,714.9 L440.3,714.5 L440.7,714.2 L441,713.9 L441.4,713.7 L441.8,713.5 L442.2,713.4 L442.5,713.3 L442.9,713.3 L443.3,713.3 L443.7,713.4 L444,713.6 L444.4,713.8 L444.8,714 L445.2,714.3 L445.5,714.6 L445.9,715 L446.3,715.3 L449.7,719.3 L450,719.7 L450.4,720 L450.8,720.4 L451.2,720.7 L451.5,720.9 L451.9,721.1 L452.3,721.3 L452.7,721.4 L453,721.5 L453.4,721.6 L453.8,721.6 L454.2,721.5 L454.5,721.4 L454.9,721.3 L455.3,721.1 L455.7,720.8 L456,720.6 L456.4,720.3 L456.8,719.9 L457.2,719.6 L460.9,715.4 L461.3,715.1 L461.7,714.7 L462.1,714.4 L462.4,714.1 L462.8,713.9 L463.2,713.7 L463.6,713.5 L463.9,713.4 L464.3,713.3 L464.7,713.3 L465.1,713.3 L465.4,713.4 L465.8,713.4 L466.2,713.6 L466.6,713.7 L466.9,713.9 L467.3,714.2 L467.7,714.4 L468.1,714.7 L469.9,716.4 L472.2,718.4 L472.6,718.7 L472.9,718.9 L473.3,719.2 L473.7,719.4 L474.1,719.5 L474.4,719.7 L474.8,719.8 L475.2,719.8 L475.6,719.8 L475.9,719.8 L476.3,719.8 L476.7,719.7 L477.1,719.5 L477.4,719.4 L477.8,719.2 L478.2,719 L478.6,718.7 L479,718.4 L483.5,714.6 L483.8,714.3 L484.2,714.1 L484.6,713.9 L485,713.7 L485.3,713.6 L485.7,713.5 L486.1,713.4 L486.5,713.3 L486.8,713.3 L487.2,713.3 L487.6,713.4 L488,713.4 L488.3,713.6 L488.7,713.7 L489.1,713.9 L489.5,714.1 L494.7,717.7 L495.1,717.9 L495.5,718.1 L495.8,718.3 L496.2,718.4 L496.6,718.5 L497,718.6 L497.3,718.6 L497.7,718.6 L498.1,718.6 L498.5,718.5 L498.9,718.5 L499.2,718.3 L499.6,718.2 L500,718 L500.4,717.9 L506,714.1 L506.4,713.9 L506.7,713.7 L507.1,713.6 L507.5,713.5 L507.9,713.4 L508.2,713.3 L508.6,713.3 L509,713.3 L509.4,713.3 L509.7,713.4 L510.1,713.5 L510.5,713.6 L510.9,713.7 L511.2,713.8 L515,716 L517.6,717.4 L518,717.5 L518.4,717.6 L518.8,717.6 L519.1,717.7 L519.5,717.7 L519.9,717.7 L520.3,717.7 L520.6,717.6 L521,717.6 L521.4,717.5 L521.8,717.3 L528.9,713.6 L529.3,713.5 L529.6,713.4 L530,713.4 L530.4,713.3 L530.8,713.3 L531.1,713.3 L531.5,713.3 L531.9,713.4 L532.3,713.5 L540.5,716.9 L540.9,717 L541.3,717 L541.7,717 L542,717 L542.4,717 L542.8,717 L545,716.3 L560.1,715.7 L575.1,713.3 L590.1,715.2 L605.1,715.4 L620.1,713.4 L635.2,714.5 L650.2,715.2 L665.2,713.5 L680.2,714 L695.2,714.9 L710.2,713.6 L725.3,713.7 L740.3,714.6 L755.3,713.7 L770.3,713.5 L785.3,714.4 L800.4,713.8 L815.4,713.4 L830.4,714.2 L845.4,713.9 L860.4,713.3 L875.5,714 L890.5,713.9 L905.5,713.3 L920.5,713.8 L935.5,713.9 L950.6,713.3 L965.6,713.6 L980.6,713.9 L995.6,713.4 L1010.6,713.5 L1025.3,713.9" fill="none" stroke="#ff0000" stroke-width="5.3" stroke-linejoin="round"/>
<path d="M124.5,714.4 L139.5,713.8 L154.5,713.4 L169.6,714.9 L184.6,714.5 L199.6,713.4 L214.6,716 L222.1,713.3 L222.5,713.3 L222.9,713.3 L223.2,713.3 L223.6,713.4 L224,713.4 L224.4,713.5 L224.7,713.6 L229.6,716.3 L231.9,717.5 L232.3,717.6 L232.6,717.8 L233,717.9 L233.4,717.9 L233.8,718 L234.1,718 L234.5,718 L234.9,718 L235.3,717.9 L235.6,717.8 L236,717.7 L236.4,717.6 L236.8,717.4 L242.4,713.9 L242.8,713.7 L243.1,713.6 L243.5,713.5 L243.9,713.4 L244.3,713.3 L244.6,713.3 L245,713.3 L245.4,713.4 L245.8,713.4 L246.2,713.6 L246.5,713.7 L246.9,713.9 L247.3,714.1 L247.7,714.4 L248,714.7 L248.4,715 L248.8,715.3 L252.9,719.7 L253.3,720 L253.7,720.3 L254,720.6 L254.4,720.9 L254.8,721.1 L255.2,721.3 L255.5,721.4 L255.9,721.5 L256.3,721.5 L256.7,721.5 L257,721.5 L257.4,721.4 L257.8,721.2 L258.2,721 L258.5,720.8 L258.9,720.5 L259.3,720.2 L259.7,719.8 L260,719.5 L260.4,719.1 L263.4,715.4 L263.8,715 L264.2,714.6 L264.5,714.3 L264.9,714 L265.3,713.7 L265.7,713.5 L266.1,713.4 L266.4,713.3 L266.8,713.3 L267.2,713.4 L267.6,713.5 L267.9,713.7 L268.3,713.9 L268.7,714.3 L269.1,714.7 L269.4,715.2 L269.8,715.7 L270.2,716.4 L270.6,717 L270.9,717.8 L271.3,718.6 L271.7,719.4 L272.1,720.3 L272.4,721.2 L274.3,725.9 L274.7,726.8 L275.1,727.7 L275.4,728.5 L275.8,729.3 L276.2,730 L276.6,730.7 L276.9,731.3 L277.3,731.8 L277.7,732.2 L278.1,732.5 L278.4,732.7 L278.8,732.8 L279.2,732.8 L279.6,732.7 L279.9,732.4 L280.3,732.1 L280.7,731.6 L281.1,731.1 L281.4,730.4 L281.8,729.6 L282.2,728.8 L282.6,727.8 L282.9,726.8 L283.3,725.7 L283.7,724.6 L285.2,720 L285.6,718.9 L286,717.8 L286.3,716.8 L286.7,715.9 L287.1,715.1 L287.5,714.4 L287.8,713.8 L288.2,713.5 L288.6,713.3 L289,715.8 L289.7,723.4 L304.7,876.1 L310.4,933.4 L310.7,937.1 L319.7,845.4 L332.5,715.6 L332.9,713.3 L333.3,713.5 L333.6,713.9 L334,714.4 L334.4,715.1 L334.8,715.9 L335.1,716.8 L335.5,717.8 L335.9,718.9 L336.3,720 L337.8,724.7 L338.1,725.8 L338.5,726.8 L338.9,727.9 L339.3,728.8 L339.6,729.6 L340,730.4 L340.4,731.1 L340.8,731.6 L341.1,732.1 L341.5,732.4 L341.9,732.7 L342.3,732.8 L342.7,732.8 L343,732.7 L343.4,732.5 L343.8,732.2 L344.2,731.8 L344.5,731.3 L344.9,730.7 L345.3,730 L345.7,729.3 L346,728.5 L346.4,727.7 L346.8,726.8 L347.2,725.9 L349,721.2 L349.4,720.2 L349.8,719.4 L350.2,718.5 L350.5,717.8 L350.9,717 L351.3,716.3 L351.7,715.7 L352,715.2 L352.4,714.7 L352.8,714.3 L353.2,713.9 L353.5,713.7 L353.9,713.5 L354.3,713.4 L354.7,713.3 L355,713.3 L355.4,713.4 L355.8,713.5 L356.2,713.7 L356.5,714 L356.9,714.3 L357.3,714.6 L357.7,715 L358,715.4 L361,719.1 L361.4,719.5 L361.8,719.9 L362.2,720.2 L362.6,720.5 L362.9,720.8 L363.3,721 L363.7,721.2 L364.1,721.4 L364.4,721.5 L364.8,721.5 L365.2,721.5 L365.6,721.5 L365.9,721.4 L366.3,721.3 L366.7,721.1 L367.1,720.9 L367.4,720.6 L367.8,720.3 L368.2,720 L368.6,719.7 L372.7,715.3 L373.1,715 L373.4,714.7 L373.8,714.4 L374.2,714.1 L374.6,713.9 L374.9,713.7 L375.3,713.6 L375.7,713.4 L376.1,713.4 L376.4,713.3 L376.8,713.3 L377.2,713.3 L377.6,713.4 L377.9,713.5 L378.3,713.6 L378.7,713.7 L379.1,713.9 L379.8,714.3 L384.7,717.4 L385.1,717.6 L385.5,717.7 L385.8,717.8 L386.2,717.9 L386.6,718 L387,718 L387.3,718 L387.7,718 L388.1,717.9 L388.5,717.9 L388.8,717.8 L389.2,717.6 L389.6,717.5 L394.8,714.4 L396.7,713.6 L397.1,713.5 L397.5,713.4 L397.8,713.4 L398.2,713.3 L398.6,713.3 L399,713.3 L399.3,713.3 L409.9,716.4 L424.9,714 L439.9,713.6 L454.9,714.9 L469.9,713.9 L485,713.4 L500,714.3 L515,713.9 L530,713.3 L545,713.9 L560.1,713.8 L575.1,713.3 L590.1,713.7 L605.1,713.7 L620.1,713.3 L635.2,713.5 L650.2,713.7 L665.2,713.3 L680.2,713.4 L695.2,713.6 L710.2,713.4 L725.3,713.4 L740.3,713.6 L755.3,713.4 L770.3,713.3 L785.3,713.5 L800.4,713.4 L815.4,713.3 L830.4,713.5 L845.4,713.4 L860.4,713.3 L875.5,713.4 L890.5,713.4 L905.5,713.3 L920.5,713.4 L935.5,713.4 L950.6,713.3 L965.6,713.4 L980.6,713.4 L995.6,713.3 L1010.6,713.3 L1025.3,713.4" fill="none" stroke="#0000ff" stroke-width="5.3" stroke-linejoin="round"/>
<path d="M124.5,731 L124.9,731.1 L125.2,731.2 L125.6,731.1 L126,730.9 L126.4,730.5 L126.7,730.2 L127.1,729.7 L127.5,729.1 L127.9,728.4 L128.2,727.7 L128.6,726.9 L129,726 L129.4,725.1 L129.8,724.2 L131.3,720.3 L131.6,719.3 L132,718.4 L132.4,717.5 L132.8,716.7 L133.1,716 L133.5,715.3 L133.9,714.7 L134.3,714.2 L134.6,713.8 L135,713.5 L135.4,713.4 L135.8,713.3 L136.1,713.4 L136.5,713.6 L136.9,713.9 L137.3,714.3 L137.6,714.8 L138,715.5 L138.4,716.2 L138.8,717.1 L139.1,718.1 L139.5,719.1 L139.9,720.2 L140.3,721.4 L140.6,722.6 L141,723.9 L142.5,729 L142.9,730.2 L143.3,731.4 L143.6,732.5 L144,733.6 L144.4,734.6 L144.8,735.5 L145.1,736.2 L145.5,736.9 L145.9,737.4 L146.3,737.8 L146.6,738.1 L147,738.2 L147.4,738.2 L147.8,738 L148.1,737.7 L148.5,737.3 L148.9,736.7 L149.3,736 L149.7,735.1 L150,734.2 L150.4,733.2 L150.8,732 L151.2,730.8 L151.5,729.5 L151.9,728.2 L153.4,722.7 L153.8,721.4 L154.2,720.1 L154.5,718.9 L154.9,717.8 L155.3,716.7 L155.7,715.8 L156,715 L156.4,714.4 L156.8,713.9 L157.2,713.5 L157.5,713.3 L157.9,713.3 L158.3,713.5 L158.7,713.8 L159,714.3 L159.4,715 L159.8,715.9 L160.2,716.9 L160.5,718.1 L160.9,719.4 L161.3,720.8 L161.7,722.4 L162,724.1 L162.4,725.9 L162.8,727.7 L163.2,729.6 L164.3,735.4 L164.7,737.3 L165,739.2 L165.4,740.9 L165.8,742.6 L166.2,744.2 L166.5,745.7 L166.9,747 L167.3,748.2 L167.7,749.1 L168.1,749.9 L168.4,750.5 L168.8,750.9 L169.2,751.1 L169.6,751 L169.9,750.8 L170.3,750.3 L170.7,749.6 L171.1,748.7 L171.4,747.6 L171.8,746.3 L172.2,744.9 L172.6,743.3 L172.9,741.5 L173.3,739.7 L173.7,737.7 L174.1,735.7 L174.4,733.6 L175.2,729.4 L175.6,727.3 L175.9,725.2 L176.3,723.3 L176.7,721.5 L177.1,719.7 L177.4,718.2 L177.8,716.8 L178.2,715.6 L178.6,714.7 L178.9,714 L179.3,713.5 L179.7,713.3 L180.1,713.4 L180.4,713.8 L180.8,714.4 L181.2,715.3 L181.6,716.6 L181.9,718.1 L182.3,719.8 L182.7,721.9 L183.1,724.2 L183.4,726.7 L183.8,729.4 L184.2,732.2 L184.6,735.3 L184.9,738.4 L185.3,741.7 L185.7,745 L186.4,751.7 L186.8,755 L187.2,758.2 L187.6,761.3 L188,764.3 L188.3,767.1 L188.7,769.6 L189.1,772 L189.5,774 L189.8,775.8 L190.2,777.2 L190.6,778.3 L191,779.1 L191.3,779.4 L191.7,779.4 L192.1,779.1 L192.5,778.3 L192.8,777.2 L193.2,775.7 L193.6,773.8 L194,771.6 L194.3,769.1 L194.7,766.3 L195.1,763.3 L195.5,760 L195.8,756.5 L196.2,752.9 L196.6,749.2 L197.3,741.6 L197.7,737.9 L198.1,734.3 L198.5,730.8 L198.8,727.4 L199.2,724.4 L199.6,721.6 L200,719.1 L200.3,717 L200.7,715.4 L201.1,714.2 L201.5,713.5 L201.8,713.3 L202.2,713.7 L202.6,714.6 L203,716.1 L203.3,718.2 L203.7,720.9 L204.1,724.2 L204.5,728 L204.8,732.4 L205.2,737.3 L205.6,742.8 L206,748.7 L206.3,755 L206.7,761.7 L207.1,768.7 L207.5,775.9 L207.9,783.4 L208.2,791 L209,806.3 L209.4,813.8 L209.7,821.1 L210.1,828.3 L210.5,835 L210.9,841.4 L211.2,847.3 L211.6,852.7 L212,857.5 L212.4,861.5 L212.7,864.9 L213.1,867.5 L213.5,869.2 L213.9,870.1 L214.2,870.1 L214.6,869.2 L215,867.4 L215.4,864.7 L215.7,861.1 L216.1,856.7 L216.5,851.4 L216.9,845.3 L217.2,838.4 L217.6,831 L218,822.9 L218.4,814.3 L218.7,805.4 L219.1,796.1 L219.5,786.8 L219.9,777.3 L220.2,768 L220.6,758.9 L221,750.2 L221.4,742.1 L221.7,734.7 L222.1,728.1 L222.5,722.5 L222.9,718.1 L223.2,715.1 L223.6,713.5 L224,713.3 L224.7,713.3 L225.1,905.3 L225.5,938.9 L225.9,957.5 L226.3,970.7 L226.6,981 L227,989.5 L227.4,996.7 L227.8,1003 L228.1,1008.5 L228.5,1013.5 L228.9,1018 L229.3,1022.1 L229.6,1025.9 L230,1029.3 L230.4,1032.5 L230.8,1035.5 L231.1,1038.3 L231.5,1040.9 L231.9,1043.4 L232.3,1045.7 L232.6,1047.8 L233,1049.8 L233.4,1051.8 L233.8,1053.6 L234.1,1055.3 L234.5,1056.9 L234.9,1058.4 L235.3,1059.9 L235.6,1061.2 L236,1062.5 L236.4,1063.7 L236.8,1064.9 L237.1,1066 L237.5,1067 L237.9,1068 L238.3,1068.9 L238.6,1069.7 L239,1070.5 L239.4,1071.3 L239.8,1072 L240.1,1072.6 L240.5,1073.2 L240.9,1073.8 L241.3,1074.3 L241.6,1074.8 L242,1075.2 L242.4,1075.6 L242.8,1075.9 L243.1,1076.2 L243.5,1076.5 L243.9,1076.7 L244.3,1076.9 L244.6,1077 L245,1077.1 L245.4,1077.2 L245.8,1077.2 L246.2,1077.2 L246.5,1077.2 L246.9,1077.1 L247.3,1076.9 L247.7,1076.8 L248,1076.5 L248.4,1076.3 L248.8,1076 L249.2,1075.7 L249.5,1075.3 L249.9,1074.9 L250.3,1074.4 L250.7,1073.9 L251,1073.3 L251.4,1072.7 L251.8,1072.1 L252.2,1071.4 L252.5,1070.7 L252.9,1069.9 L253.3,1069 L253.7,1068.1 L254,1067.2 L254.4,1066.2 L254.8,1065.1 L255.2,1063.9 L255.5,1062.7 L255.9,1061.5 L256.3,1060.1 L256.7,1058.7 L257,1057.2 L257.4,1055.6 L257.8,1053.9 L258.2,1052.1 L258.5,1050.2 L258.9,1048.2 L259.3,1046.1 L259.7,1043.8 L260,1041.4 L260.4,1038.8 L260.8,1036.1 L261.2,1033.1 L261.5,1029.9 L261.9,1026.5 L262.3,1022.8 L262.7,1018.8 L263,1014.4 L263.4,1009.5 L263.8,1004.1 L264.2,997.9 L264.5,990.9 L264.9,982.7 L265.3,972.8 L265.7,960.2 L266.1,942.9 L266.4,913.9 L266.8,713.3 L267.6,713.3 L267.9,713.4 L268.3,714.7 L268.7,717.4 L269.1,721.6 L269.4,727 L269.8,733.4 L270.2,740.7 L270.6,748.7 L270.9,757.3 L271.3,766.3 L271.7,775.6 L272.4,794.4 L272.8,803.7 L273.2,812.7 L273.6,821.4 L273.9,829.5 L274.3,837.1 L274.7,844.1 L275.1,850.3 L275.4,855.8 L275.8,860.4 L276.2,864.1 L276.6,867 L276.9,869 L277.3,870 L277.7,870.2 L278.1,869.5 L278.4,867.9 L278.8,865.4 L279.2,862.2 L279.6,858.3 L279.9,853.6 L280.3,848.4 L280.7,842.5 L281.1,836.2 L281.4,829.5 L281.8,822.5 L282.2,815.1 L282.6,807.6 L282.9,800 L283.3,792.4 L283.7,784.8 L284.1,777.3 L284.5,770 L284.8,762.9 L285.2,756.2 L285.6,749.8 L286,743.8 L286.3,738.3 L286.7,733.3 L287.1,728.8 L287.5,724.8 L287.8,721.5 L288.2,718.7 L288.6,716.5 L289,714.8 L289.3,713.8 L289.7,713.3 L290.1,713.4 L290.5,714 L290.8,715.1 L291.2,716.7 L291.6,718.7 L292,721.1 L292.3,723.8 L292.7,726.9 L293.1,730.1 L293.5,733.6 L293.8,737.2 L294.2,741 L295,748.5 L295.3,752.2 L295.7,755.9 L296.1,759.4 L296.5,762.7 L296.8,765.8 L297.2,768.6 L297.6,771.2 L298,773.4 L298.3,775.3 L298.7,776.9 L299.1,778.1 L299.5,778.9 L299.8,779.4 L300.2,779.5 L300.6,779.2 L301,778.5 L301.3,777.4 L301.7,776.1 L302.1,774.4 L302.5,772.4 L302.8,770.1 L303.2,767.5 L303.6,764.8 L304,761.9 L304.4,758.8 L304.7,755.6 L305.1,752.3 L305.9,745.6 L306.2,742.3 L306.6,739 L307,735.8 L307.4,732.8 L307.7,729.9 L308.1,727.1 L308.5,724.6 L308.9,722.3 L309.2,720.2 L309.6,718.4 L310,716.8 L310.4,715.5 L310.7,714.6 L311.1,713.8 L311.5,713.4 L311.9,713.3 L312.2,713.4 L312.6,713.9 L313,714.5 L313.4,715.4 L313.7,716.6 L314.1,717.9 L314.5,719.4 L314.9,721.1 L315.2,723 L315.6,724.9 L316,726.9 L316.4,729 L317.1,733.2 L317.5,735.3 L317.9,737.4 L318.2,739.3 L318.6,741.2 L319,743 L319.4,744.6 L319.7,746.1 L320.1,747.4 L320.5,748.5 L320.9,749.5 L321.2,750.2 L321.6,750.7 L322,751 L322.4,751.1 L322.7,750.9 L323.1,750.6 L323.5,750 L323.9,749.3 L324.3,748.3 L324.6,747.2 L325,745.9 L325.4,744.5 L325.8,742.9 L326.1,741.3 L326.5,739.5 L326.9,737.6 L327.3,735.8 L328.4,729.9 L328.8,728 L329.1,726.2 L329.5,724.4 L329.9,722.7 L330.3,721.1 L330.6,719.6 L331,718.3 L331.4,717.1 L331.8,716 L332.1,715.2 L332.5,714.4 L332.9,713.9 L333.3,713.5 L333.6,713.3 L334,713.3 L334.4,713.5 L334.8,713.8 L335.1,714.3 L335.5,714.9 L335.9,715.7 L336.3,716.6 L336.6,717.6 L337,718.7 L337.4,719.9 L337.8,721.2 L338.1,722.5 L339.6,728 L340,729.3 L340.4,730.6 L340.8,731.8 L341.1,733 L341.5,734 L341.9,735 L342.3,735.8 L342.7,736.6 L343,737.2 L343.4,737.6 L343.8,738 L344.2,738.2 L344.5,738.2 L344.9,738.1 L345.3,737.9 L345.7,737.5 L346,737 L346.4,736.3 L346.8,735.6 L347.2,734.7 L347.5,733.8 L347.9,732.7 L348.3,731.6 L348.7,730.4 L349,729.2 L349.4,728 L349.8,726.7 L350.5,724.1 L350.9,722.8 L351.3,721.6 L351.7,720.4 L352,719.3 L352.4,718.2 L352.8,717.3 L353.2,716.4 L353.5,715.6 L353.9,714.9 L354.3,714.4 L354.7,713.9 L355,713.6 L355.4,713.4 L355.8,713.3 L356.2,713.3 L356.5,713.5 L356.9,713.8 L357.3,714.1 L357.7,714.6 L358,715.2 L358.4,715.8 L358.8,716.6 L359.2,717.4 L359.5,718.2 L359.9,719.2 L360.3,720.1 L361.8,724 L362.2,725 L362.6,725.9 L362.9,726.7 L363.3,727.5 L363.7,728.3 L364.1,729 L364.4,729.6 L364.8,730.1 L365.2,730.5 L365.6,730.8 L365.9,731 L366.3,731.1 L366.7,731.2 L367.1,731.1 L367.4,730.9 L367.8,730.6 L368.2,730.2 L368.6,729.7 L368.9,729.2 L369.3,728.6 L369.7,727.9 L370.1,727.1 L370.4,726.3 L370.8,725.4 L371.2,724.5 L373.1,719.9 L373.4,719 L373.8,718.2 L374.2,717.4 L374.6,716.7 L374.9,716 L375.3,715.4 L375.7,714.8 L376.1,714.3 L376.4,714 L376.8,713.7 L377.2,713.5 L377.6,713.3 L377.9,713.3 L378.3,713.4 L378.7,713.5 L379.1,713.7 L379.4,714 L379.8,714.4 L380.2,714.9 L380.6,715.4 L380.9,716 L381.3,716.6 L381.7,717.2 L382.1,717.9 L384.3,722.3 L384.7,723 L385.1,723.6 L385.5,724.3 L385.8,724.8 L386.2,725.3 L386.6,725.7 L387,726.1 L387.3,726.4 L387.7,726.6 L388.1,726.8 L388.5,726.8 L388.8,726.8 L389.2,726.8 L389.6,726.6 L390,726.4 L390.3,726.1 L390.7,725.7 L391.1,725.2 L391.5,724.8 L391.8,724.2 L392.2,723.6 L392.6,723 L393,722.3 L394.8,718.8 L395.2,718.1 L395.6,717.5 L396,716.8 L396.3,716.2 L396.7,715.7 L397.1,715.2 L397.5,714.7 L397.8,714.3 L398.2,714 L398.6,713.7 L399,713.5 L399.3,713.4 L399.7,713.3 L400.1,713.3 L400.5,713.4 L400.9,713.5 L401.2,713.7 L401.6,714 L402,714.3 L402.4,714.7 L402.7,715.1 L403.1,715.6 L403.5,716 L403.9,716.6 L406.5,720.6 L406.9,721.1 L407.2,721.6 L407.6,722.1 L408,722.5 L408.4,722.9 L408.7,723.2 L409.1,723.5 L409.5,723.7 L409.9,723.9 L410.2,724 L410.6,724 L411,724 L411.4,723.9 L411.7,723.7 L412.1,723.5 L412.5,723.3 L412.9,723 L413.2,722.6 L413.6,722.2 L414,721.8 L414.4,721.3 L414.7,720.8 L417.7,716.4 L418.1,715.9 L418.5,715.5 L418.9,715 L419.2,714.7 L419.6,714.3 L420,714 L420.4,713.8 L420.8,713.6 L421.1,713.4 L421.5,713.3 L421.9,713.3 L422.3,713.3 L422.6,713.4 L423,713.5 L423.4,713.7 L423.8,713.9 L424.1,714.2 L424.5,714.5 L424.9,714.9 L425.3,715.3 L425.6,715.7 L428.6,719.3 L429,719.8 L429.4,720.2 L429.8,720.5 L430.1,720.9 L430.5,721.2 L430.9,721.4 L431.3,721.6 L431.6,721.8 L432,721.9 L432.4,722 L432.8,722 L433.1,722 L433.5,721.9 L433.9,721.8 L434.3,721.6 L434.6,721.4 L435,721.1 L435.4,720.8 L435.8,720.5 L436.1,720.1 L436.5,719.7 L439.9,715.7 L440.3,715.3 L440.7,715 L441,714.6 L441.4,714.3 L441.8,714 L442.2,713.8 L442.5,713.6 L442.9,713.5 L443.3,713.4 L443.7,713.3 L444,713.3 L444.4,713.3 L444.8,713.4 L445.2,713.5 L445.5,713.7 L445.9,713.9 L446.3,714.1 L446.7,714.4 L447,714.7 L447.4,715 L451.2,718.8 L451.5,719.1 L451.9,719.4 L452.3,719.7 L452.7,719.9 L453,720.1 L453.4,720.3 L453.8,720.4 L454.2,720.5 L454.5,720.5 L454.9,720.5 L455.3,720.5 L455.7,720.4 L456,720.3 L456.4,720.1 L456.8,719.9 L457.2,719.7 L457.5,719.4 L457.9,719.2 L458.3,718.8 L462.4,714.9 L462.8,714.6 L463.2,714.3 L463.6,714.1 L463.9,713.8 L464.3,713.7 L464.7,713.5 L465.1,713.4 L465.4,713.3 L465.8,713.3 L466.2,713.3 L466.6,713.4 L466.9,713.4 L467.3,713.5 L467.7,713.7 L468.1,713.9 L468.4,714.1 L468.8,714.3 L469.2,714.6 L469.9,715.2 L473.7,718.3 L474.1,718.6 L474.4,718.8 L474.8,719 L475.2,719.1 L475.6,719.3 L475.9,719.3 L476.3,719.4 L476.7,719.4 L477.1,719.4 L477.4,719.4 L477.8,719.3 L478.2,719.2 L478.6,719 L479,718.9 L479.3,718.7 L479.7,718.4 L480.1,718.2 L484.6,714.5 L485,714.3 L485.3,714.1 L485.7,713.9 L486.1,713.7 L486.5,713.6 L486.8,713.4 L487.2,713.4 L487.6,713.3 L488,713.3 L488.3,713.3 L488.7,713.4 L489.1,713.4 L489.5,713.6 L489.8,713.7 L490.2,713.9 L490.6,714.1 L495.8,717.7 L496.2,717.9 L496.6,718.1 L497,718.2 L497.3,718.4 L497.7,718.5 L498.1,718.5 L498.5,718.6 L498.9,718.6 L499.2,718.6 L499.6,718.5 L500,718.4 L500.4,718.3 L500.7,718.2 L501.1,718 L501.5,717.8 L507.1,714.1 L507.5,713.9 L507.9,713.7 L508.2,713.6 L508.6,713.5 L509,713.4 L509.4,713.3 L509.7,713.3 L510.1,713.3 L510.5,713.3 L510.9,713.4 L511.2,713.5 L511.6,713.6 L512,713.7 L512.4,713.8 L515,715.4 L518.4,717.4 L518.8,717.5 L519.1,717.6 L519.5,717.7 L519.9,717.8 L520.3,717.9 L520.6,717.9 L521,717.9 L521.4,717.9 L521.8,717.8 L522.1,717.7 L522.5,717.6 L522.9,717.5 L523.3,717.4 L529.6,713.8 L530,713.6 L530.4,713.5 L530.8,713.4 L531.1,713.4 L531.5,713.3 L531.9,713.3 L532.3,713.3 L532.6,713.3 L533,713.4 L533.4,713.5 L533.8,713.6 L541.3,717.2 L541.7,717.2 L542,717.3 L542.4,717.3 L542.8,717.4 L543.2,717.3 L543.5,717.3 L543.9,717.3 L544.3,717.2 L544.7,717.1 L545,717 L552.5,713.5 L552.9,713.4 L553.3,713.3 L553.7,713.3 L554,713.3 L554.4,713.3 L554.8,713.3 L555.2,713.4 L560.1,715.4 L564.2,716.9 L564.6,716.9 L564.9,716.9 L565.3,716.9 L565.7,716.9 L575.1,713.4 L590.1,715.9 L605.1,715.4 L620.1,713.3 L635.2,715.1 L650.2,715.3 L665.2,713.4 L680.2,714.5 L695.2,715.2 L710.2,713.5 L725.3,714 L740.3,715 L755.3,713.6 L770.3,713.7 L785.3,714.8 L800.4,713.8 L815.4,713.5 L830.4,714.6 L845.4,713.9 L860.4,713.4 L875.5,714.4 L890.5,714 L905.5,713.3 L920.5,714.1 L935.5,714.1 L950.6,713.3 L965.6,713.9 L980.6,714.1 L995.6,713.3 L1010.6,713.7 L1025.3,714.1" fill="none" stroke="#00b300" stroke-width="5.3" stroke-linejoin="round"/>
<path d="M124.5,722.9 L124.9,722.9 L125.2,722.9 L125.6,722.9 L126,722.8 L126.4,722.6 L126.7,722.4 L127.1,722.1 L127.5,721.8 L127.9,721.4 L128.2,721.1 L128.6,720.6 L129,720.2 L132,716.1 L132.4,715.6 L132.8,715.1 L133.1,714.7 L133.5,714.4 L133.9,714.1 L134.3,713.8 L134.6,713.6 L135,713.4 L135.4,713.3 L135.8,713.3 L136.1,713.3 L136.5,713.4 L136.9,713.6 L137.3,713.8 L137.6,714.1 L138,714.5 L138.4,714.9 L138.8,715.4 L139.1,715.9 L139.5,716.4 L139.9,717 L140.3,717.7 L142.9,722.4 L143.3,723.1 L143.6,723.7 L144,724.2 L144.4,724.8 L144.8,725.2 L145.1,725.6 L145.5,726 L145.9,726.3 L146.3,726.5 L146.6,726.6 L147,726.7 L147.4,726.7 L147.8,726.6 L148.1,726.4 L148.5,726.2 L148.9,725.9 L149.3,725.5 L149.7,725.1 L150,724.6 L150.4,724 L150.8,723.4 L151.2,722.7 L151.5,722 L153.8,717.7 L154.2,717 L154.5,716.3 L154.9,715.7 L155.3,715.2 L155.7,714.7 L156,714.2 L156.4,713.9 L156.8,713.6 L157.2,713.4 L157.5,713.3 L157.9,713.3 L158.3,713.4 L158.7,713.6 L159,713.9 L159.4,714.2 L159.8,714.7 L160.2,715.2 L160.5,715.9 L160.9,716.6 L161.3,717.4 L161.7,718.2 L162,719.1 L162.4,720.1 L162.8,721.1 L164.7,726.2 L165,727.2 L165.4,728.2 L165.8,729.1 L166.2,730 L166.5,730.7 L166.9,731.5 L167.3,732.1 L167.7,732.6 L168.1,733 L168.4,733.3 L168.8,733.6 L169.2,733.6 L169.6,733.6 L169.9,733.5 L170.3,733.2 L170.7,732.9 L171.1,732.4 L171.4,731.8 L171.8,731.1 L172.2,730.3 L172.6,729.5 L172.9,728.5 L173.3,727.5 L173.7,726.5 L174.1,725.4 L175.6,720.8 L175.9,719.7 L176.3,718.7 L176.7,717.7 L177.1,716.8 L177.4,715.9 L177.8,715.2 L178.2,714.6 L178.6,714 L178.9,713.7 L179.3,713.4 L179.7,713.3 L180.1,713.3 L180.4,713.5 L180.8,713.9 L181.2,714.4 L181.6,715.1 L181.9,715.9 L182.3,716.8 L182.7,717.9 L183.1,719.1 L183.4,720.5 L183.8,722 L184.2,723.5 L184.6,725.1 L184.9,726.8 L185.3,728.6 L186.4,734 L186.8,735.8 L187.2,737.5 L187.6,739.2 L188,740.8 L188.3,742.3 L188.7,743.6 L189.1,744.9 L189.5,746 L189.8,747 L190.2,747.7 L190.6,748.3 L191,748.7 L191.3,748.9 L191.7,748.9 L192.1,748.7 L192.5,748.3 L192.8,747.7 L193.2,746.9 L193.6,745.9 L194,744.7 L194.3,743.4 L194.7,741.9 L195.1,740.2 L195.5,738.4 L195.8,736.6 L196.2,734.6 L196.6,732.6 L197.3,728.6 L197.7,726.6 L198.1,724.6 L198.5,722.7 L198.8,720.9 L199.2,719.3 L199.6,717.8 L200,716.4 L200.3,715.3 L200.7,714.4 L201.1,713.8 L201.5,713.4 L201.8,713.3 L202.2,713.5 L202.6,714 L203,714.8 L203.3,715.9 L203.7,717.4 L204.1,719.2 L204.5,721.2 L204.8,723.6 L205.2,726.3 L205.6,729.2 L206,732.4 L206.3,735.8 L206.7,739.4 L207.1,743.1 L207.5,747 L207.9,751.1 L208.2,755.2 L209,763.4 L209.4,767.4 L209.7,771.4 L210.1,775.2 L210.5,778.9 L210.9,782.3 L211.2,785.5 L211.6,788.4 L212,791 L212.4,793.2 L212.7,795 L213.1,796.4 L213.5,797.3 L213.9,797.8 L214.2,797.8 L214.6,797.3 L215,796.3 L215.4,794.9 L215.7,792.9 L216.1,790.5 L216.5,787.7 L216.9,784.4 L217.2,780.7 L217.6,776.7 L218,772.3 L218.4,767.7 L218.7,762.9 L219.1,757.9 L219.9,747.8 L220.2,742.8 L220.6,737.9 L221,733.2 L221.4,728.8 L221.7,724.8 L222.1,721.3 L222.5,718.3 L222.9,715.9 L223.2,714.2 L223.6,713.4 L224,713.3 L227,713.3 L227.4,763.2 L227.8,799.2 L228.1,826.5 L228.5,848.9 L228.9,867.9 L229.3,884.3 L229.6,898.7 L230,911.3 L230.4,922.4 L230.8,932.2 L231.1,941 L231.5,948.7 L231.9,955.5 L232.3,961.6 L232.6,967 L233,971.7 L233.4,975.9 L233.8,979.6 L234.1,982.8 L234.5,985.6 L234.9,988.1 L235.3,990.2 L235.6,992.1 L236,993.7 L236.4,995 L236.8,996.2 L237.1,997.1 L237.5,998 L237.9,998.6 L238.3,999.2 L238.6,999.7 L239,1000 L239.4,1000.3 L239.8,1000.6 L240.1,1000.8 L240.5,1000.9 L240.9,1001 L241.3,1001.1 L244.6,1001.3 L250.3,1001.1 L250.7,1001 L251,1000.9 L251.4,1000.8 L251.8,1000.6 L252.2,1000.4 L252.5,1000.1 L252.9,999.7 L253.3,999.3 L253.7,998.8 L254,998.1 L254.4,997.3 L254.8,996.4 L255.2,995.2 L255.5,993.9 L255.9,992.4 L256.3,990.6 L256.7,988.5 L257,986.1 L257.4,983.4 L257.8,980.2 L258.2,976.6 L258.5,972.5 L258.9,967.9 L259.3,962.6 L259.7,956.7 L260,950 L260.4,942.4 L260.8,933.9 L261.2,924.3 L261.5,913.4 L261.9,901.1 L262.3,887.1 L262.7,871.1 L263,852.6 L263.4,830.9 L263.8,804.7 L264.2,770.8 L264.5,713.3 L267.6,713.3 L267.9,713.3 L268.3,714 L268.7,715.5 L269.1,717.8 L269.4,720.7 L269.8,724.1 L270.2,728.1 L270.6,732.4 L270.9,737 L271.3,741.9 L271.7,746.9 L272.4,757 L272.8,762 L273.2,766.9 L273.6,771.5 L273.9,775.9 L274.3,780 L274.7,783.7 L275.1,787.1 L275.4,790 L275.8,792.5 L276.2,794.6 L276.6,796.1 L276.9,797.2 L277.3,797.7 L277.7,797.8 L278.1,797.4 L278.4,796.6 L278.8,795.3 L279.2,793.5 L279.6,791.4 L279.9,788.9 L280.3,786.1 L280.7,782.9 L281.1,779.5 L281.4,775.9 L281.8,772.1 L282.2,768.2 L282.6,764.1 L283.3,755.9 L283.7,751.8 L284.1,747.8 L284.5,743.8 L284.8,740 L285.2,736.4 L285.6,733 L286,729.7 L286.3,726.8 L286.7,724.1 L287.1,721.6 L287.5,719.5 L287.8,717.7 L288.2,716.2 L288.6,715 L289,714.1 L289.3,713.6 L289.7,713.3 L290.1,713.4 L290.5,713.7 L290.8,714.3 L291.2,715.1 L291.6,716.2 L292,717.5 L292.3,719 L292.7,720.6 L293.1,722.4 L293.5,724.2 L293.8,726.2 L294.2,728.2 L295,732.3 L295.3,734.3 L295.7,736.2 L296.1,738.1 L296.5,739.9 L296.8,741.6 L297.2,743.1 L297.6,744.5 L298,745.7 L298.3,746.7 L298.7,747.6 L299.1,748.2 L299.5,748.7 L299.8,748.9 L300.2,748.9 L300.6,748.8 L301,748.4 L301.3,747.9 L301.7,747.1 L302.1,746.2 L302.5,745.1 L302.8,743.9 L303.2,742.5 L303.6,741 L304,739.5 L304.4,737.8 L304.7,736.1 L305.1,734.3 L306.2,728.9 L306.6,727.2 L307,725.4 L307.4,723.8 L307.7,722.2 L308.1,720.8 L308.5,719.4 L308.9,718.1 L309.2,717 L309.6,716 L310,715.2 L310.4,714.5 L310.7,714 L311.1,713.6 L311.5,713.4 L311.9,713.3 L312.2,713.4 L312.6,713.6 L313,714 L313.4,714.5 L313.7,715.1 L314.1,715.8 L314.5,716.6 L314.9,717.5 L315.2,718.5 L315.6,719.5 L316,720.6 L317.5,725.2 L317.9,726.3 L318.2,727.3 L318.6,728.3 L319,729.3 L319.4,730.2 L319.7,731 L320.1,731.7 L320.5,732.3 L320.9,732.8 L321.2,733.2 L321.6,733.4 L322,733.6 L322.4,733.7 L322.7,733.6 L323.1,733.4 L323.5,733.1 L323.9,732.7 L324.3,732.2 L324.6,731.6 L325,730.9 L325.4,730.1 L325.8,729.3 L326.1,728.4 L326.5,727.4 L326.9,726.4 L328.8,721.2 L329.1,720.2 L329.5,719.3 L329.9,718.4 L330.3,717.5 L330.6,716.7 L331,716 L331.4,715.3 L331.8,714.8 L332.1,714.3 L332.5,713.9 L332.9,713.6 L333.3,713.4 L333.6,713.3 L334,713.3 L334.4,713.4 L334.8,713.6 L335.1,713.8 L335.5,714.2 L335.9,714.6 L336.3,715.1 L336.6,715.6 L337,716.2 L337.4,716.8 L337.8,717.5 L340,721.9 L340.4,722.6 L340.8,723.3 L341.1,723.9 L341.5,724.5 L341.9,725 L342.3,725.4 L342.7,725.8 L343,726.2 L343.4,726.4 L343.8,726.6 L344.2,726.7 L344.5,726.7 L344.9,726.7 L345.3,726.5 L345.7,726.3 L346,726.1 L346.4,725.7 L346.8,725.3 L347.2,724.9 L347.5,724.3 L347.9,723.8 L348.3,723.2 L348.7,722.5 L349.8,720.5 L351.3,717.8 L351.7,717.1 L352,716.5 L352.4,716 L352.8,715.4 L353.2,715 L353.5,714.5 L353.9,714.2 L354.3,713.9 L354.7,713.6 L355,713.5 L355.4,713.3 L355.8,713.3 L356.2,713.3 L356.5,713.4 L356.9,713.5 L357.3,713.7 L357.7,714 L358,714.3 L358.4,714.7 L358.8,715.1 L359.2,715.5 L359.5,716 L362.6,720.1 L362.9,720.5 L363.3,721 L363.7,721.4 L364.1,721.7 L364.4,722.1 L364.8,722.3 L365.2,722.6 L365.6,722.7 L365.9,722.8 L366.3,722.9 L366.7,722.9 L367.1,722.9 L367.4,722.8 L367.8,722.6 L368.2,722.4 L368.6,722.2 L368.9,721.9 L369.3,721.5 L369.7,721.1 L370.1,720.7 L370.4,720.3 L373.8,715.9 L374.2,715.5 L374.6,715.1 L374.9,714.7 L375.3,714.4 L375.7,714.1 L376.1,713.9 L376.4,713.7 L376.8,713.5 L377.2,713.4 L377.6,713.3 L377.9,713.3 L378.3,713.3 L378.7,713.4 L379.1,713.5 L379.4,713.7 L379.8,713.9 L380.2,714.1 L380.6,714.4 L380.9,714.7 L381.3,715.1 L385.1,718.9 L385.5,719.2 L385.8,719.5 L386.2,719.8 L386.6,720 L387,720.2 L387.3,720.4 L387.7,720.5 L388.1,720.6 L388.5,720.6 L388.8,720.6 L389.2,720.5 L389.6,720.5 L390,720.3 L390.3,720.2 L390.7,720 L391.1,719.7 L391.5,719.5 L391.8,719.2 L392.2,718.9 L394.8,716.3 L396.3,714.9 L396.7,714.6 L397.1,714.3 L397.5,714.1 L397.8,713.9 L398.2,713.7 L398.6,713.5 L399,713.4 L399.3,713.3 L399.7,713.3 L400.1,713.3 L400.5,713.3 L400.9,713.4 L401.2,713.5 L401.6,713.7 L402,713.8 L402.4,714 L402.7,714.3 L407.6,718 L408,718.3 L408.4,718.5 L408.7,718.6 L409.1,718.8 L409.5,718.9 L409.9,719 L410.2,719 L410.6,719.1 L411,719 L411.4,719 L411.7,718.9 L412.1,718.8 L412.5,718.7 L412.9,718.5 L413.2,718.3 L413.6,718.1 L418.9,714.2 L419.2,714 L419.6,713.8 L420,713.7 L420.4,713.5 L420.8,713.4 L421.1,713.4 L421.5,713.3 L421.9,713.3 L422.3,713.3 L422.6,713.4 L423,713.4 L423.4,713.5 L423.8,713.6 L424.1,713.8 L424.5,714 L424.9,714.1 L430.1,717.4 L430.5,717.5 L430.9,717.7 L431.3,717.8 L431.6,717.9 L432,717.9 L432.4,718 L432.8,718 L433.1,718 L433.5,717.9 L433.9,717.9 L434.3,717.8 L434.6,717.6 L435,717.5 L439.9,714.6 L441.8,713.7 L442.2,713.6 L442.5,713.5 L442.9,713.4 L443.3,713.3 L443.7,713.3 L444,713.3 L444.4,713.3 L444.8,713.4 L445.2,713.4 L445.5,713.5 L453,717 L453.4,717.1 L453.8,717.1 L454.2,717.2 L454.5,717.2 L454.9,717.2 L455.3,717.2 L455.7,717.1 L456,717.1 L465.1,713.4 L465.4,713.3 L465.8,713.3 L466.2,713.3 L469.9,714.3 L485,713.8 L500,716.1 L515,714.4 L530,713.5 L545,715.3 L560.1,714.5 L575.1,713.3 L590.1,714.7 L605.1,714.4 L620.1,713.3 L635.2,714.3 L650.2,714.4 L665.2,713.3 L680.2,713.9 L695.2,714.3 L710.2,713.4 L725.3,713.7 L740.3,714.2 L755.3,713.5 L770.3,713.5 L785.3,714.1 L800.4,713.6 L815.4,713.4 L830.4,714 L845.4,713.6 L860.4,713.3 L875.5,713.9 L890.5,713.7 L905.5,713.3 L920.5,713.7 L935.5,713.7 L950.6,713.3 L965.6,713.6 L980.6,713.7 L995.6,713.3 L1010.6,713.5 L1025.3,713.7" fill="none" stroke="#008080" stroke-width="5.3" stroke-linejoin="round"/>
<path d="M124.5,727.9 L124.9,728 L125.2,728 L125.6,727.9 L126,727.7 L126.4,727.5 L126.7,727.1 L127.1,726.7 L127.5,726.3 L127.9,725.7 L128.2,725.1 L128.6,724.5 L129,723.8 L129.4,723 L129.8,722.2 L131.6,718.2 L132,717.5 L132.4,716.8 L132.8,716.1 L133.1,715.5 L133.5,714.9 L133.9,714.4 L134.3,714 L134.6,713.7 L135,713.5 L135.4,713.3 L135.8,713.3 L136.1,713.4 L136.5,713.5 L136.9,713.8 L137.3,714.1 L137.6,714.6 L138,715.1 L138.4,715.7 L138.8,716.4 L139.1,717.2 L139.5,718.1 L139.9,719 L140.3,719.9 L140.6,720.9 L142.5,726.2 L142.9,727.2 L143.3,728.2 L143.6,729.1 L144,730 L144.4,730.8 L144.8,731.5 L145.1,732.1 L145.5,732.7 L145.9,733.1 L146.3,733.4 L146.6,733.6 L147,733.7 L147.4,733.7 L147.8,733.6 L148.1,733.3 L148.5,733 L148.9,732.5 L149.3,731.9 L149.7,731.2 L150,730.5 L150.4,729.6 L150.8,728.7 L151.2,727.7 L151.5,726.6 L151.9,725.5 L153.4,721 L153.8,719.9 L154.2,718.9 L154.5,717.9 L154.9,717 L155.3,716.1 L155.7,715.4 L156,714.7 L156.4,714.2 L156.8,713.8 L157.2,713.5 L157.5,713.3 L157.9,713.3 L158.3,713.4 L158.7,713.7 L159,714.1 L159.4,714.7 L159.8,715.4 L160.2,716.2 L160.5,717.2 L160.9,718.3 L161.3,719.5 L161.7,720.8 L162,722.2 L162.4,723.6 L162.8,725.1 L163.2,726.7 L164.3,731.4 L164.7,733 L165,734.5 L165.4,736 L165.8,737.4 L166.2,738.7 L166.5,739.9 L166.9,741 L167.3,741.9 L167.7,742.7 L168.1,743.4 L168.4,743.9 L168.8,744.2 L169.2,744.3 L169.6,744.3 L169.9,744.1 L170.3,743.7 L170.7,743.1 L171.1,742.4 L171.4,741.5 L171.8,740.4 L172.2,739.2 L172.6,737.9 L172.9,736.5 L173.3,735 L173.7,733.3 L174.1,731.7 L174.4,730 L175.2,726.5 L175.6,724.8 L175.9,723.1 L176.3,721.5 L176.7,720 L177.1,718.6 L177.4,717.3 L177.8,716.2 L178.2,715.2 L178.6,714.4 L178.9,713.8 L179.3,713.5 L179.7,713.3 L180.1,713.4 L180.4,713.7 L180.8,714.2 L181.2,715 L181.6,716 L181.9,717.2 L182.3,718.7 L182.7,720.3 L183.1,722.2 L183.4,724.3 L183.8,726.5 L184.2,728.9 L184.6,731.3 L184.9,733.9 L185.3,736.6 L185.7,739.3 L186.4,744.8 L186.8,747.5 L187.2,750.2 L187.6,752.7 L188,755.2 L188.3,757.4 L188.7,759.6 L189.1,761.5 L189.5,763.1 L189.8,764.6 L190.2,765.8 L190.6,766.7 L191,767.3 L191.3,767.6 L191.7,767.6 L192.1,767.3 L192.5,766.7 L192.8,765.7 L193.2,764.5 L193.6,763 L194,761.2 L194.3,759.1 L194.7,756.8 L195.1,754.3 L195.5,751.6 L195.8,748.8 L196.2,745.8 L196.6,742.8 L197.3,736.6 L197.7,733.5 L198.1,730.5 L198.5,727.6 L198.8,724.9 L199.2,722.4 L199.6,720.1 L200,718.1 L200.3,716.4 L200.7,715 L201.1,714 L201.5,713.5 L201.8,713.3 L202.2,713.6 L202.6,714.4 L203,715.6 L203.3,717.3 L203.7,719.5 L204.1,722.2 L204.5,725.4 L204.8,729 L205.2,733 L205.6,737.5 L206,742.3 L206.3,747.5 L206.7,753 L207.1,758.8 L207.5,764.7 L207.9,770.9 L208.2,777.1 L209,789.6 L209.4,795.8 L209.7,801.8 L210.1,807.7 L210.5,813.3 L210.9,818.5 L211.2,823.4 L211.6,827.8 L212,831.7 L212.4,835 L212.7,837.8 L213.1,839.9 L213.5,841.3 L213.9,842.1 L214.2,842.1 L214.6,841.3 L215,839.9 L215.4,837.6 L215.7,834.7 L216.1,831 L216.5,826.6 L216.9,821.6 L217.2,816 L217.6,809.9 L218,803.3 L218.4,796.2 L218.7,788.9 L219.1,781.3 L219.5,773.6 L219.9,765.9 L220.2,758.2 L220.6,750.8 L221,743.6 L221.4,736.9 L221.7,730.8 L222.1,725.4 L222.5,720.9 L222.9,717.2 L223.2,714.7 L223.6,713.4 L224,713.3 L225.1,713.3 L225.5,856.8 L225.9,883.7 L226.3,899.7 L226.6,911.3 L227,920.6 L227.4,928.3 L227.8,934.9 L228.1,940.7 L228.5,945.8 L228.9,950.4 L229.3,954.6 L229.6,958.5 L230,962 L230.4,965.3 L230.8,968.3 L231.1,971.2 L231.5,973.8 L231.9,976.3 L232.3,978.6 L232.6,980.8 L233,982.8 L233.4,984.8 L233.8,986.6 L234.1,988.3 L234.5,990 L234.9,991.5 L235.3,993 L235.6,994.3 L236,995.6 L236.4,996.9 L236.8,998 L237.1,999.1 L237.5,1000.2 L237.9,1001.1 L238.3,1002.1 L238.6,1002.9 L239,1003.7 L239.4,1004.5 L239.8,1005.2 L240.1,1005.9 L240.5,1006.5 L240.9,1007.1 L241.3,1007.6 L241.6,1008 L242,1008.5 L242.4,1008.9 L242.8,1009.2 L243.1,1009.5 L243.5,1009.8 L243.9,1010 L244.3,1010.2 L244.6,1010.3 L245,1010.4 L245.4,1010.5 L245.8,1010.5 L246.2,1010.5 L246.5,1010.4 L246.9,1010.4 L247.3,1010.2 L247.7,1010 L248,1009.8 L248.4,1009.6 L248.8,1009.3 L249.2,1008.9 L249.5,1008.6 L249.9,1008.1 L250.3,1007.7 L250.7,1007.1 L251,1006.6 L251.4,1006 L251.8,1005.3 L252.2,1004.6 L252.5,1003.9 L252.9,1003.1 L253.3,1002.2 L253.7,1001.3 L254,1000.4 L254.4,999.3 L254.8,998.2 L255.2,997.1 L255.5,995.9 L255.9,994.6 L256.3,993.2 L256.7,991.8 L257,990.2 L257.4,988.6 L257.8,986.9 L258.2,985.1 L258.5,983.2 L258.9,981.2 L259.3,979 L259.7,976.7 L260,974.3 L260.4,971.6 L260.8,968.9 L261.2,965.9 L261.5,962.6 L261.9,959.2 L262.3,955.4 L262.7,951.2 L263,946.7 L263.4,941.7 L263.8,936 L264.2,929.6 L264.5,922.1 L264.9,913.2 L265.3,902 L265.7,887.1 L266.1,863.4 L266.4,713.3 L267.6,713.3 L267.9,713.4 L268.3,714.4 L268.7,716.7 L269.1,720.1 L269.4,724.5 L269.8,729.8 L270.2,735.8 L270.6,742.4 L270.9,749.4 L271.3,756.8 L271.7,764.5 L272.4,779.9 L272.8,787.5 L273.2,794.9 L273.6,802 L273.9,808.7 L274.3,815 L274.7,820.7 L275.1,825.8 L275.4,830.3 L275.8,834.1 L276.2,837.1 L276.6,839.5 L276.9,841.1 L277.3,842 L277.7,842.1 L278.1,841.5 L278.4,840.2 L278.8,838.2 L279.2,835.6 L279.6,832.3 L279.9,828.5 L280.3,824.2 L280.7,819.4 L281.1,814.2 L281.4,808.7 L281.8,802.9 L282.2,796.9 L282.6,790.8 L282.9,784.5 L283.3,778.2 L283.7,772 L284.1,765.8 L284.5,759.8 L284.8,754.1 L285.2,748.5 L285.6,743.3 L286,738.4 L286.3,733.8 L286.7,729.7 L287.1,726 L287.5,722.8 L287.8,720 L288.2,717.7 L288.6,715.9 L289,714.6 L289.3,713.7 L289.7,713.3 L290.1,713.4 L290.5,713.9 L290.8,714.8 L291.2,716.1 L291.6,717.7 L292,719.7 L292.3,721.9 L292.7,724.4 L293.1,727.1 L293.5,730 L293.8,733 L294.2,736 L295,742.2 L295.3,745.3 L295.7,748.2 L296.1,751.1 L296.5,753.8 L296.8,756.4 L297.2,758.7 L297.6,760.8 L298,762.7 L298.3,764.2 L298.7,765.5 L299.1,766.5 L299.5,767.2 L299.8,767.6 L300.2,767.6 L300.6,767.4 L301,766.8 L301.3,766 L301.7,764.8 L302.1,763.4 L302.5,761.8 L302.8,759.9 L303.2,757.8 L303.6,755.6 L304,753.2 L304.4,750.6 L304.7,748 L305.1,745.3 L306.2,737.1 L306.6,734.4 L307,731.8 L307.4,729.3 L307.7,726.9 L308.1,724.7 L308.5,722.6 L308.9,720.7 L309.2,719 L309.6,717.5 L310,716.2 L310.4,715.1 L310.7,714.3 L311.1,713.8 L311.5,713.4 L311.9,713.3 L312.2,713.4 L312.6,713.8 L313,714.3 L313.4,715.1 L313.7,716 L314.1,717.1 L314.5,718.3 L314.9,719.7 L315.2,721.2 L315.6,722.8 L316,724.5 L316.4,726.2 L317.5,731.4 L317.9,733 L318.2,734.7 L318.6,736.2 L319,737.7 L319.4,739 L319.7,740.2 L320.1,741.3 L320.5,742.2 L320.9,743 L321.2,743.6 L321.6,744 L322,744.3 L322.4,744.3 L322.7,744.2 L323.1,743.9 L323.5,743.5 L323.9,742.8 L324.3,742.1 L324.6,741.2 L325,740.1 L325.4,738.9 L325.8,737.6 L326.1,736.3 L326.5,734.8 L326.9,733.3 L327.3,731.7 L328.4,727 L328.8,725.4 L329.1,723.9 L329.5,722.4 L329.9,721 L330.3,719.7 L330.6,718.5 L331,717.4 L331.4,716.4 L331.8,715.5 L332.1,714.8 L332.5,714.2 L332.9,713.8 L333.3,713.5 L333.6,713.3 L334,713.3 L334.4,713.4 L334.8,713.7 L335.1,714.1 L335.5,714.6 L335.9,715.2 L336.3,716 L336.6,716.8 L337,717.7 L337.4,718.7 L337.8,719.7 L338.1,720.8 L339.6,725.3 L340,726.4 L340.4,727.5 L340.8,728.5 L341.1,729.4 L341.5,730.3 L341.9,731.1 L342.3,731.8 L342.7,732.4 L343,732.9 L343.4,733.3 L343.8,733.5 L344.2,733.7 L344.5,733.7 L344.9,733.7 L345.3,733.5 L345.7,733.2 L346,732.7 L346.4,732.2 L346.8,731.6 L347.2,730.9 L347.5,730.1 L347.9,729.3 L348.3,728.3 L348.7,727.4 L349,726.4 L349.8,724.3 L350.9,721.1 L351.3,720.1 L351.7,719.1 L352,718.2 L352.4,717.4 L352.8,716.6 L353.2,715.8 L353.5,715.2 L353.9,714.6 L354.3,714.2 L354.7,713.8 L355,713.5 L355.4,713.4 L355.8,713.3 L356.2,713.3 L356.5,713.5 L356.9,713.7 L357.3,714 L357.7,714.4 L358,714.8 L358.4,715.4 L358.8,716 L359.2,716.6 L359.5,717.4 L359.9,718.1 L362.2,722.9 L362.6,723.6 L362.9,724.3 L363.3,725 L363.7,725.6 L364.1,726.2 L364.4,726.7 L364.8,727.1 L365.2,727.4 L365.6,727.7 L365.9,727.9 L366.3,727.9 L366.7,728 L367.1,727.9 L367.4,727.7 L367.8,727.5 L368.2,727.2 L368.6,726.8 L368.9,726.3 L369.3,725.8 L369.7,725.3 L370.1,724.6 L370.4,724 L370.8,723.3 L373.1,718.7 L373.4,718 L373.8,717.3 L374.2,716.7 L374.6,716.1 L374.9,715.5 L375.3,715 L375.7,714.5 L376.1,714.2 L376.4,713.8 L376.8,713.6 L377.2,713.4 L377.6,713.3 L377.9,713.3 L378.3,713.3 L378.7,713.5 L379.1,713.7 L379.4,713.9 L379.8,714.2 L380.2,714.6 L380.6,715 L380.9,715.5 L381.3,716 L381.7,716.5 L382.1,717.1 L384.3,720.7 L384.7,721.3 L385.1,721.8 L385.5,722.3 L385.8,722.7 L386.2,723.2 L386.6,723.5 L387,723.8 L387.3,724.1 L387.7,724.2 L388.1,724.4 L388.5,724.4 L388.8,724.4 L389.2,724.3 L389.6,724.2 L390,724 L390.3,723.8 L390.7,723.5 L391.1,723.1 L391.5,722.7 L391.8,722.3 L392.2,721.8 L392.6,721.3 L394.8,717.8 L395.6,716.7 L396,716.2 L396.3,715.7 L396.7,715.3 L397.1,714.8 L397.5,714.5 L397.8,714.1 L398.2,713.9 L398.6,713.6 L399,713.5 L399.3,713.4 L399.7,713.3 L400.1,713.3 L400.5,713.4 L400.9,713.5 L401.2,713.6 L401.6,713.9 L402,714.1 L402.4,714.4 L402.7,714.8 L403.1,715.1 L403.5,715.6 L406.9,719.7 L407.2,720.1 L407.6,720.5 L408,720.8 L408.4,721.2 L408.7,721.4 L409.1,721.7 L409.5,721.8 L409.9,722 L410.2,722 L410.6,722.1 L411,722.1 L411.4,722 L411.7,721.9 L412.1,721.7 L412.5,721.5 L412.9,721.2 L413.2,721 L413.6,720.6 L414,720.3 L414.4,719.9 L417.7,715.9 L418.1,715.5 L418.5,715.1 L418.9,714.7 L419.2,714.4 L419.6,714.1 L420,713.9 L420.4,713.7 L420.8,713.5 L421.1,713.4 L421.5,713.3 L421.9,713.3 L422.3,713.3 L422.6,713.4 L423,713.5 L423.4,713.6 L423.8,713.8 L424.1,714 L424.5,714.3 L424.9,714.6 L425.3,714.9 L429,718.6 L429.4,718.9 L429.8,719.2 L430.1,719.5 L430.5,719.8 L430.9,720 L431.3,720.1 L431.6,720.3 L432,720.4 L432.4,720.4 L432.8,720.4 L433.1,720.4 L433.5,720.3 L433.9,720.2 L434.3,720.1 L434.6,719.9 L435,719.7 L435.4,719.4 L435.8,719.2 L436.1,718.9 L439.9,715.3 L440.3,715 L440.7,714.7 L441,714.4 L441.4,714.1 L441.8,713.9 L442.2,713.7 L442.5,713.6 L442.9,713.4 L443.3,713.4 L443.7,713.3 L444,713.3 L444.4,713.3 L444.8,713.4 L445.2,713.5 L445.5,713.6 L445.9,713.8 L446.3,714 L446.7,714.2 L447,714.5 L451.5,718.1 L451.9,718.3 L452.3,718.5 L452.7,718.7 L453,718.9 L453.4,719 L453.8,719.1 L454.2,719.2 L454.5,719.2 L454.9,719.2 L455.3,719.2 L455.7,719.1 L456,719 L456.4,718.9 L456.8,718.7 L457.2,718.6 L457.5,718.3 L457.9,718.1 L462.8,714.3 L463.2,714.1 L463.6,713.9 L463.9,713.7 L464.3,713.6 L464.7,713.5 L465.1,713.4 L465.4,713.3 L465.8,713.3 L466.2,713.3 L466.6,713.3 L466.9,713.4 L467.3,713.5 L467.7,713.6 L468.1,713.8 L468.4,714 L469.9,714.8 L474.1,717.6 L474.4,717.8 L474.8,718 L475.2,718.1 L475.6,718.2 L475.9,718.3 L476.3,718.3 L476.7,718.3 L477.1,718.3 L477.4,718.3 L477.8,718.2 L478.2,718.1 L478.6,718 L479,717.9 L479.3,717.7 L485,714.1 L485.3,713.9 L485.7,713.8 L486.1,713.6 L486.5,713.5 L486.8,713.4 L487.2,713.4 L487.6,713.3 L488,713.3 L488.3,713.3 L488.7,713.4 L489.1,713.4 L489.5,713.5 L489.8,713.6 L490.2,713.8 L496.6,717.2 L497,717.3 L497.3,717.5 L497.7,717.5 L498.1,717.6 L498.5,717.6 L498.9,717.6 L499.2,717.6 L499.6,717.6 L500,717.5 L500.4,717.4 L500.7,717.3 L508.2,713.5 L508.6,713.5 L509,713.4 L509.4,713.3 L509.7,713.3 L510.1,713.3 L510.5,713.3 L510.9,713.4 L511.2,713.4 L515,715 L519.5,716.9 L519.9,717 L520.3,717.1 L520.6,717.1 L521,717.1 L521.4,717.1 L521.8,717 L522.1,716.9 L530,713.6 L531.1,713.4 L531.5,713.3 L531.9,713.3 L532.3,713.3 L545,716.3 L560.1,715.1 L575.1,713.3 L590.1,715.4 L605.1,715 L620.1,713.3 L635.2,714.8 L650.2,715 L665.2,713.3 L680.2,714.3 L695.2,714.9 L710.2,713.4 L725.3,713.9 L740.3,714.7 L755.3,713.6 L770.3,713.6 L785.3,714.5 L800.4,713.7 L815.4,713.5 L830.4,714.4 L845.4,713.8 L860.4,713.4 L875.5,714.2 L890.5,713.9 L905.5,713.3 L920.5,714 L935.5,713.9 L950.6,713.3 L965.6,713.8 L980.6,713.9 L995.6,713.3 L1010.6,713.7 L1025.3,713.9" fill="none" stroke="#000000" stroke-width="5.3" stroke-linejoin="round"/>
<path d="M124.5,721 L124.9,721 L125.2,721 L125.6,721 L126,720.9 L126.4,720.7 L126.7,720.6 L127.1,720.4 L127.5,720.1 L127.9,719.8 L128.2,719.5 L128.6,719.2 L129,718.8 L132.4,715.1 L132.8,714.8 L133.1,714.4 L133.5,714.2 L133.9,713.9 L134.3,713.7 L134.6,713.5 L135,713.4 L135.4,713.3 L135.8,713.3 L136.1,713.3 L136.5,713.4 L136.9,713.5 L137.3,713.7 L137.6,714 L138,714.2 L138.4,714.6 L138.8,714.9 L139.1,715.4 L139.5,715.8 L139.9,716.3 L140.3,716.8 L143.3,721.1 L143.6,721.6 L144,722.1 L144.4,722.5 L144.8,722.9 L145.1,723.2 L145.5,723.5 L145.9,723.7 L146.3,723.9 L146.6,724 L147,724 L147.4,724 L147.8,724 L148.1,723.8 L148.5,723.6 L148.9,723.4 L149.3,723.1 L149.7,722.7 L150,722.3 L150.4,721.9 L150.8,721.4 L151.2,720.9 L151.5,720.3 L153.8,716.8 L154.2,716.2 L154.5,715.7 L154.9,715.2 L155.3,714.8 L155.7,714.4 L156,714 L156.4,713.8 L156.8,713.5 L157.2,713.4 L157.5,713.3 L157.9,713.3 L158.3,713.4 L158.7,713.5 L159,713.7 L159.4,714 L159.8,714.4 L160.2,714.8 L160.5,715.4 L160.9,715.9 L161.3,716.6 L161.7,717.2 L162,718 L162.4,718.7 L162.8,719.5 L164.7,723.7 L165,724.5 L165.4,725.2 L165.8,726 L166.2,726.7 L166.5,727.3 L166.9,727.9 L167.3,728.3 L167.7,728.8 L168.1,729.1 L168.4,729.4 L168.8,729.5 L169.2,729.6 L169.6,729.6 L169.9,729.5 L170.3,729.3 L170.7,729 L171.1,728.6 L171.4,728.1 L171.8,727.6 L172.2,726.9 L172.6,726.3 L172.9,725.5 L173.3,724.7 L173.7,723.8 L174.1,723 L175.6,719.3 L175.9,718.5 L176.3,717.6 L176.7,716.8 L177.1,716.1 L177.4,715.4 L177.8,714.8 L178.2,714.3 L178.6,713.9 L178.9,713.6 L179.3,713.4 L179.7,713.3 L180.1,713.3 L180.4,713.5 L180.8,713.8 L181.2,714.2 L181.6,714.7 L181.9,715.4 L182.3,716.1 L182.7,717 L183.1,718 L183.4,719.1 L183.8,720.2 L184.2,721.5 L184.6,722.8 L184.9,724.2 L185.3,725.6 L186.8,731.3 L187.2,732.7 L187.6,734 L188,735.3 L188.3,736.5 L188.7,737.6 L189.1,738.6 L189.5,739.5 L189.8,740.3 L190.2,740.9 L190.6,741.4 L191,741.7 L191.3,741.9 L191.7,741.9 L192.1,741.7 L192.5,741.4 L192.8,740.9 L193.2,740.2 L193.6,739.4 L194,738.5 L194.3,737.4 L194.7,736.2 L195.1,734.9 L195.5,733.5 L195.8,732 L196.2,730.4 L196.6,728.8 L197.7,723.9 L198.1,722.4 L198.5,720.8 L198.8,719.4 L199.2,718.1 L199.6,716.9 L200,715.8 L200.3,714.9 L200.7,714.2 L201.1,713.7 L201.5,713.4 L201.8,713.3 L202.2,713.5 L202.6,713.9 L203,714.5 L203.3,715.4 L203.7,716.6 L204.1,718 L204.5,719.7 L204.8,721.6 L205.2,723.7 L205.6,726 L206,728.6 L206.3,731.3 L206.7,734.2 L207.1,737.2 L207.5,740.4 L207.9,743.6 L208.2,746.8 L209,753.4 L209.4,756.7 L209.7,759.9 L210.1,762.9 L210.5,765.9 L210.9,768.6 L211.2,771.2 L211.6,773.5 L212,775.6 L212.4,777.3 L212.7,778.8 L213.1,779.9 L213.5,780.6 L213.9,781 L214.2,781 L214.6,780.6 L215,779.9 L215.4,778.7 L215.7,777.1 L216.1,775.2 L216.5,772.9 L216.9,770.3 L217.2,767.3 L217.6,764.1 L218,760.6 L218.4,756.9 L218.7,753.1 L219.1,749.1 L219.9,740.9 L220.2,736.9 L220.6,733 L221,729.3 L221.4,725.7 L221.7,722.5 L222.1,719.7 L222.5,717.3 L222.9,715.4 L223.2,714.1 L223.6,713.4 L224,713.3 L226.6,713.3 L227,738.1 L227.4,775.4 L227.8,802.5 L228.1,824.9 L228.5,844.5 L228.9,862 L229.3,877.8 L229.6,892.2 L230,905.4 L230.4,917.6 L230.8,928.9 L231.1,939.4 L231.5,949.1 L231.9,958.2 L232.3,966.6 L232.6,974.5 L233,981.8 L233.4,988.6 L233.8,994.9 L234.1,1000.8 L234.5,1006.2 L234.9,1011.3 L235.3,1016 L235.6,1020.3 L236,1024.3 L236.4,1028 L236.8,1031.4 L237.1,1034.5 L237.5,1037.3 L237.9,1039.9 L238.3,1042.2 L238.6,1044.3 L239,1046.2 L239.4,1047.9 L239.8,1049.4 L240.1,1050.7 L240.5,1051.8 L240.9,1052.8 L241.3,1053.7 L241.6,1054.4 L242,1055 L242.4,1055.5 L242.8,1055.9 L243.1,1056.2 L243.5,1056.4 L243.9,1056.6 L244.3,1056.7 L244.6,1056.8 L245,1056.8 L246.5,1056.8 L246.9,1056.8 L247.3,1056.7 L247.7,1056.6 L248,1056.5 L248.4,1056.3 L248.8,1056 L249.2,1055.6 L249.5,1055.1 L249.9,1054.5 L250.3,1053.8 L250.7,1053 L251,1052 L251.4,1050.9 L251.8,1049.6 L252.2,1048.2 L252.5,1046.5 L252.9,1044.7 L253.3,1042.6 L253.7,1040.3 L254,1037.8 L254.4,1035 L254.8,1032 L255.2,1028.6 L255.5,1025 L255.9,1021.1 L256.3,1016.8 L256.7,1012.2 L257,1007.2 L257.4,1001.8 L257.8,996 L258.2,989.8 L258.5,983.1 L258.9,975.8 L259.3,968.1 L259.7,959.8 L260,950.8 L260.4,941.2 L260.8,930.9 L261.2,919.7 L261.5,907.7 L261.9,894.7 L262.3,880.5 L262.7,865 L263,847.8 L263.4,828.7 L263.8,806.8 L264.2,780.8 L264.5,746.5 L264.9,713.3 L267.6,713.3 L267.9,713.3 L268.3,713.9 L268.7,715.1 L269.1,716.9 L269.4,719.2 L269.8,722 L270.2,725.1 L270.6,728.6 L270.9,732.3 L271.3,736.2 L271.7,740.2 L272.4,748.3 L272.8,752.3 L273.2,756.2 L273.6,760 L273.9,763.5 L274.3,766.8 L274.7,769.8 L275.1,772.5 L275.4,774.8 L275.8,776.8 L276.2,778.4 L276.6,779.7 L276.9,780.5 L277.3,781 L277.7,781 L278.1,780.7 L278.4,780 L278.8,779 L279.2,777.6 L279.6,775.9 L279.9,773.9 L280.3,771.6 L280.7,769.1 L281.1,766.4 L281.4,763.5 L281.8,760.4 L282.2,757.3 L282.6,754 L283.7,744.2 L284.1,740.9 L284.5,737.8 L284.8,734.7 L285.2,731.8 L285.6,729.1 L286,726.5 L286.3,724.1 L286.7,721.9 L287.1,720 L287.5,718.3 L287.8,716.8 L288.2,715.6 L288.6,714.7 L289,714 L289.3,713.5 L289.7,713.3 L290.1,713.3 L290.5,713.6 L290.8,714.1 L291.2,714.8 L291.6,715.6 L292,716.7 L292.3,717.8 L292.7,719.2 L293.1,720.6 L293.5,722.1 L293.8,723.6 L294.2,725.2 L295,728.5 L295.3,730.1 L295.7,731.7 L296.1,733.2 L296.5,734.6 L296.8,736 L297.2,737.2 L297.6,738.3 L298,739.3 L298.3,740.1 L298.7,740.8 L299.1,741.3 L299.5,741.6 L299.8,741.8 L300.2,741.9 L300.6,741.7 L301,741.4 L301.3,741 L301.7,740.4 L302.1,739.7 L302.5,738.8 L302.8,737.8 L303.2,736.7 L303.6,735.5 L304,734.3 L304.4,732.9 L304.7,731.6 L305.1,730.1 L306.2,725.8 L306.6,724.4 L307,723 L307.4,721.7 L307.7,720.5 L308.1,719.3 L308.5,718.2 L308.9,717.2 L309.2,716.3 L309.6,715.5 L310,714.8 L310.4,714.3 L310.7,713.8 L311.1,713.5 L311.5,713.4 L311.9,713.3 L312.2,713.4 L312.6,713.5 L313,713.8 L313.4,714.2 L313.7,714.7 L314.1,715.3 L314.5,716 L314.9,716.7 L315.2,717.5 L315.6,718.3 L316,719.2 L317.9,723.7 L318.2,724.5 L318.6,725.4 L319,726.1 L319.4,726.8 L319.7,727.5 L320.1,728 L320.5,728.5 L320.9,728.9 L321.2,729.2 L321.6,729.4 L322,729.6 L322.4,729.6 L322.7,729.6 L323.1,729.4 L323.5,729.2 L323.9,728.8 L324.3,728.4 L324.6,727.9 L325,727.4 L325.4,726.8 L325.8,726.1 L326.1,725.4 L326.5,724.6 L326.9,723.8 L328.8,719.7 L329.1,718.9 L329.5,718.1 L329.9,717.4 L330.3,716.7 L330.6,716 L331,715.5 L331.4,714.9 L331.8,714.5 L332.1,714.1 L332.5,713.8 L332.9,713.6 L333.3,713.4 L333.6,713.3 L334,713.3 L334.4,713.4 L334.8,713.5 L335.1,713.7 L335.5,714 L335.9,714.3 L336.3,714.7 L336.6,715.1 L337,715.6 L337.4,716.1 L337.8,716.7 L340.4,720.8 L340.8,721.3 L341.1,721.8 L341.5,722.2 L341.9,722.7 L342.3,723 L342.7,723.3 L343,723.6 L343.4,723.8 L343.8,724 L344.2,724 L344.5,724.1 L344.9,724 L345.3,723.9 L345.7,723.7 L346,723.5 L346.4,723.3 L346.8,722.9 L347.2,722.6 L347.5,722.1 L347.9,721.7 L348.3,721.2 L348.7,720.7 L349.8,719.1 L351.3,716.9 L351.7,716.4 L352,715.9 L352.4,715.4 L352.8,715 L353.2,714.6 L353.5,714.3 L353.9,714 L354.3,713.8 L354.7,713.6 L355,713.4 L355.4,713.3 L355.8,713.3 L356.2,713.3 L356.5,713.4 L356.9,713.5 L357.3,713.7 L357.7,713.9 L358,714.1 L358.4,714.4 L358.8,714.7 L359.2,715.1 L359.5,715.4 L362.9,719.1 L363.3,719.5 L363.7,719.8 L364.1,720.1 L364.4,720.3 L364.8,720.5 L365.2,720.7 L365.6,720.9 L365.9,721 L366.3,721 L366.7,721 L367.1,721 L367.4,720.9 L367.8,720.8 L368.2,720.6 L368.6,720.4 L368.9,720.2 L369.3,719.9 L369.7,719.6 L370.1,719.3 L374.2,715.1 L374.6,714.8 L374.9,714.5 L375.3,714.2 L375.7,714 L376.1,713.8 L376.4,713.6 L376.8,713.5 L377.2,713.4 L377.6,713.3 L377.9,713.3 L378.3,713.3 L378.7,713.4 L379.1,713.5 L379.4,713.6 L379.8,713.8 L380.2,714 L380.6,714.2 L380.9,714.4 L385.5,718 L385.8,718.3 L386.2,718.5 L386.6,718.7 L387,718.8 L387.3,719 L387.7,719.1 L388.1,719.1 L388.5,719.1 L388.8,719.1 L389.2,719.1 L389.6,719 L390,718.9 L390.3,718.8 L390.7,718.6 L391.1,718.5 L391.5,718.2 L394.8,715.7 L396.7,714.3 L397.1,714.1 L397.5,713.9 L397.8,713.7 L398.2,713.6 L398.6,713.5 L399,713.4 L399.3,713.3 L399.7,713.3 L400.1,713.3 L400.5,713.3 L400.9,713.4 L401.2,713.5 L401.6,713.6 L402,713.7 L402.4,713.9 L408.4,717.4 L408.7,717.6 L409.1,717.7 L409.5,717.8 L409.9,717.9 L410.2,717.9 L410.6,717.9 L411,717.9 L411.4,717.9 L411.7,717.8 L412.1,717.7 L412.5,717.6 L412.9,717.5 L419.6,713.7 L420,713.6 L420.4,713.5 L420.8,713.4 L421.1,713.4 L421.5,713.3 L421.9,713.3 L422.3,713.3 L422.6,713.3 L423,713.4 L423.4,713.5 L424.9,714 L431.3,716.9 L431.6,717 L432,717 L432.4,717 L432.8,717.1 L433.1,717 L433.5,717 L433.9,716.9 L439.9,714.3 L454.9,716.4 L469.9,714.1 L485,713.7 L500,715.5 L515,714.2 L530,713.4 L545,714.9 L560.1,714.2 L575.1,713.3 L590.1,714.4 L605.1,714.2 L620.1,713.3 L635.2,714.1 L650.2,714.2 L665.2,713.3 L680.2,713.8 L695.2,714.1 L710.2,713.4 L725.3,713.6 L740.3,714 L755.3,713.4 L770.3,713.5 L785.3,714 L800.4,713.5 L815.4,713.4 L830.4,713.9 L845.4,713.6 L860.4,713.3 L875.5,713.8 L890.5,713.6 L905.5,713.3 L920.5,713.7 L935.5,713.6 L950.6,713.3 L965.6,713.6 L980.6,713.6 L995.6,713.3 L1010.6,713.5 L1025.3,713.6" fill="none" stroke="#ff0000" stroke-width="5.3" stroke-linejoin="round"/>
<path d="M124.5,715.2 L139.5,713.9 L154.5,713.9 L167.7,717.2 L168.1,717.3 L168.4,717.3 L168.8,717.4 L169.2,717.4 L169.6,717.4 L169.9,717.4 L170.3,717.3 L170.7,717.3 L171.1,717.2 L171.4,717 L177.8,713.7 L178.2,713.6 L178.6,713.5 L178.9,713.4 L179.3,713.3 L179.7,713.3 L180.1,713.3 L180.4,713.3 L180.8,713.4 L181.2,713.5 L181.6,713.7 L181.9,713.8 L182.3,714 L182.7,714.2 L183.1,714.5 L183.4,714.8 L184.6,715.7 L188.3,719.2 L188.7,719.4 L189.1,719.7 L189.5,719.9 L189.8,720.1 L190.2,720.3 L190.6,720.4 L191,720.5 L191.3,720.5 L191.7,720.5 L192.1,720.5 L192.5,720.4 L192.8,720.2 L193.2,720.1 L193.6,719.9 L194,719.6 L194.3,719.4 L194.7,719.1 L195.1,718.7 L195.5,718.4 L198.5,715.2 L198.8,714.8 L199.2,714.5 L199.6,714.2 L200,713.9 L200.3,713.7 L200.7,713.5 L201.1,713.4 L201.5,713.3 L201.8,713.3 L202.2,713.3 L202.6,713.4 L203,713.6 L203.3,713.8 L203.7,714.1 L204.1,714.5 L204.5,714.9 L204.8,715.4 L205.2,715.9 L205.6,716.5 L206,717.1 L206.3,717.8 L206.7,718.6 L207.1,719.3 L207.5,720.1 L209.7,725 L210.1,725.8 L210.5,726.5 L210.9,727.2 L211.2,727.9 L211.6,728.5 L212,729 L212.4,729.4 L212.7,729.8 L213.1,730.1 L213.5,730.3 L213.9,730.4 L214.2,730.4 L214.6,730.3 L215,730.1 L215.4,729.8 L215.7,729.4 L216.1,728.9 L216.5,728.3 L216.9,727.7 L217.2,726.9 L217.6,726.1 L218,725.2 L218.4,724.3 L218.7,723.3 L220.2,719.3 L220.6,718.3 L221,717.3 L221.4,716.4 L221.7,715.6 L222.1,714.9 L222.5,714.3 L222.9,713.8 L223.2,713.5 L223.6,713.3 L229.6,713.3 L232.3,713.3 L232.6,713.8 L233,720 L233.4,726.1 L233.8,732 L234.1,737.7 L234.5,743.3 L234.9,748.7 L235.3,754 L235.6,759.1 L236,764.1 L236.4,768.9 L236.8,773.5 L237.1,778 L237.5,782.4 L237.9,786.5 L238.3,790.5 L238.6,794.4 L239,798 L239.4,801.6 L239.8,804.9 L240.1,808.1 L240.5,811.1 L240.9,813.9 L241.3,816.5 L241.6,819 L242,821.3 L242.4,823.4 L242.8,825.3 L243.1,827.1 L243.5,828.6 L243.9,829.9 L244.3,831.1 L244.6,832 L245,832.7 L245.4,833.2 L245.8,833.4 L246.2,833.2 L246.5,832.8 L246.9,832.2 L247.3,831.3 L247.7,830.2 L248,828.9 L248.4,827.4 L248.8,825.7 L249.2,823.8 L249.5,821.7 L249.9,819.4 L250.3,817 L250.7,814.4 L251,811.6 L251.4,808.6 L251.8,805.5 L252.2,802.2 L252.5,798.7 L252.9,795.1 L253.3,791.2 L253.7,787.3 L254,783.1 L254.4,778.8 L254.8,774.4 L255.2,769.7 L255.5,765 L255.9,760 L256.3,754.9 L256.7,749.7 L257,744.3 L257.4,738.7 L257.8,733 L258.2,727.2 L258.5,721.1 L258.9,715 L259.3,713.3 L259.7,713.3 L267.9,713.3 L268.3,713.4 L268.7,713.8 L269.1,714.2 L269.4,714.8 L269.8,715.5 L270.2,716.3 L270.6,717.2 L270.9,718.1 L271.3,719.1 L272.8,723.1 L273.2,724.1 L273.6,725.1 L273.9,725.9 L274.3,726.8 L274.7,727.5 L275.1,728.2 L275.4,728.8 L275.8,729.3 L276.2,729.7 L276.6,730 L276.9,730.2 L277.3,730.4 L277.7,730.4 L278.1,730.3 L278.4,730.1 L278.8,729.9 L279.2,729.5 L279.6,729.1 L279.9,728.6 L280.3,728 L280.7,727.4 L281.1,726.7 L281.4,725.9 L281.8,725.2 L282.2,724.4 L284.5,719.5 L284.8,718.7 L285.2,718 L285.6,717.3 L286,716.6 L286.3,716 L286.7,715.5 L287.1,715 L287.5,714.6 L287.8,714.2 L288.2,713.9 L288.6,713.6 L289,713.5 L289.3,713.4 L289.7,713.3 L290.1,713.3 L290.5,713.4 L290.8,713.5 L291.2,713.7 L291.6,713.9 L292,714.1 L292.3,714.4 L292.7,714.8 L293.1,715.1 L296.5,718.7 L296.8,719 L297.2,719.3 L297.6,719.6 L298,719.8 L298.3,720.1 L298.7,720.2 L299.1,720.4 L299.5,720.4 L299.8,720.5 L300.2,720.5 L300.6,720.5 L301,720.4 L301.3,720.3 L301.7,720.1 L302.1,719.9 L302.5,719.7 L302.8,719.5 L303.2,719.2 L303.6,718.9 L304.7,717.9 L308.1,714.8 L308.5,714.5 L308.9,714.3 L309.2,714.1 L309.6,713.9 L310,713.7 L310.4,713.5 L310.7,713.4 L311.1,713.4 L311.5,713.3 L311.9,713.3 L312.2,713.3 L312.6,713.4 L313,713.4 L313.4,713.5 L313.7,713.7 L319.7,716.9 L320.5,717.1 L320.9,717.2 L321.2,717.3 L321.6,717.4 L322,717.4 L322.4,717.4 L322.7,717.4 L323.1,717.4 L323.5,717.3 L323.9,717.2 L334.8,713.4 L349.8,714.8 L364.8,715.1 L379.8,713.4 L394.8,713.9 L409.9,714.4 L424.9,713.5 L439.9,713.6 L454.9,714.1 L469.9,713.5 L485,713.4 L500,713.9 L515,713.5 L530,713.3 L545,713.7 L560.1,713.5 L575.1,713.3 L590.1,713.6 L605.1,713.5 L620.1,713.3 L635.2,713.5 L650.2,713.5 L665.2,713.3 L680.2,713.4 L695.2,713.5 L710.2,713.3 L725.3,713.4 L740.3,713.5 L755.3,713.3 L770.3,713.3 L785.3,713.5 L800.4,713.4 L815.4,713.3 L830.4,713.4 L845.4,713.4 L860.4,713.3 L875.5,713.4 L890.5,713.4 L905.5,713.3 L920.5,713.4 L935.5,713.4 L950.6,713.3 L965.6,713.4 L980.6,713.4 L995.6,713.3 L1010.6,713.3 L1025.3,713.4" fill="none" stroke="#0000ff" stroke-width="5.3" stroke-linejoin="round"/>
<g font-family="'Liberation Sans', Arial, sans-serif">
<text x="122.1" y="537.3" font-size="40.5" text-anchor="middle" fill="#404040">0</text>
<text x="213.6" y="537.3" font-size="40.5" text-anchor="middle" fill="#404040">25</text>
<text x="305" y="537.3" font-size="40.5" text-anchor="middle" fill="#404040">50</text>
<text x="378.3" y="539.5" font-size="40.5" text-anchor="middle" fill="#404040">0</text>
<text x="469.6" y="539.5" font-size="40.5" text-anchor="middle" fill="#404040">25</text>
<text x="561" y="539.5" font-size="40.5" text-anchor="middle" fill="#404040">50</text>
<text x="634.5" y="537.3" font-size="40.5" text-anchor="middle" fill="#404040">0</text>
<text x="725.9" y="537.3" font-size="40.5" text-anchor="middle" fill="#404040">25</text>
<text x="817.2" y="537.3" font-size="40.5" text-anchor="middle" fill="#404040">50</text>
<text x="891.2" y="537.3" font-size="40.5" text-anchor="middle" fill="#404040">0</text>
<text x="982.5" y="537.3" font-size="40.5" text-anchor="middle" fill="#404040">25</text>
<text x="1073.7" y="537.3" font-size="40.5" text-anchor="middle" fill="#404040">50</text>
<text x="112" y="105.6" font-size="40.5" text-anchor="end" fill="#404040">1</text>
<text x="115" y="286.3" font-size="40.5" text-anchor="end" fill="#404040">0.5</text>
<text x="115" y="467.2" font-size="40.5" text-anchor="end" fill="#404040">0</text>
<text x="114" y="727.2" font-size="40.5" text-anchor="end" fill="#404040">1</text>
<text x="116.6" y="913.4" font-size="40.5" text-anchor="end" fill="#404040">0.5</text>
<text x="116.6" y="1098.8" font-size="40.5" text-anchor="end" fill="#404040">0</text>
<text x="134.4" y="1133.1" font-size="40.5" text-anchor="middle" fill="#404040">0</text>
<text x="266.5" y="1133.1" font-size="40.5" text-anchor="middle" fill="#404040">0.2</text>
<text x="398.6" y="1133.1" font-size="40.5" text-anchor="middle" fill="#404040">0.4</text>
<text x="530.6" y="1133.1" font-size="40.5" text-anchor="middle" fill="#404040">0.6</text>
<text x="662.7" y="1133.1" font-size="40.5" text-anchor="middle" fill="#404040">0.8</text>
<text x="794.8" y="1133.1" font-size="40.5" text-anchor="middle" fill="#404040">1</text>
<text x="926.9" y="1133.1" font-size="40.5" text-anchor="middle" fill="#404040">1.2</text>
</g>
<g font-family="'Liberation Sans', Arial, sans-serif" fill="#000">
<text x="148.7" y="570.4" font-size="33.5" textLength="163.5" lengthAdjust="spacingAndGlyphs">Time (ms)</text>
<text x="403" y="570.4" font-size="33.5" textLength="163.5" lengthAdjust="spacingAndGlyphs">Time (ms)</text>
<text x="656" y="570.4" font-size="33.5" textLength="163.5" lengthAdjust="spacingAndGlyphs">Time (ms)</text>
<text x="911.3" y="570.4" font-size="33.5" textLength="163.5" lengthAdjust="spacingAndGlyphs">Time (ms)</text>
<text x="162.6" y="31.6" font-size="35" font-style="italic">J</text>
<text x="192.1" y="34.4" font-size="35" textLength="30" lengthAdjust="spacingAndGlyphs">=</text>
<text x="232.5" y="31.6" font-size="34.5">9</text>
<text x="253.1" y="35.9" font-size="42" font-family="'DejaVu Sans', sans-serif" font-weight="200">/</text>
<text x="270.3" y="31.6" font-size="34.5">2</text>
<text x="418.3" y="31.6" font-size="35" font-style="italic">J</text>
<text x="447.8" y="34.4" font-size="35" textLength="30" lengthAdjust="spacingAndGlyphs">=</text>
<text x="488.2" y="31.6" font-size="34.5">7</text>
<text x="508.8" y="35.9" font-size="42" font-family="'DejaVu Sans', sans-serif" font-weight="200">/</text>
<text x="526" y="31.6" font-size="34.5">2</text>
<text x="691.1" y="31.6" font-size="35" font-style="italic">J</text>
<text x="720.6" y="34.4" font-size="35" textLength="30" lengthAdjust="spacingAndGlyphs">=</text>
<text x="761" y="31.6" font-size="34.5">5</text>
<text x="781.6" y="35.9" font-size="42" font-family="'DejaVu Sans', sans-serif" font-weight="200">/</text>
<text x="798.8" y="31.6" font-size="34.5">2</text>
<text x="942.1" y="32.9" font-size="35" font-style="italic">J</text>
<text x="971.6" y="35.7" font-size="35" textLength="30" lengthAdjust="spacingAndGlyphs">=</text>
<text x="1012" y="32.9" font-size="34.5">3</text>
<text x="1032.6" y="37.2" font-size="42" font-family="'DejaVu Sans', sans-serif" font-weight="200">/</text>
<text x="1049.8" y="32.9" font-size="34.5">2</text>
<g transform="translate(29.9 474.2) rotate(-90)">
<text x="-1.5" y="0" font-size="34" textLength="372" lengthAdjust="spacingAndGlyphs">Ground state population</text>
<text x="385.3" y="0" font-size="36" font-style="italic">P</text>
<text x="408.4" y="6.2" font-size="25">|</text>
<text x="417.3" y="6.2" font-size="25">0</text>
<text x="431.1" y="8.5" font-size="28" font-family="'DejaVu Sans', sans-serif">⟩</text>
</g>
<g transform="translate(34.2 1094.2) rotate(-90)">
<text x="-1.5" y="0" font-size="34" textLength="372" lengthAdjust="spacingAndGlyphs">Ground state population</text>
<text x="385.3" y="0" font-size="36" font-style="italic">P</text>
<text x="408.4" y="6.2" font-size="25">|</text>
<text x="417.3" y="6.2" font-size="25">0</text>
<text x="431.1" y="8.5" font-size="28" font-family="'DejaVu Sans', sans-serif">⟩</text>
</g>
<text x="394.5" y="1191.4" font-size="34.5" textLength="141" lengthAdjust="spacingAndGlyphs">Detuning</text>
<text x="546.7" y="1192" font-size="34" font-style="italic">δ</text>
<text x="567.4" y="1195.8" font-size="44" font-family="'DejaVu Sans', sans-serif" font-weight="200">/</text>
<text x="583.6" y="1191.9" font-size="38.6">(</text>
<text x="597.9" y="1192" font-size="33.5">2</text>
<text x="614.8" y="1192" font-size="33" font-style="italic">π</text>
<text x="642.5" y="1191.9" font-size="38.6">)</text>
<text x="653.9" y="1191.9" font-size="38.6">(</text>
<text x="673.4" y="1192" font-size="34" font-style="italic">k</text>
<text x="689.5" y="1192" font-size="34" font-style="italic">H</text>
<text x="718.2" y="1192" font-size="34" font-style="italic">z</text>
<text x="740.2" y="1191.9" font-size="38.6">)</text>
</g>
</svg></body></html>
